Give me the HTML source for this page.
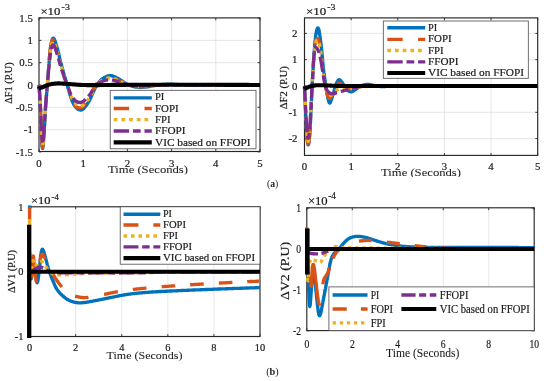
<!DOCTYPE html>
<html><head><meta charset="utf-8"><title>Figure</title>
<style>html,body{margin:0;padding:0;background:#fff}svg{display:block}</style></head>
<body>
<svg width="550" height="381" viewBox="0 0 550 381" font-family='"Liberation Serif", "Times New Roman", serif' fill="#1a1a1a">
<rect width="550" height="381" fill="#fff"/>
<filter id="bl" x="0" y="0" width="100%" height="100%"><feGaussianBlur stdDeviation="0.3"/></filter><g filter="url(#bl)">
<line x1="83.20" y1="17.90" x2="83.20" y2="151.50" stroke="#d9d9d9" stroke-width="0.65"/>
<line x1="127.40" y1="17.90" x2="127.40" y2="151.50" stroke="#d9d9d9" stroke-width="0.65"/>
<line x1="171.60" y1="17.90" x2="171.60" y2="151.50" stroke="#d9d9d9" stroke-width="0.65"/>
<line x1="215.80" y1="17.90" x2="215.80" y2="151.50" stroke="#d9d9d9" stroke-width="0.65"/>
<line x1="39.00" y1="129.60" x2="260.00" y2="129.60" stroke="#d9d9d9" stroke-width="0.65"/>
<line x1="39.00" y1="107.30" x2="260.00" y2="107.30" stroke="#d9d9d9" stroke-width="0.65"/>
<line x1="39.00" y1="85.00" x2="260.00" y2="85.00" stroke="#d9d9d9" stroke-width="0.65"/>
<line x1="39.00" y1="62.70" x2="260.00" y2="62.70" stroke="#d9d9d9" stroke-width="0.65"/>
<line x1="39.00" y1="40.40" x2="260.00" y2="40.40" stroke="#d9d9d9" stroke-width="0.65"/>
<rect x="39.00" y="17.90" width="221.00" height="133.60" fill="none" stroke="#262626" stroke-width="1.15"/>
<line x1="39.00" y1="151.50" x2="39.00" y2="149.10" stroke="#262626" stroke-width="0.9"/>
<line x1="39.00" y1="17.90" x2="39.00" y2="20.30" stroke="#262626" stroke-width="0.9"/>
<line x1="83.20" y1="151.50" x2="83.20" y2="149.10" stroke="#262626" stroke-width="0.9"/>
<line x1="83.20" y1="17.90" x2="83.20" y2="20.30" stroke="#262626" stroke-width="0.9"/>
<line x1="127.40" y1="151.50" x2="127.40" y2="149.10" stroke="#262626" stroke-width="0.9"/>
<line x1="127.40" y1="17.90" x2="127.40" y2="20.30" stroke="#262626" stroke-width="0.9"/>
<line x1="171.60" y1="151.50" x2="171.60" y2="149.10" stroke="#262626" stroke-width="0.9"/>
<line x1="171.60" y1="17.90" x2="171.60" y2="20.30" stroke="#262626" stroke-width="0.9"/>
<line x1="215.80" y1="151.50" x2="215.80" y2="149.10" stroke="#262626" stroke-width="0.9"/>
<line x1="215.80" y1="17.90" x2="215.80" y2="20.30" stroke="#262626" stroke-width="0.9"/>
<line x1="260.00" y1="151.50" x2="260.00" y2="149.10" stroke="#262626" stroke-width="0.9"/>
<line x1="260.00" y1="17.90" x2="260.00" y2="20.30" stroke="#262626" stroke-width="0.9"/>
<line x1="39.00" y1="151.90" x2="41.40" y2="151.90" stroke="#262626" stroke-width="0.9"/>
<line x1="260.00" y1="151.90" x2="257.60" y2="151.90" stroke="#262626" stroke-width="0.9"/>
<line x1="39.00" y1="129.60" x2="41.40" y2="129.60" stroke="#262626" stroke-width="0.9"/>
<line x1="260.00" y1="129.60" x2="257.60" y2="129.60" stroke="#262626" stroke-width="0.9"/>
<line x1="39.00" y1="107.30" x2="41.40" y2="107.30" stroke="#262626" stroke-width="0.9"/>
<line x1="260.00" y1="107.30" x2="257.60" y2="107.30" stroke="#262626" stroke-width="0.9"/>
<line x1="39.00" y1="85.00" x2="41.40" y2="85.00" stroke="#262626" stroke-width="0.9"/>
<line x1="260.00" y1="85.00" x2="257.60" y2="85.00" stroke="#262626" stroke-width="0.9"/>
<line x1="39.00" y1="62.70" x2="41.40" y2="62.70" stroke="#262626" stroke-width="0.9"/>
<line x1="260.00" y1="62.70" x2="257.60" y2="62.70" stroke="#262626" stroke-width="0.9"/>
<line x1="39.00" y1="40.40" x2="41.40" y2="40.40" stroke="#262626" stroke-width="0.9"/>
<line x1="260.00" y1="40.40" x2="257.60" y2="40.40" stroke="#262626" stroke-width="0.9"/>
<line x1="39.00" y1="18.10" x2="41.40" y2="18.10" stroke="#262626" stroke-width="0.9"/>
<line x1="260.00" y1="18.10" x2="257.60" y2="18.10" stroke="#262626" stroke-width="0.9"/>
<clipPath id="c1"><rect x="37.00" y="15.90" width="225.00" height="137.60"/></clipPath>
<g clip-path="url(#c1)">
<path d="M39.0 85.0 L39.0 85.0 L39.0 85.1 L39.0 85.2 L39.0 85.3 L39.0 85.4 L39.0 85.6 L39.1 85.9 L39.1 86.1 L39.1 86.4 L39.1 86.8 L39.2 87.1 L39.2 87.6 L39.2 88.0 L39.2 88.5 L39.3 89.0 L39.3 89.6 L39.4 90.2 L39.4 90.9 L39.5 91.6 L39.5 92.4 L39.6 93.2 L39.6 94.1 L39.7 95.0 L39.7 96.0 L39.8 97.1 L39.9 98.2 L39.9 99.3 L40.0 100.6 L40.1 101.9 L40.1 103.3 L40.2 104.8 L40.3 106.4 L40.4 108.0 L40.5 109.8 L40.5 111.7 L40.6 113.7 L40.7 115.9 L40.8 118.3 L40.9 120.8 L41.0 123.5 L41.1 126.2 L41.2 128.9 L41.3 131.6 L41.4 134.2 L41.5 136.6 L41.7 138.7 L41.8 140.7 L41.9 142.6 L42.0 144.3 L42.1 145.9 L42.3 147.1 L42.4 147.9 L42.5 148.3 L42.7 148.3 L42.8 147.8 L42.9 147.1 L43.1 146.1 L43.2 144.8 L43.4 143.4 L43.5 141.7 L43.7 139.7 L43.8 137.3 L44.0 134.8 L44.2 132.1 L44.3 129.4 L44.5 126.6 L44.7 123.7 L44.8 120.8 L45.0 117.8 L45.2 114.8 L45.3 111.8 L45.5 108.9 L45.7 106.1 L45.9 103.4 L46.1 100.8 L46.3 98.3 L46.5 95.7 L46.7 93.2 L46.9 90.7 L47.1 88.2 L47.3 85.6 L47.5 83.0 L47.7 80.3 L47.9 77.6 L48.1 74.8 L48.3 72.0 L48.5 69.3 L48.7 66.6 L49.0 63.9 L49.2 61.4 L49.4 58.8 L49.7 56.3 L49.9 53.8 L50.1 51.5 L50.4 49.3 L50.6 47.4 L50.8 45.8 L51.1 44.3 L51.3 43.0 L51.6 41.8 L51.8 40.8 L52.1 39.9 L52.4 39.1 L52.6 38.6 L52.9 38.3 L53.1 38.2 L53.4 38.2 L53.7 38.4 L54.0 38.7 L54.2 39.2 L54.5 39.7 L54.8 40.4 L55.1 41.1 L55.4 41.9 L55.6 42.8 L55.9 43.8 L56.2 44.7 L56.5 45.7 L56.8 46.7 L57.1 47.7 L57.4 48.8 L57.7 50.0 L58.0 51.2 L58.4 52.4 L58.7 53.7 L59.0 55.0 L59.3 56.3 L59.6 57.7 L59.9 59.0 L60.3 60.3 L60.6 61.6 L60.9 62.9 L61.3 64.2 L61.6 65.4 L61.9 66.7 L62.3 68.0 L62.6 69.2 L63.0 70.5 L63.3 71.7 L63.7 73.0 L64.0 74.3 L64.4 75.5 L64.7 76.8 L65.1 78.0 L65.5 79.3 L65.8 80.6 L66.2 81.8 L66.6 83.1 L66.9 84.3 L67.3 85.6 L67.7 86.8 L68.1 88.1 L68.5 89.4 L68.9 90.8 L69.2 92.1 L69.6 93.4 L70.0 94.7 L70.4 96.0 L70.8 97.2 L71.2 98.4 L71.6 99.5 L72.0 100.6 L72.4 101.6 L72.9 102.5 L73.3 103.4 L73.7 104.1 L74.1 104.8 L74.5 105.4 L75.0 106.0 L75.4 106.6 L75.8 107.1 L76.2 107.6 L76.7 108.1 L77.1 108.5 L77.6 108.8 L78.0 109.2 L78.4 109.4 L78.9 109.6 L79.3 109.8 L79.8 109.9 L80.2 110.0 L80.7 110.0 L81.2 110.0 L81.6 109.8 L82.1 109.6 L82.6 109.4 L83.0 109.0 L83.5 108.7 L84.0 108.2 L84.4 107.7 L84.9 107.1 L85.4 106.5 L85.9 105.9 L86.4 105.2 L86.9 104.5 L87.4 103.8 L87.9 103.0 L88.4 102.2 L88.9 101.4 L89.4 100.5 L89.9 99.5 L90.4 98.5 L90.9 97.4 L91.4 96.3 L91.9 95.2 L92.4 94.0 L92.9 92.8 L93.5 91.7 L94.0 90.5 L94.5 89.4 L95.0 88.3 L95.6 87.3 L96.1 86.3 L96.6 85.4 L97.2 84.6 L97.7 83.8 L98.3 83.1 L98.8 82.3 L99.4 81.7 L99.9 81.1 L100.5 80.5 L101.0 79.9 L101.6 79.4 L102.2 79.0 L102.7 78.5 L103.3 78.2 L103.9 77.8 L104.4 77.5 L105.0 77.2 L105.6 76.9 L106.2 76.6 L106.8 76.4 L107.3 76.1 L107.9 76.0 L108.5 75.8 L109.1 75.7 L109.7 75.6 L110.3 75.6 L110.9 75.7 L111.5 75.7 L112.1 75.9 L112.7 76.0 L113.3 76.2 L113.9 76.5 L114.6 76.7 L115.2 77.0 L115.8 77.3 L116.4 77.6 L117.0 77.9 L117.7 78.3 L118.3 78.6 L118.9 79.0 L119.6 79.3 L120.2 79.7 L120.9 80.1 L121.5 80.6 L122.1 81.0 L122.8 81.5 L123.4 81.9 L124.1 82.4 L124.8 82.8 L125.4 83.2 L126.1 83.6 L126.7 84.0 L127.4 84.4 L128.1 84.7 L128.7 85.0 L129.4 85.3 L130.1 85.5 L130.8 85.7 L131.4 86.0 L132.1 86.2 L132.8 86.4 L133.5 86.5 L134.2 86.7 L134.9 86.9 L135.6 87.0 L136.3 87.1 L137.0 87.2 L137.7 87.3 L138.4 87.4 L139.1 87.4 L139.8 87.4 L140.5 87.5 L141.2 87.4 L142.0 87.4 L142.7 87.4 L143.4 87.3 L144.1 87.3 L144.9 87.2 L145.6 87.1 L146.3 87.0 L147.1 86.9 L147.8 86.8 L148.5 86.7 L149.3 86.5 L150.0 86.4 L150.8 86.3 L151.5 86.1 L152.3 86.0 L153.1 85.8 L153.8 85.7 L154.6 85.6 L155.3 85.4 L156.1 85.3 L156.9 85.2 L157.6 85.1 L158.4 85.0 L159.2 84.9 L160.0 84.8 L160.8 84.7 L161.5 84.6 L162.3 84.5 L163.1 84.5 L163.9 84.4 L164.7 84.3 L165.5 84.3 L166.3 84.2 L167.1 84.2 L167.9 84.1 L168.7 84.1 L169.5 84.1 L170.3 84.1 L171.1 84.1 L172.0 84.2 L172.8 84.2 L173.6 84.2 L174.4 84.3 L175.3 84.4 L176.1 84.4 L176.9 84.5 L177.8 84.5 L178.6 84.6 L179.4 84.7 L180.3 84.7 L181.1 84.8 L182.0 84.9 L182.8 84.9 L183.7 85.0 L184.5 85.0 L185.4 85.0 L186.2 85.0 L187.1 85.1 L188.0 85.1 L188.8 85.1 L189.7 85.1 L190.6 85.1 L191.4 85.1 L192.3 85.1 L193.2 85.1 L194.1 85.1 L195.0 85.1 L195.9 85.1 L196.8 85.1 L197.6 85.1 L198.5 85.1 L199.4 85.1 L200.3 85.1 L201.2 85.1 L202.1 85.0 L203.1 85.0 L204.0 85.0 L204.9 85.0 L205.8 85.0 L206.7 85.0 L207.6 85.0 L208.5 85.0 L209.5 85.0 L210.4 85.0 L211.3 85.0 L212.3 85.0 L213.2 85.0 L214.1 85.0 L215.1 85.0 L216.0 85.0 L217.0 85.0 L217.9 85.0 L218.9 85.0 L219.8 85.0 L220.8 85.0 L221.7 85.0 L222.7 85.0 L223.7 85.0 L224.6 85.0 L225.6 85.0 L226.6 85.0 L227.5 85.0 L228.5 85.0 L229.5 85.0 L230.5 85.0 L231.4 85.0 L232.4 85.0 L233.4 85.0 L234.4 85.0 L235.4 85.0 L236.4 85.0 L237.4 85.0 L238.4 85.0 L239.4 85.0 L240.4 85.0 L241.4 85.0 L242.4 85.0 L243.4 85.0 L244.5 85.0 L245.5 85.0 L246.5 85.0 L247.5 85.0 L248.5 85.0 L249.6 85.0 L250.6 85.0 L251.6 85.0 L252.7 85.0 L253.7 85.0 L254.8 85.0 L255.8 85.0 L256.8 85.0 L257.9 85.0 L258.9 85.0 L260.0 85.0" fill="none" stroke="#0072BD" stroke-width="3.35" stroke-linejoin="round" />
<path d="M39.0 85.0 L39.0 85.0 L39.0 85.1 L39.0 85.2 L39.0 85.3 L39.0 85.4 L39.0 85.6 L39.1 85.9 L39.1 86.1 L39.1 86.4 L39.1 86.8 L39.2 87.2 L39.2 87.6 L39.2 88.0 L39.2 88.5 L39.3 89.1 L39.3 89.7 L39.4 90.3 L39.4 91.0 L39.5 91.7 L39.5 92.5 L39.6 93.3 L39.6 94.2 L39.7 95.1 L39.7 96.1 L39.8 97.2 L39.9 98.3 L39.9 99.5 L40.0 100.8 L40.1 102.1 L40.1 103.5 L40.2 105.0 L40.3 106.6 L40.4 108.3 L40.5 110.1 L40.5 112.0 L40.6 114.1 L40.7 116.3 L40.8 118.8 L40.9 121.4 L41.0 124.0 L41.1 126.7 L41.2 129.4 L41.3 132.1 L41.4 134.5 L41.5 136.8 L41.7 138.8 L41.8 140.8 L41.9 142.6 L42.0 144.2 L42.1 145.5 L42.3 146.6 L42.4 147.2 L42.5 147.3 L42.7 147.0 L42.8 146.4 L42.9 145.5 L43.1 144.3 L43.2 143.0 L43.4 141.4 L43.5 139.5 L43.7 137.3 L43.8 134.8 L44.0 132.2 L44.2 129.5 L44.3 126.8 L44.5 123.9 L44.7 121.0 L44.8 118.1 L45.0 115.1 L45.2 112.1 L45.3 109.2 L45.5 106.4 L45.7 103.7 L45.9 101.1 L46.1 98.6 L46.3 96.1 L46.5 93.6 L46.7 91.1 L46.9 88.7 L47.1 86.1 L47.3 83.6 L47.5 80.9 L47.7 78.2 L47.9 75.5 L48.1 72.8 L48.3 70.1 L48.5 67.4 L48.7 64.8 L49.0 62.3 L49.2 59.8 L49.4 57.3 L49.7 54.9 L49.9 52.6 L50.1 50.5 L50.4 48.6 L50.6 47.0 L50.8 45.6 L51.1 44.4 L51.3 43.2 L51.6 42.2 L51.8 41.3 L52.1 40.7 L52.4 40.2 L52.6 39.9 L52.9 39.8 L53.1 39.9 L53.4 40.1 L53.7 40.4 L54.0 40.9 L54.2 41.5 L54.5 42.1 L54.8 42.9 L55.1 43.7 L55.4 44.6 L55.6 45.5 L55.9 46.5 L56.2 47.4 L56.5 48.4 L56.8 49.5 L57.1 50.6 L57.4 51.7 L57.7 52.9 L58.0 54.1 L58.4 55.4 L58.7 56.7 L59.0 58.0 L59.3 59.3 L59.6 60.6 L59.9 61.8 L60.3 63.1 L60.6 64.3 L60.9 65.6 L61.3 66.8 L61.6 68.0 L61.9 69.2 L62.3 70.4 L62.6 71.7 L63.0 72.9 L63.3 74.1 L63.7 75.3 L64.0 76.5 L64.4 77.7 L64.7 78.9 L65.1 80.1 L65.5 81.3 L65.8 82.5 L66.2 83.7 L66.6 84.9 L66.9 86.1 L67.3 87.3 L67.7 88.6 L68.1 89.8 L68.5 91.1 L68.9 92.3 L69.2 93.5 L69.6 94.7 L70.0 95.9 L70.4 97.1 L70.8 98.2 L71.2 99.2 L71.6 100.2 L72.0 101.0 L72.4 101.8 L72.9 102.5 L73.3 103.2 L73.7 103.8 L74.1 104.4 L74.5 104.9 L75.0 105.4 L75.4 105.8 L75.8 106.3 L76.2 106.6 L76.7 107.0 L77.1 107.3 L77.6 107.5 L78.0 107.7 L78.4 107.8 L78.9 107.9 L79.3 108.0 L79.8 108.0 L80.2 107.9 L80.7 107.8 L81.2 107.6 L81.6 107.4 L82.1 107.1 L82.6 106.7 L83.0 106.3 L83.5 105.8 L84.0 105.3 L84.4 104.7 L84.9 104.1 L85.4 103.5 L85.9 102.8 L86.4 102.1 L86.9 101.4 L87.4 100.6 L87.9 99.9 L88.4 99.0 L88.9 98.1 L89.4 97.2 L89.9 96.2 L90.4 95.2 L90.9 94.1 L91.4 93.1 L91.9 92.0 L92.4 90.9 L92.9 89.9 L93.5 88.9 L94.0 87.9 L94.5 87.0 L95.0 86.1 L95.6 85.3 L96.1 84.5 L96.6 83.8 L97.2 83.2 L97.7 82.5 L98.3 82.0 L98.8 81.4 L99.4 80.9 L99.9 80.4 L100.5 80.0 L101.0 79.6 L101.6 79.2 L102.2 78.9 L102.7 78.6 L103.3 78.3 L103.9 78.0 L104.4 77.8 L105.0 77.6 L105.6 77.4 L106.2 77.2 L106.8 77.0 L107.3 76.9 L107.9 76.9 L108.5 76.8 L109.1 76.8 L109.7 76.9 L110.3 77.0 L110.9 77.1 L111.5 77.3 L112.1 77.5 L112.7 77.7 L113.3 77.9 L113.9 78.2 L114.6 78.5 L115.2 78.8 L115.8 79.1 L116.4 79.4 L117.0 79.7 L117.7 80.0 L118.3 80.3 L118.9 80.7 L119.6 81.0 L120.2 81.4 L120.9 81.8 L121.5 82.2 L122.1 82.6 L122.8 83.0 L123.4 83.4 L124.1 83.7 L124.8 84.1 L125.4 84.4 L126.1 84.7 L126.7 84.9 L127.4 85.1 L128.1 85.4 L128.7 85.6 L129.4 85.8 L130.1 85.9 L130.8 86.1 L131.4 86.3 L132.1 86.4 L132.8 86.5 L133.5 86.6 L134.2 86.7 L134.9 86.8 L135.6 86.9 L136.3 87.0 L137.0 87.0 L137.7 87.0 L138.4 87.0 L139.1 87.0 L139.8 87.0 L140.5 87.0 L141.2 86.9 L142.0 86.9 L142.7 86.8 L143.4 86.7 L144.1 86.6 L144.9 86.6 L145.6 86.5 L146.3 86.4 L147.1 86.3 L147.8 86.1 L148.5 86.0 L149.3 85.9 L150.0 85.8 L150.8 85.7 L151.5 85.6 L152.3 85.5 L153.1 85.4 L153.8 85.3 L154.6 85.2 L155.3 85.1 L156.1 85.0 L156.9 84.9 L157.6 84.8 L158.4 84.8 L159.2 84.7 L160.0 84.6 L160.8 84.6 L161.5 84.5 L162.3 84.4 L163.1 84.4 L163.9 84.4 L164.7 84.3 L165.5 84.3 L166.3 84.3 L167.1 84.3 L167.9 84.3 L168.7 84.3 L169.5 84.4 L170.3 84.4 L171.1 84.4 L172.0 84.5 L172.8 84.5 L173.6 84.6 L174.4 84.6 L175.3 84.7 L176.1 84.7 L176.9 84.8 L177.8 84.8 L178.6 84.9 L179.4 84.9 L180.3 84.9 L181.1 85.0 L182.0 85.0 L182.8 85.0 L183.7 85.0 L184.5 85.0 L185.4 85.1 L186.2 85.1 L187.1 85.1 L188.0 85.1 L188.8 85.1 L189.7 85.1 L190.6 85.1 L191.4 85.1 L192.3 85.1 L193.2 85.1 L194.1 85.1 L195.0 85.1 L195.9 85.1 L196.8 85.1 L197.6 85.0 L198.5 85.0 L199.4 85.0 L200.3 85.0 L201.2 85.0 L202.1 85.0 L203.1 85.0 L204.0 85.0 L204.9 85.0 L205.8 85.0 L206.7 85.0 L207.6 85.0 L208.5 85.0 L209.5 85.0 L210.4 85.0 L211.3 85.0 L212.3 85.0 L213.2 85.0 L214.1 85.0 L215.1 85.0 L216.0 85.0 L217.0 85.0 L217.9 85.0 L218.9 85.0 L219.8 85.0 L220.8 85.0 L221.7 85.0 L222.7 85.0 L223.7 85.0 L224.6 85.0 L225.6 85.0 L226.6 85.0 L227.5 85.0 L228.5 85.0 L229.5 85.0 L230.5 85.0 L231.4 85.0 L232.4 85.0 L233.4 85.0 L234.4 85.0 L235.4 85.0 L236.4 85.0 L237.4 85.0 L238.4 85.0 L239.4 85.0 L240.4 85.0 L241.4 85.0 L242.4 85.0 L243.4 85.0 L244.5 85.0 L245.5 85.0 L246.5 85.0 L247.5 85.0 L248.5 85.0 L249.6 85.0 L250.6 85.0 L251.6 85.0 L252.7 85.0 L253.7 85.0 L254.8 85.0 L255.8 85.0 L256.8 85.0 L257.9 85.0 L258.9 85.0 L260.0 85.0" fill="none" stroke="#D95319" stroke-width="3.35" stroke-linejoin="round" stroke-dasharray="0.0 22.4 46.5 81.0 22.7 67.0 14.8 12.7 10.3 21.4 10.1 15.8 13.4 2000.0" />
<path d="M39.0 85.0 L39.0 85.0 L39.0 85.1 L39.0 85.2 L39.0 85.3 L39.0 85.4 L39.0 85.6 L39.1 85.8 L39.1 86.1 L39.1 86.4 L39.1 86.7 L39.2 87.1 L39.2 87.5 L39.2 87.9 L39.2 88.4 L39.3 88.9 L39.3 89.5 L39.4 90.1 L39.4 90.7 L39.5 91.4 L39.5 92.2 L39.6 93.0 L39.6 93.8 L39.7 94.7 L39.7 95.7 L39.8 96.7 L39.9 97.7 L39.9 98.9 L40.0 100.1 L40.1 101.3 L40.1 102.7 L40.2 104.1 L40.3 105.6 L40.4 107.2 L40.5 108.9 L40.5 110.7 L40.6 112.7 L40.7 114.8 L40.8 117.1 L40.9 119.5 L41.0 122.1 L41.1 124.7 L41.2 127.3 L41.3 129.9 L41.4 132.3 L41.5 134.6 L41.7 136.6 L41.8 138.5 L41.9 140.3 L42.0 142.0 L42.1 143.4 L42.3 144.6 L42.4 145.4 L42.5 145.7 L42.7 145.6 L42.8 145.2 L42.9 144.4 L43.1 143.4 L43.2 142.2 L43.4 140.8 L43.5 139.2 L43.7 137.2 L43.8 134.9 L44.0 132.5 L44.2 129.9 L44.3 127.3 L44.5 124.6 L44.7 121.8 L44.8 119.0 L45.0 116.2 L45.2 113.3 L45.3 110.4 L45.5 107.7 L45.7 105.0 L45.9 102.5 L46.1 100.0 L46.3 97.6 L46.5 95.2 L46.7 92.8 L46.9 90.4 L47.1 88.0 L47.3 85.6 L47.5 83.1 L47.7 80.6 L47.9 78.0 L48.1 75.4 L48.3 72.8 L48.5 70.2 L48.7 67.7 L49.0 65.2 L49.2 62.8 L49.4 60.5 L49.7 58.1 L49.9 55.8 L50.1 53.7 L50.4 51.7 L50.6 49.9 L50.8 48.4 L51.1 47.1 L51.3 46.0 L51.6 44.9 L51.8 43.9 L52.1 43.1 L52.4 42.5 L52.6 42.0 L52.9 41.8 L53.1 41.7 L53.4 41.8 L53.7 42.0 L54.0 42.3 L54.2 42.8 L54.5 43.3 L54.8 44.0 L55.1 44.7 L55.4 45.5 L55.6 46.3 L55.9 47.2 L56.2 48.1 L56.5 49.1 L56.8 50.0 L57.1 51.0 L57.4 52.0 L57.7 53.1 L58.0 54.3 L58.4 55.4 L58.7 56.6 L59.0 57.8 L59.3 59.1 L59.6 60.3 L59.9 61.5 L60.3 62.7 L60.6 63.9 L60.9 65.1 L61.3 66.3 L61.6 67.4 L61.9 68.6 L62.3 69.7 L62.6 70.9 L63.0 72.0 L63.3 73.2 L63.7 74.3 L64.0 75.4 L64.4 76.6 L64.7 77.7 L65.1 78.8 L65.5 79.9 L65.8 81.1 L66.2 82.2 L66.6 83.3 L66.9 84.4 L67.3 85.5 L67.7 86.6 L68.1 87.8 L68.5 88.9 L68.9 90.1 L69.2 91.2 L69.6 92.3 L70.0 93.5 L70.4 94.6 L70.8 95.6 L71.2 96.7 L71.6 97.6 L72.0 98.5 L72.4 99.4 L72.9 100.2 L73.3 100.9 L73.7 101.5 L74.1 102.0 L74.5 102.6 L75.0 103.1 L75.4 103.5 L75.8 103.9 L76.2 104.3 L76.7 104.7 L77.1 105.0 L77.6 105.3 L78.0 105.5 L78.4 105.7 L78.9 105.9 L79.3 106.0 L79.8 106.1 L80.2 106.1 L80.7 106.1 L81.2 106.0 L81.6 105.8 L82.1 105.6 L82.6 105.4 L83.0 105.1 L83.5 104.7 L84.0 104.3 L84.4 103.9 L84.9 103.4 L85.4 102.9 L85.9 102.3 L86.4 101.7 L86.9 101.1 L87.4 100.4 L87.9 99.8 L88.4 99.1 L88.9 98.4 L89.4 97.7 L89.9 96.8 L90.4 96.0 L90.9 95.1 L91.4 94.2 L91.9 93.2 L92.4 92.3 L92.9 91.3 L93.5 90.4 L94.0 89.4 L94.5 88.5 L95.0 87.7 L95.6 86.8 L96.1 86.0 L96.6 85.3 L97.2 84.7 L97.7 84.0 L98.3 83.5 L98.8 82.9 L99.4 82.4 L99.9 81.9 L100.5 81.4 L101.0 81.0 L101.6 80.6 L102.2 80.3 L102.7 80.0 L103.3 79.7 L103.9 79.4 L104.4 79.2 L105.0 78.9 L105.6 78.7 L106.2 78.5 L106.8 78.3 L107.3 78.2 L107.9 78.1 L108.5 78.0 L109.1 77.9 L109.7 77.9 L110.3 77.9 L110.9 77.9 L111.5 78.0 L112.1 78.1 L112.7 78.2 L113.3 78.4 L113.9 78.6 L114.6 78.8 L115.2 79.0 L115.8 79.2 L116.4 79.5 L117.0 79.7 L117.7 80.0 L118.3 80.3 L118.9 80.5 L119.6 80.8 L120.2 81.1 L120.9 81.4 L121.5 81.8 L122.1 82.1 L122.8 82.4 L123.4 82.8 L124.1 83.1 L124.8 83.4 L125.4 83.7 L126.1 84.0 L126.7 84.3 L127.4 84.6 L128.1 84.8 L128.7 85.0 L129.4 85.2 L130.1 85.4 L130.8 85.5 L131.4 85.7 L132.1 85.8 L132.8 86.0 L133.5 86.1 L134.2 86.2 L134.9 86.3 L135.6 86.4 L136.3 86.5 L137.0 86.5 L137.7 86.6 L138.4 86.6 L139.1 86.7 L139.8 86.7 L140.5 86.7 L141.2 86.7 L142.0 86.7 L142.7 86.6 L143.4 86.6 L144.1 86.5 L144.9 86.5 L145.6 86.4 L146.3 86.3 L147.1 86.3 L147.8 86.2 L148.5 86.1 L149.3 86.0 L150.0 85.9 L150.8 85.8 L151.5 85.7 L152.3 85.7 L153.1 85.6 L153.8 85.5 L154.6 85.4 L155.3 85.3 L156.1 85.2 L156.9 85.1 L157.6 85.1 L158.4 85.0 L159.2 84.9 L160.0 84.9 L160.8 84.8 L161.5 84.8 L162.3 84.7 L163.1 84.7 L163.9 84.6 L164.7 84.6 L165.5 84.5 L166.3 84.5 L167.1 84.5 L167.9 84.5 L168.7 84.4 L169.5 84.4 L170.3 84.5 L171.1 84.5 L172.0 84.5 L172.8 84.5 L173.6 84.5 L174.4 84.6 L175.3 84.6 L176.1 84.6 L176.9 84.7 L177.8 84.7 L178.6 84.8 L179.4 84.8 L180.3 84.8 L181.1 84.9 L182.0 84.9 L182.8 84.9 L183.7 85.0 L184.5 85.0 L185.4 85.0 L186.2 85.0 L187.1 85.0 L188.0 85.0 L188.8 85.0 L189.7 85.1 L190.6 85.1 L191.4 85.1 L192.3 85.1 L193.2 85.1 L194.1 85.1 L195.0 85.1 L195.9 85.1 L196.8 85.1 L197.6 85.0 L198.5 85.0 L199.4 85.0 L200.3 85.0 L201.2 85.0 L202.1 85.0 L203.1 85.0 L204.0 85.0 L204.9 85.0 L205.8 85.0 L206.7 85.0 L207.6 85.0 L208.5 85.0 L209.5 85.0 L210.4 85.0 L211.3 85.0 L212.3 85.0 L213.2 85.0 L214.1 85.0 L215.1 85.0 L216.0 85.0 L217.0 85.0 L217.9 85.0 L218.9 85.0 L219.8 85.0 L220.8 85.0 L221.7 85.0 L222.7 85.0 L223.7 85.0 L224.6 85.0 L225.6 85.0 L226.6 85.0 L227.5 85.0 L228.5 85.0 L229.5 85.0 L230.5 85.0 L231.4 85.0 L232.4 85.0 L233.4 85.0 L234.4 85.0 L235.4 85.0 L236.4 85.0 L237.4 85.0 L238.4 85.0 L239.4 85.0 L240.4 85.0 L241.4 85.0 L242.4 85.0 L243.4 85.0 L244.5 85.0 L245.5 85.0 L246.5 85.0 L247.5 85.0 L248.5 85.0 L249.6 85.0 L250.6 85.0 L251.6 85.0 L252.7 85.0 L253.7 85.0 L254.8 85.0 L255.8 85.0 L256.8 85.0 L257.9 85.0 L258.9 85.0 L260.0 85.0" fill="none" stroke="#EDB120" stroke-width="3.35" stroke-linejoin="round" stroke-dasharray="3.66 4.04" />
<path d="M39.0 85.0 L39.0 85.0 L39.0 85.1 L39.0 85.1 L39.0 85.3 L39.0 85.4 L39.0 85.6 L39.1 85.8 L39.1 86.1 L39.1 86.4 L39.1 86.7 L39.2 87.0 L39.2 87.4 L39.2 87.9 L39.2 88.3 L39.3 88.8 L39.3 89.4 L39.4 90.0 L39.4 90.6 L39.5 91.3 L39.5 92.0 L39.6 92.8 L39.6 93.6 L39.7 94.5 L39.7 95.4 L39.8 96.4 L39.9 97.4 L39.9 98.5 L40.0 99.7 L40.1 100.9 L40.1 102.2 L40.2 103.6 L40.3 105.1 L40.4 106.7 L40.5 108.3 L40.5 110.0 L40.6 111.9 L40.7 114.0 L40.8 116.2 L40.9 118.6 L41.0 121.0 L41.1 123.5 L41.2 126.0 L41.3 128.5 L41.4 130.9 L41.5 133.1 L41.7 135.0 L41.8 136.8 L41.9 138.5 L42.0 140.1 L42.1 141.5 L42.3 142.6 L42.4 143.3 L42.5 143.6 L42.7 143.5 L42.8 143.0 L42.9 142.3 L43.1 141.3 L43.2 140.1 L43.4 138.7 L43.5 137.1 L43.7 135.2 L43.8 132.9 L44.0 130.5 L44.2 128.0 L44.3 125.5 L44.5 122.9 L44.7 120.3 L44.8 117.5 L45.0 114.8 L45.2 112.0 L45.3 109.3 L45.5 106.6 L45.7 104.1 L45.9 101.6 L46.1 99.3 L46.3 96.9 L46.5 94.6 L46.7 92.4 L46.9 90.1 L47.1 87.9 L47.3 85.6 L47.5 83.2 L47.7 80.8 L47.9 78.4 L48.1 75.9 L48.3 73.5 L48.5 71.1 L48.7 68.7 L49.0 66.4 L49.2 64.2 L49.4 62.0 L49.7 59.8 L49.9 57.7 L50.1 55.7 L50.4 53.9 L50.6 52.2 L50.8 50.9 L51.1 49.7 L51.3 48.6 L51.6 47.7 L51.8 46.8 L52.1 46.1 L52.4 45.6 L52.6 45.2 L52.9 45.0 L53.1 45.0 L53.4 45.1 L53.7 45.3 L54.0 45.7 L54.2 46.1 L54.5 46.7 L54.8 47.3 L55.1 48.0 L55.4 48.8 L55.6 49.6 L55.9 50.5 L56.2 51.4 L56.5 52.2 L56.8 53.1 L57.1 54.1 L57.4 55.1 L57.7 56.1 L58.0 57.1 L58.4 58.2 L58.7 59.3 L59.0 60.5 L59.3 61.6 L59.6 62.7 L59.9 63.9 L60.3 65.0 L60.6 66.1 L60.9 67.2 L61.3 68.2 L61.6 69.3 L61.9 70.3 L62.3 71.4 L62.6 72.4 L63.0 73.5 L63.3 74.5 L63.7 75.5 L64.0 76.5 L64.4 77.6 L64.7 78.6 L65.1 79.6 L65.5 80.6 L65.8 81.5 L66.2 82.5 L66.6 83.5 L66.9 84.5 L67.3 85.4 L67.7 86.4 L68.1 87.4 L68.5 88.4 L68.9 89.4 L69.2 90.4 L69.6 91.3 L70.0 92.3 L70.4 93.2 L70.8 94.1 L71.2 95.0 L71.6 95.8 L72.0 96.6 L72.4 97.3 L72.9 97.9 L73.3 98.5 L73.7 99.0 L74.1 99.5 L74.5 99.9 L75.0 100.3 L75.4 100.6 L75.8 101.0 L76.2 101.3 L76.7 101.5 L77.1 101.8 L77.6 102.0 L78.0 102.2 L78.4 102.3 L78.9 102.4 L79.3 102.4 L79.8 102.5 L80.2 102.5 L80.7 102.4 L81.2 102.3 L81.6 102.2 L82.1 102.0 L82.6 101.7 L83.0 101.4 L83.5 101.1 L84.0 100.8 L84.4 100.4 L84.9 99.9 L85.4 99.5 L85.9 99.0 L86.4 98.5 L86.9 98.0 L87.4 97.4 L87.9 96.9 L88.4 96.3 L88.9 95.7 L89.4 95.1 L89.9 94.4 L90.4 93.7 L90.9 93.0 L91.4 92.3 L91.9 91.5 L92.4 90.7 L92.9 90.0 L93.5 89.2 L94.0 88.5 L94.5 87.8 L95.0 87.1 L95.6 86.4 L96.1 85.8 L96.6 85.2 L97.2 84.7 L97.7 84.3 L98.3 83.8 L98.8 83.4 L99.4 83.0 L99.9 82.6 L100.5 82.3 L101.0 82.0 L101.6 81.7 L102.2 81.4 L102.7 81.2 L103.3 81.0 L103.9 80.8 L104.4 80.6 L105.0 80.5 L105.6 80.3 L106.2 80.2 L106.8 80.1 L107.3 80.0 L107.9 79.9 L108.5 79.8 L109.1 79.8 L109.7 79.8 L110.3 79.8 L110.9 79.8 L111.5 79.9 L112.1 80.0 L112.7 80.1 L113.3 80.2 L113.9 80.4 L114.6 80.5 L115.2 80.7 L115.8 80.9 L116.4 81.1 L117.0 81.3 L117.7 81.5 L118.3 81.6 L118.9 81.8 L119.6 82.1 L120.2 82.3 L120.9 82.5 L121.5 82.7 L122.1 83.0 L122.8 83.2 L123.4 83.4 L124.1 83.7 L124.8 83.9 L125.4 84.1 L126.1 84.3 L126.7 84.5 L127.4 84.7 L128.1 84.9 L128.7 85.0 L129.4 85.1 L130.1 85.2 L130.8 85.4 L131.4 85.5 L132.1 85.6 L132.8 85.6 L133.5 85.7 L134.2 85.8 L134.9 85.9 L135.6 85.9 L136.3 86.0 L137.0 86.0 L137.7 86.0 L138.4 86.1 L139.1 86.1 L139.8 86.1 L140.5 86.1 L141.2 86.1 L142.0 86.1 L142.7 86.0 L143.4 86.0 L144.1 86.0 L144.9 85.9 L145.6 85.9 L146.3 85.9 L147.1 85.8 L147.8 85.7 L148.5 85.7 L149.3 85.6 L150.0 85.6 L150.8 85.5 L151.5 85.5 L152.3 85.4 L153.1 85.3 L153.8 85.3 L154.6 85.2 L155.3 85.2 L156.1 85.1 L156.9 85.1 L157.6 85.0 L158.4 85.0 L159.2 85.0 L160.0 84.9 L160.8 84.9 L161.5 84.9 L162.3 84.8 L163.1 84.8 L163.9 84.8 L164.7 84.7 L165.5 84.7 L166.3 84.7 L167.1 84.7 L167.9 84.7 L168.7 84.7 L169.5 84.7 L170.3 84.7 L171.1 84.7 L172.0 84.7 L172.8 84.7 L173.6 84.7 L174.4 84.8 L175.3 84.8 L176.1 84.8 L176.9 84.8 L177.8 84.8 L178.6 84.9 L179.4 84.9 L180.3 84.9 L181.1 84.9 L182.0 85.0 L182.8 85.0 L183.7 85.0 L184.5 85.0 L185.4 85.0 L186.2 85.0 L187.1 85.0 L188.0 85.0 L188.8 85.0 L189.7 85.0 L190.6 85.0 L191.4 85.0 L192.3 85.0 L193.2 85.0 L194.1 85.0 L195.0 85.0 L195.9 85.0 L196.8 85.0 L197.6 85.0 L198.5 85.0 L199.4 85.0 L200.3 85.0 L201.2 85.0 L202.1 85.0 L203.1 85.0 L204.0 85.0 L204.9 85.0 L205.8 85.0 L206.7 85.0 L207.6 85.0 L208.5 85.0 L209.5 85.0 L210.4 85.0 L211.3 85.0 L212.3 85.0 L213.2 85.0 L214.1 85.0 L215.1 85.0 L216.0 85.0 L217.0 85.0 L217.9 85.0 L218.9 85.0 L219.8 85.0 L220.8 85.0 L221.7 85.0 L222.7 85.0 L223.7 85.0 L224.6 85.0 L225.6 85.0 L226.6 85.0 L227.5 85.0 L228.5 85.0 L229.5 85.0 L230.5 85.0 L231.4 85.0 L232.4 85.0 L233.4 85.0 L234.4 85.0 L235.4 85.0 L236.4 85.0 L237.4 85.0 L238.4 85.0 L239.4 85.0 L240.4 85.0 L241.4 85.0 L242.4 85.0 L243.4 85.0 L244.5 85.0 L245.5 85.0 L246.5 85.0 L247.5 85.0 L248.5 85.0 L249.6 85.0 L250.6 85.0 L251.6 85.0 L252.7 85.0 L253.7 85.0 L254.8 85.0 L255.8 85.0 L256.8 85.0 L257.9 85.0 L258.9 85.0 L260.0 85.0" fill="none" stroke="#7E2F8E" stroke-width="3.35" stroke-linejoin="round" stroke-dasharray="15.40 3.85 7.70 3.85" />
<path d="M39.0 88.6 L39.0 88.6 L39.0 88.6 L39.0 88.6 L39.0 88.6 L39.0 88.6 L39.0 88.5 L39.1 88.5 L39.1 88.5 L39.1 88.5 L39.1 88.5 L39.2 88.5 L39.2 88.5 L39.2 88.5 L39.2 88.5 L39.3 88.5 L39.3 88.4 L39.4 88.4 L39.4 88.4 L39.5 88.4 L39.5 88.4 L39.6 88.3 L39.6 88.3 L39.7 88.3 L39.7 88.3 L39.8 88.2 L39.9 88.2 L39.9 88.2 L40.0 88.2 L40.1 88.1 L40.1 88.1 L40.2 88.1 L40.3 88.0 L40.4 88.0 L40.5 88.0 L40.5 87.9 L40.6 87.9 L40.7 87.9 L40.8 87.8 L40.9 87.8 L41.0 87.8 L41.1 87.7 L41.2 87.7 L41.3 87.6 L41.4 87.6 L41.5 87.5 L41.7 87.5 L41.8 87.4 L41.9 87.4 L42.0 87.3 L42.1 87.3 L42.3 87.2 L42.4 87.2 L42.5 87.1 L42.7 87.1 L42.8 87.0 L42.9 87.0 L43.1 86.9 L43.2 86.9 L43.4 86.8 L43.5 86.7 L43.7 86.7 L43.8 86.6 L44.0 86.5 L44.2 86.5 L44.3 86.4 L44.5 86.3 L44.7 86.3 L44.8 86.2 L45.0 86.1 L45.2 86.1 L45.3 86.0 L45.5 85.9 L45.7 85.8 L45.9 85.8 L46.1 85.7 L46.3 85.6 L46.5 85.5 L46.7 85.4 L46.9 85.4 L47.1 85.3 L47.3 85.2 L47.5 85.1 L47.7 85.0 L47.9 85.0 L48.1 84.9 L48.3 84.8 L48.5 84.7 L48.7 84.7 L49.0 84.6 L49.2 84.5 L49.4 84.5 L49.7 84.4 L49.9 84.4 L50.1 84.3 L50.4 84.3 L50.6 84.2 L50.8 84.2 L51.1 84.1 L51.3 84.1 L51.6 84.0 L51.8 84.0 L52.1 83.9 L52.4 83.9 L52.6 83.9 L52.9 83.8 L53.1 83.8 L53.4 83.8 L53.7 83.7 L54.0 83.7 L54.2 83.7 L54.5 83.6 L54.8 83.6 L55.1 83.6 L55.4 83.6 L55.6 83.5 L55.9 83.5 L56.2 83.5 L56.5 83.5 L56.8 83.5 L57.1 83.5 L57.4 83.5 L57.7 83.4 L58.0 83.4 L58.4 83.4 L58.7 83.4 L59.0 83.4 L59.3 83.4 L59.6 83.4 L59.9 83.5 L60.3 83.5 L60.6 83.5 L60.9 83.5 L61.3 83.5 L61.6 83.5 L61.9 83.5 L62.3 83.5 L62.6 83.6 L63.0 83.6 L63.3 83.6 L63.7 83.6 L64.0 83.7 L64.4 83.7 L64.7 83.7 L65.1 83.7 L65.5 83.8 L65.8 83.8 L66.2 83.8 L66.6 83.8 L66.9 83.9 L67.3 83.9 L67.7 83.9 L68.1 84.0 L68.5 84.0 L68.9 84.0 L69.2 84.1 L69.6 84.1 L70.0 84.1 L70.4 84.1 L70.8 84.2 L71.2 84.2 L71.6 84.2 L72.0 84.3 L72.4 84.3 L72.9 84.3 L73.3 84.4 L73.7 84.4 L74.1 84.4 L74.5 84.5 L75.0 84.5 L75.4 84.5 L75.8 84.6 L76.2 84.6 L76.7 84.6 L77.1 84.7 L77.6 84.7 L78.0 84.7 L78.4 84.8 L78.9 84.8 L79.3 84.8 L79.8 84.9 L80.2 84.9 L80.7 84.9 L81.2 84.9 L81.6 85.0 L82.1 85.0 L82.6 85.0 L83.0 85.0 L83.5 85.0 L84.0 85.0 L84.4 85.0 L84.9 85.0 L85.4 85.0 L85.9 85.0 L86.4 85.1 L86.9 85.1 L87.4 85.1 L87.9 85.1 L88.4 85.1 L88.9 85.1 L89.4 85.1 L89.9 85.1 L90.4 85.1 L90.9 85.1 L91.4 85.1 L91.9 85.1 L92.4 85.1 L92.9 85.1 L93.5 85.1 L94.0 85.1 L94.5 85.1 L95.0 85.1 L95.6 85.1 L96.1 85.1 L96.6 85.1 L97.2 85.1 L97.7 85.1 L98.3 85.1 L98.8 85.1 L99.4 85.1 L99.9 85.0 L100.5 85.0 L101.0 85.0 L101.6 85.0 L102.2 85.0 L102.7 85.0 L103.3 85.0 L103.9 85.0 L104.4 85.0 L105.0 85.0 L105.6 85.0 L106.2 85.0 L106.8 85.0 L107.3 85.0 L107.9 85.0 L108.5 85.0 L109.1 85.0 L109.7 85.0 L110.3 85.0 L110.9 85.0 L111.5 84.9 L112.1 84.9 L112.7 84.9 L113.3 84.9 L113.9 84.9 L114.6 84.9 L115.2 84.9 L115.8 84.9 L116.4 84.9 L117.0 84.9 L117.7 84.9 L118.3 84.9 L118.9 84.9 L119.6 84.9 L120.2 84.9 L120.9 84.9 L121.5 84.9 L122.1 84.9 L122.8 84.9 L123.4 84.9 L124.1 84.9 L124.8 84.9 L125.4 84.9 L126.1 84.8 L126.7 84.8 L127.4 84.8 L128.1 84.8 L128.7 84.8 L129.4 84.8 L130.1 84.8 L130.8 84.8 L131.4 84.8 L132.1 84.8 L132.8 84.8 L133.5 84.8 L134.2 84.8 L134.9 84.8 L135.6 84.8 L136.3 84.8 L137.0 84.8 L137.7 84.8 L138.4 84.8 L139.1 84.8 L139.8 84.8 L140.5 84.8 L141.2 84.8 L142.0 84.8 L142.7 84.8 L143.4 84.8 L144.1 84.8 L144.9 84.8 L145.6 84.8 L146.3 84.8 L147.1 84.8 L147.8 84.8 L148.5 84.8 L149.3 84.8 L150.0 84.8 L150.8 84.7 L151.5 84.7 L152.3 84.7 L153.1 84.7 L153.8 84.7 L154.6 84.7 L155.3 84.7 L156.1 84.7 L156.9 84.7 L157.6 84.7 L158.4 84.7 L159.2 84.7 L160.0 84.7 L160.8 84.7 L161.5 84.7 L162.3 84.7 L163.1 84.7 L163.9 84.7 L164.7 84.7 L165.5 84.7 L166.3 84.7 L167.1 84.7 L167.9 84.7 L168.7 84.7 L169.5 84.7 L170.3 84.7 L171.1 84.7 L172.0 84.7 L172.8 84.7 L173.6 84.7 L174.4 84.7 L175.3 84.7 L176.1 84.7 L176.9 84.7 L177.8 84.7 L178.6 84.7 L179.4 84.7 L180.3 84.7 L181.1 84.7 L182.0 84.7 L182.8 84.7 L183.7 84.7 L184.5 84.7 L185.4 84.7 L186.2 84.7 L187.1 84.7 L188.0 84.7 L188.8 84.7 L189.7 84.7 L190.6 84.7 L191.4 84.7 L192.3 84.7 L193.2 84.8 L194.1 84.8 L195.0 84.8 L195.9 84.8 L196.8 84.8 L197.6 84.8 L198.5 84.8 L199.4 84.8 L200.3 84.8 L201.2 84.8 L202.1 84.8 L203.1 84.8 L204.0 84.8 L204.9 84.8 L205.8 84.8 L206.7 84.8 L207.6 84.8 L208.5 84.8 L209.5 84.8 L210.4 84.8 L211.3 84.8 L212.3 84.8 L213.2 84.8 L214.1 84.8 L215.1 84.8 L216.0 84.8 L217.0 84.8 L217.9 84.8 L218.9 84.8 L219.8 84.8 L220.8 84.8 L221.7 84.8 L222.7 84.8 L223.7 84.8 L224.6 84.8 L225.6 84.9 L226.6 84.9 L227.5 84.9 L228.5 84.9 L229.5 84.9 L230.5 84.9 L231.4 84.9 L232.4 84.9 L233.4 84.9 L234.4 84.9 L235.4 84.9 L236.4 84.9 L237.4 84.9 L238.4 84.9 L239.4 84.9 L240.4 84.9 L241.4 84.9 L242.4 84.9 L243.4 84.9 L244.5 84.9 L245.5 84.9 L246.5 84.9 L247.5 84.9 L248.5 84.9 L249.6 85.0 L250.6 85.0 L251.6 85.0 L252.7 85.0 L253.7 85.0 L254.8 85.0 L255.8 85.0 L256.8 85.0 L257.9 85.0 L258.9 85.0 L260.0 85.0" fill="none" stroke="#000000" stroke-width="4.10" stroke-linejoin="round" />
</g>
<rect x="110.20" y="90.30" width="145.80" height="58.50" fill="#fff" stroke="#4a4a4a" stroke-width="0.8"/>
<path d="M113.70 97.90 L151.80 97.90" fill="none" stroke="#0072BD" stroke-width="3.40" stroke-linejoin="round" />
<text transform="translate(155.00 100.40)" text-anchor="start" font-size="10.50" textLength="9.40" lengthAdjust="spacingAndGlyphs" stroke="#1a1a1a" stroke-width="0.2" >PI</text>
<path d="M113.70 108.50 L151.80 108.50" fill="none" stroke="#D95319" stroke-width="3.35" stroke-linejoin="round" stroke-dasharray="15.40 15.40" />
<text transform="translate(155.00 111.60)" text-anchor="start" font-size="10.50" textLength="23.60" lengthAdjust="spacingAndGlyphs" stroke="#1a1a1a" stroke-width="0.2" >FOPI</text>
<path d="M113.70 119.60 L151.80 119.60" fill="none" stroke="#EDB120" stroke-width="3.35" stroke-linejoin="round" stroke-dasharray="3.66 4.04" />
<text transform="translate(155.00 122.50)" text-anchor="start" font-size="10.50" textLength="15.60" lengthAdjust="spacingAndGlyphs" stroke="#1a1a1a" stroke-width="0.2" >FPI</text>
<path d="M113.70 131.00 L151.80 131.00" fill="none" stroke="#7E2F8E" stroke-width="3.35" stroke-linejoin="round" stroke-dasharray="15.40 3.85 7.70 3.85" />
<text transform="translate(155.00 134.00)" text-anchor="start" font-size="10.50" textLength="30.60" lengthAdjust="spacingAndGlyphs" stroke="#1a1a1a" stroke-width="0.2" >FFOPI</text>
<path d="M113.70 142.40 L151.80 142.40" fill="none" stroke="#000000" stroke-width="4.10" stroke-linejoin="round" />
<text transform="translate(155.00 145.60)" text-anchor="start" font-size="10.50" textLength="95.60" lengthAdjust="spacingAndGlyphs" stroke="#1a1a1a" stroke-width="0.2" >VIC based on FFOPI</text>
<text transform="translate(39.00 167.20)" text-anchor="middle" font-size="10.80" stroke="#1a1a1a" stroke-width="0.2" >0</text>
<text transform="translate(83.20 167.20)" text-anchor="middle" font-size="10.80" stroke="#1a1a1a" stroke-width="0.2" >1</text>
<text transform="translate(127.40 167.20)" text-anchor="middle" font-size="10.80" stroke="#1a1a1a" stroke-width="0.2" >2</text>
<text transform="translate(171.60 167.20)" text-anchor="middle" font-size="10.80" stroke="#1a1a1a" stroke-width="0.2" >3</text>
<text transform="translate(215.80 167.20)" text-anchor="middle" font-size="10.80" stroke="#1a1a1a" stroke-width="0.2" >4</text>
<text transform="translate(260.00 167.20)" text-anchor="middle" font-size="10.80" stroke="#1a1a1a" stroke-width="0.2" >5</text>
<text transform="translate(32.80 155.50)" text-anchor="end" font-size="10.80" stroke="#1a1a1a" stroke-width="0.2" >-1.5</text>
<text transform="translate(32.80 133.20)" text-anchor="end" font-size="10.80" stroke="#1a1a1a" stroke-width="0.2" >-1</text>
<text transform="translate(32.80 110.90)" text-anchor="end" font-size="10.80" stroke="#1a1a1a" stroke-width="0.2" >-0.5</text>
<text transform="translate(32.80 88.60)" text-anchor="end" font-size="10.80" stroke="#1a1a1a" stroke-width="0.2" >0</text>
<text transform="translate(32.80 66.30)" text-anchor="end" font-size="10.80" stroke="#1a1a1a" stroke-width="0.2" >0.5</text>
<text transform="translate(32.80 44.00)" text-anchor="end" font-size="10.80" stroke="#1a1a1a" stroke-width="0.2" >1</text>
<text transform="translate(32.80 21.70)" text-anchor="end" font-size="10.80" stroke="#1a1a1a" stroke-width="0.2" >1.5</text>
<clipPath id="k1"><rect x="0" y="0" width="550" height="174.60"/></clipPath>
<g clip-path="url(#k1)">
<text transform="translate(108.00 173.00)" text-anchor="start" font-size="10.50" textLength="80.00" lengthAdjust="spacingAndGlyphs" stroke="#1a1a1a" stroke-width="0.05" >Time (Seconds)</text>
</g>
<text transform="translate(12.30 103.80) rotate(-90)" text-anchor="start" font-size="10.50" textLength="41.40" lengthAdjust="spacingAndGlyphs" stroke="#1a1a1a" stroke-width="0.2" >ΔF1 (P.U)</text>
<text transform="translate(40.40 14.90)" text-anchor="start" font-size="10.80" textLength="20.00" lengthAdjust="spacingAndGlyphs" stroke="#1a1a1a" stroke-width="0.2" >×10</text>
<text transform="translate(61.60 10.00)" text-anchor="start" font-size="9.00" textLength="8.20" lengthAdjust="spacingAndGlyphs" stroke="#1a1a1a" stroke-width="0.2" >-3</text>
<line x1="351.14" y1="17.90" x2="351.14" y2="155.40" stroke="#d9d9d9" stroke-width="0.65"/>
<line x1="397.78" y1="17.90" x2="397.78" y2="155.40" stroke="#d9d9d9" stroke-width="0.65"/>
<line x1="444.42" y1="17.90" x2="444.42" y2="155.40" stroke="#d9d9d9" stroke-width="0.65"/>
<line x1="491.06" y1="17.90" x2="491.06" y2="155.40" stroke="#d9d9d9" stroke-width="0.65"/>
<line x1="304.50" y1="138.60" x2="537.70" y2="138.60" stroke="#d9d9d9" stroke-width="0.65"/>
<line x1="304.50" y1="112.30" x2="537.70" y2="112.30" stroke="#d9d9d9" stroke-width="0.65"/>
<line x1="304.50" y1="86.00" x2="537.70" y2="86.00" stroke="#d9d9d9" stroke-width="0.65"/>
<line x1="304.50" y1="59.70" x2="537.70" y2="59.70" stroke="#d9d9d9" stroke-width="0.65"/>
<line x1="304.50" y1="33.40" x2="537.70" y2="33.40" stroke="#d9d9d9" stroke-width="0.65"/>
<rect x="304.50" y="17.90" width="233.20" height="137.50" fill="none" stroke="#262626" stroke-width="1.15"/>
<line x1="304.50" y1="155.40" x2="304.50" y2="153.00" stroke="#262626" stroke-width="0.9"/>
<line x1="304.50" y1="17.90" x2="304.50" y2="20.30" stroke="#262626" stroke-width="0.9"/>
<line x1="351.14" y1="155.40" x2="351.14" y2="153.00" stroke="#262626" stroke-width="0.9"/>
<line x1="351.14" y1="17.90" x2="351.14" y2="20.30" stroke="#262626" stroke-width="0.9"/>
<line x1="397.78" y1="155.40" x2="397.78" y2="153.00" stroke="#262626" stroke-width="0.9"/>
<line x1="397.78" y1="17.90" x2="397.78" y2="20.30" stroke="#262626" stroke-width="0.9"/>
<line x1="444.42" y1="155.40" x2="444.42" y2="153.00" stroke="#262626" stroke-width="0.9"/>
<line x1="444.42" y1="17.90" x2="444.42" y2="20.30" stroke="#262626" stroke-width="0.9"/>
<line x1="491.06" y1="155.40" x2="491.06" y2="153.00" stroke="#262626" stroke-width="0.9"/>
<line x1="491.06" y1="17.90" x2="491.06" y2="20.30" stroke="#262626" stroke-width="0.9"/>
<line x1="537.70" y1="155.40" x2="537.70" y2="153.00" stroke="#262626" stroke-width="0.9"/>
<line x1="537.70" y1="17.90" x2="537.70" y2="20.30" stroke="#262626" stroke-width="0.9"/>
<line x1="304.50" y1="138.60" x2="306.90" y2="138.60" stroke="#262626" stroke-width="0.9"/>
<line x1="537.70" y1="138.60" x2="535.30" y2="138.60" stroke="#262626" stroke-width="0.9"/>
<line x1="304.50" y1="112.30" x2="306.90" y2="112.30" stroke="#262626" stroke-width="0.9"/>
<line x1="537.70" y1="112.30" x2="535.30" y2="112.30" stroke="#262626" stroke-width="0.9"/>
<line x1="304.50" y1="86.00" x2="306.90" y2="86.00" stroke="#262626" stroke-width="0.9"/>
<line x1="537.70" y1="86.00" x2="535.30" y2="86.00" stroke="#262626" stroke-width="0.9"/>
<line x1="304.50" y1="59.70" x2="306.90" y2="59.70" stroke="#262626" stroke-width="0.9"/>
<line x1="537.70" y1="59.70" x2="535.30" y2="59.70" stroke="#262626" stroke-width="0.9"/>
<line x1="304.50" y1="33.40" x2="306.90" y2="33.40" stroke="#262626" stroke-width="0.9"/>
<line x1="537.70" y1="33.40" x2="535.30" y2="33.40" stroke="#262626" stroke-width="0.9"/>
<clipPath id="c2"><rect x="302.50" y="15.90" width="237.20" height="141.50"/></clipPath>
<g clip-path="url(#c2)">
<path d="M304.5 86.0 L304.5 86.0 L304.5 86.1 L304.5 86.3 L304.5 86.5 L304.5 86.8 L304.5 87.2 L304.6 87.6 L304.6 88.1 L304.6 88.6 L304.6 89.2 L304.7 89.9 L304.7 90.7 L304.7 91.5 L304.8 92.3 L304.8 93.2 L304.8 94.2 L304.9 95.3 L304.9 96.4 L305.0 97.5 L305.0 98.7 L305.1 100.0 L305.1 101.3 L305.2 102.7 L305.3 104.1 L305.3 105.5 L305.4 107.0 L305.5 108.6 L305.5 110.2 L305.6 111.8 L305.7 113.4 L305.8 115.1 L305.9 116.8 L305.9 118.5 L306.0 120.3 L306.1 122.1 L306.2 123.9 L306.3 125.8 L306.4 127.6 L306.5 129.5 L306.6 131.3 L306.7 133.0 L306.8 134.7 L307.0 136.3 L307.1 137.7 L307.2 138.9 L307.3 140.1 L307.4 141.2 L307.6 142.2 L307.7 143.0 L307.8 143.8 L308.0 144.4 L308.1 144.8 L308.2 144.9 L308.4 144.8 L308.5 144.5 L308.7 143.9 L308.8 143.1 L309.0 142.2 L309.1 141.0 L309.3 139.7 L309.4 138.2 L309.6 136.3 L309.8 134.1 L309.9 131.5 L310.1 128.6 L310.3 125.5 L310.5 122.1 L310.6 118.6 L310.8 114.8 L311.0 110.6 L311.2 106.3 L311.4 101.8 L311.6 97.3 L311.8 92.8 L312.0 88.6 L312.2 84.7 L312.4 81.0 L312.6 77.6 L312.8 74.2 L313.0 70.8 L313.2 67.2 L313.4 63.5 L313.7 59.8 L313.9 56.4 L314.1 53.2 L314.3 50.1 L314.6 47.1 L314.8 44.4 L315.0 41.8 L315.3 39.5 L315.5 37.4 L315.7 35.7 L316.0 34.2 L316.2 32.8 L316.5 31.5 L316.7 30.3 L317.0 29.4 L317.3 28.6 L317.5 28.1 L317.8 27.9 L318.1 27.9 L318.3 28.3 L318.6 29.0 L318.9 30.0 L319.1 31.2 L319.4 32.7 L319.7 34.5 L320.0 36.4 L320.3 38.6 L320.6 40.9 L320.9 43.4 L321.2 46.0 L321.5 48.6 L321.8 51.5 L322.1 54.6 L322.4 58.0 L322.7 61.3 L323.0 64.5 L323.3 67.4 L323.6 70.0 L323.9 72.5 L324.3 74.8 L324.6 77.1 L324.9 79.3 L325.3 81.4 L325.6 83.6 L325.9 85.8 L326.3 88.1 L326.6 90.5 L326.9 92.8 L327.3 95.0 L327.6 97.0 L328.0 98.6 L328.4 100.1 L328.7 101.4 L329.1 102.4 L329.4 103.0 L329.8 103.1 L330.2 102.7 L330.5 102.0 L330.9 101.0 L331.3 99.9 L331.7 98.8 L332.0 97.7 L332.4 96.4 L332.8 95.1 L333.2 93.8 L333.6 92.5 L334.0 91.1 L334.4 89.8 L334.8 88.5 L335.2 87.1 L335.6 85.8 L336.0 84.6 L336.4 83.5 L336.8 82.5 L337.2 81.7 L337.7 81.0 L338.1 80.4 L338.5 79.9 L338.9 79.7 L339.4 79.7 L339.8 79.9 L340.2 80.2 L340.7 80.6 L341.1 81.1 L341.5 81.7 L342.0 82.3 L342.4 83.0 L342.9 83.7 L343.3 84.5 L343.8 85.3 L344.3 86.0 L344.7 86.8 L345.2 87.5 L345.6 88.1 L346.1 88.7 L346.6 89.3 L347.1 89.8 L347.5 90.2 L348.0 90.6 L348.5 90.9 L349.0 91.2 L349.5 91.4 L350.0 91.6 L350.5 91.7 L350.9 91.8 L351.4 91.8 L351.9 91.6 L352.5 91.4 L353.0 91.2 L353.5 90.9 L354.0 90.5 L354.5 90.2 L355.0 89.9 L355.5 89.5 L356.1 89.1 L356.6 88.7 L357.1 88.3 L357.6 88.0 L358.2 87.6 L358.7 87.3 L359.2 86.9 L359.8 86.6 L360.3 86.3 L360.9 86.0 L361.4 85.7 L362.0 85.5 L362.5 85.3 L363.1 85.1 L363.6 85.0 L364.2 84.8 L364.8 84.7 L365.3 84.6 L365.9 84.5 L366.5 84.5 L367.0 84.4 L367.6 84.4 L368.2 84.4 L368.8 84.5 L369.4 84.5 L370.0 84.6 L370.6 84.7 L371.1 84.8 L371.7 84.9 L372.3 85.1 L372.9 85.2 L373.6 85.3 L374.2 85.4 L374.8 85.5 L375.4 85.6 L376.0 85.8 L376.6 85.9 L377.2 86.0 L377.9 86.1 L378.5 86.2 L379.1 86.3 L379.7 86.4 L380.4 86.5 L381.0 86.5 L381.6 86.5 L382.3 86.5 L382.9 86.5 L383.6 86.5 L384.2 86.5 L384.9 86.5 L385.5 86.4 L386.2 86.4 L386.9 86.3 L387.5 86.3 L388.2 86.3 L388.9 86.2 L389.5 86.2 L390.2 86.2 L390.9 86.2 L391.6 86.1 L392.2 86.1 L392.9 86.1 L393.6 86.1 L394.3 86.0 L395.0 86.0 L395.7 86.0 L396.4 86.0 L397.1 86.0 L397.8 86.0 L398.5 86.0 L399.2 86.0 L399.9 86.0 L400.6 86.0 L401.3 86.0 L402.1 86.0 L402.8 86.0 L403.5 86.0 L404.2 86.0 L405.0 86.0 L405.7 86.0 L406.4 86.0 L407.2 86.0 L407.9 86.0 L408.6 86.0 L409.4 86.0 L410.1 86.0 L410.9 86.0 L411.6 86.0 L412.4 86.0 L413.2 86.0 L413.9 86.0 L414.7 86.0 L415.4 86.0 L416.2 86.0 L417.0 86.0 L417.8 86.0 L418.5 86.0 L419.3 86.0 L420.1 86.0 L420.9 86.0 L421.7 86.0 L422.5 86.0 L423.3 86.0 L424.0 86.0 L424.8 86.0 L425.6 86.0 L426.5 86.0 L427.3 86.0 L428.1 86.0 L428.9 86.0 L429.7 86.0 L430.5 86.0 L431.3 86.0 L432.2 86.0 L433.0 86.0 L433.8 86.0 L434.6 86.0 L435.5 86.0 L436.3 86.0 L437.1 86.0 L438.0 86.0 L438.8 86.0 L439.7 86.0 L440.5 86.0 L441.4 86.0 L442.2 86.0 L443.1 86.0 L443.9 86.0 L444.8 86.0 L445.7 86.0 L446.5 86.0 L447.4 86.0 L448.3 86.0 L449.2 86.0 L450.0 86.0 L450.9 86.0 L451.8 86.0 L452.7 86.0 L453.6 86.0 L454.5 86.0 L455.4 86.0 L456.3 86.0 L457.2 86.0 L458.1 86.0 L459.0 86.0 L459.9 86.0 L460.8 86.0 L461.7 86.0 L462.6 86.0 L463.5 86.0 L464.4 86.0 L465.4 86.0 L466.3 86.0 L467.2 86.0 L468.1 86.0 L469.1 86.0 L470.0 86.0 L471.0 86.0 L471.9 86.0 L472.8 86.0 L473.8 86.0 L474.7 86.0 L475.7 86.0 L476.6 86.0 L477.6 86.0 L478.6 86.0 L479.5 86.0 L480.5 86.0 L481.5 86.0 L482.4 86.0 L483.4 86.0 L484.4 86.0 L485.4 86.0 L486.3 86.0 L487.3 86.0 L488.3 86.0 L489.3 86.0 L490.3 86.0 L491.3 86.0 L492.3 86.0 L493.3 86.0 L494.3 86.0 L495.3 86.0 L496.3 86.0 L497.3 86.0 L498.3 86.0 L499.3 86.0 L500.4 86.0 L501.4 86.0 L502.4 86.0 L503.4 86.0 L504.5 86.0 L505.5 86.0 L506.5 86.0 L507.6 86.0 L508.6 86.0 L509.7 86.0 L510.7 86.0 L511.8 86.0 L512.8 86.0 L513.9 86.0 L514.9 86.0 L516.0 86.0 L517.0 86.0 L518.1 86.0 L519.2 86.0 L520.2 86.0 L521.3 86.0 L522.4 86.0 L523.5 86.0 L524.5 86.0 L525.6 86.0 L526.7 86.0 L527.8 86.0 L528.9 86.0 L530.0 86.0 L531.1 86.0 L532.2 86.0 L533.3 86.0 L534.4 86.0 L535.5 86.0 L536.6 86.0 L537.7 86.0" fill="none" stroke="#0072BD" stroke-width="3.35" stroke-linejoin="round" />
<path d="M304.5 86.0 L304.5 86.0 L304.5 86.1 L304.5 86.3 L304.5 86.5 L304.5 86.8 L304.5 87.2 L304.6 87.6 L304.6 88.1 L304.6 88.6 L304.6 89.3 L304.7 89.9 L304.7 90.7 L304.7 91.5 L304.8 92.4 L304.8 93.3 L304.8 94.3 L304.9 95.3 L304.9 96.4 L305.0 97.6 L305.0 98.8 L305.1 100.1 L305.1 101.4 L305.2 102.7 L305.3 104.2 L305.3 105.6 L305.4 107.1 L305.5 108.6 L305.5 110.2 L305.6 111.8 L305.7 113.5 L305.8 115.1 L305.9 116.8 L305.9 118.5 L306.0 120.2 L306.1 122.0 L306.2 123.8 L306.3 125.7 L306.4 127.5 L306.5 129.3 L306.6 131.0 L306.7 132.7 L306.8 134.3 L307.0 135.8 L307.1 137.2 L307.2 138.4 L307.3 139.5 L307.4 140.5 L307.6 141.4 L307.7 142.2 L307.8 142.9 L308.0 143.4 L308.1 143.7 L308.2 143.9 L308.4 143.7 L308.5 143.4 L308.7 142.8 L308.8 142.0 L309.0 141.0 L309.1 139.7 L309.3 138.4 L309.4 136.8 L309.6 134.9 L309.8 132.7 L309.9 130.1 L310.1 127.2 L310.3 124.1 L310.5 120.8 L310.6 117.3 L310.8 113.6 L311.0 109.6 L311.2 105.5 L311.4 101.2 L311.6 96.9 L311.8 92.6 L312.0 88.5 L312.2 84.7 L312.4 81.1 L312.6 77.7 L312.8 74.3 L313.0 70.8 L313.2 67.1 L313.4 63.3 L313.7 59.7 L313.9 56.5 L314.1 53.5 L314.3 50.8 L314.6 48.4 L314.8 46.3 L315.0 44.5 L315.3 43.2 L315.5 42.2 L315.7 41.3 L316.0 40.5 L316.2 39.9 L316.5 39.4 L316.7 39.0 L317.0 38.8 L317.3 38.7 L317.5 38.7 L317.8 38.8 L318.1 39.1 L318.3 39.6 L318.6 40.2 L318.9 41.0 L319.1 41.9 L319.4 43.0 L319.7 44.3 L320.0 45.8 L320.3 47.4 L320.6 49.4 L320.9 51.8 L321.2 54.7 L321.5 57.8 L321.8 61.0 L322.1 64.1 L322.4 66.9 L322.7 69.4 L323.0 71.7 L323.3 73.9 L323.6 75.9 L323.9 77.8 L324.3 79.6 L324.6 81.4 L324.9 83.1 L325.3 84.8 L325.6 86.5 L325.9 88.3 L326.3 90.0 L326.6 91.7 L326.9 93.2 L327.3 94.5 L327.6 95.6 L328.0 96.5 L328.4 97.4 L328.7 98.0 L329.1 98.5 L329.4 98.6 L329.8 98.5 L330.2 98.2 L330.5 97.7 L330.9 97.1 L331.3 96.5 L331.7 95.8 L332.0 95.1 L332.4 94.3 L332.8 93.4 L333.2 92.5 L333.6 91.6 L334.0 90.7 L334.4 89.9 L334.8 89.0 L335.2 88.1 L335.6 87.2 L336.0 86.3 L336.4 85.6 L336.8 85.0 L337.2 84.5 L337.7 84.1 L338.1 83.7 L338.5 83.5 L338.9 83.4 L339.4 83.4 L339.8 83.5 L340.2 83.7 L340.7 83.9 L341.1 84.2 L341.5 84.5 L342.0 84.8 L342.4 85.1 L342.9 85.5 L343.3 85.8 L343.8 86.2 L344.3 86.5 L344.7 86.8 L345.2 87.1 L345.6 87.4 L346.1 87.7 L346.6 87.9 L347.1 88.1 L347.5 88.3 L348.0 88.4 L348.5 88.5 L349.0 88.6 L349.5 88.6 L350.0 88.6 L350.5 88.6 L350.9 88.6 L351.4 88.6 L351.9 88.5 L352.5 88.5 L353.0 88.3 L353.5 88.2 L354.0 88.1 L354.5 87.9 L355.0 87.8 L355.5 87.6 L356.1 87.5 L356.6 87.4 L357.1 87.3 L357.6 87.2 L358.2 87.0 L358.7 86.9 L359.2 86.8 L359.8 86.7 L360.3 86.6 L360.9 86.5 L361.4 86.4 L362.0 86.4 L362.5 86.3 L363.1 86.2 L363.6 86.2 L364.2 86.1 L364.8 86.1 L365.3 86.0 L365.9 86.0 L366.5 86.0 L367.0 85.9 L367.6 85.9 L368.2 85.9 L368.8 85.9 L369.4 85.8 L370.0 85.8 L370.6 85.8 L371.1 85.8 L371.7 85.8 L372.3 85.8 L372.9 85.7 L373.6 85.7 L374.2 85.7 L374.8 85.7 L375.4 85.7 L376.0 85.7 L376.6 85.7 L377.2 85.7 L377.9 85.7 L378.5 85.8 L379.1 85.8 L379.7 85.8 L380.4 85.8 L381.0 85.8 L381.6 85.8 L382.3 85.8 L382.9 85.8 L383.6 85.8 L384.2 85.8 L384.9 85.8 L385.5 85.8 L386.2 85.8 L386.9 85.9 L387.5 85.9 L388.2 85.9 L388.9 85.9 L389.5 85.9 L390.2 85.9 L390.9 85.9 L391.6 85.9 L392.2 85.9 L392.9 86.0 L393.6 86.0 L394.3 86.0 L395.0 86.0 L395.7 86.0 L396.4 86.0 L397.1 86.0 L397.8 86.0 L398.5 86.0 L399.2 86.0 L399.9 86.0 L400.6 86.0 L401.3 86.0 L402.1 86.0 L402.8 86.0 L403.5 86.0 L404.2 86.0 L405.0 86.0 L405.7 86.0 L406.4 86.0 L407.2 86.0 L407.9 86.0 L408.6 86.0 L409.4 86.0 L410.1 86.0 L410.9 86.0 L411.6 86.0 L412.4 86.0 L413.2 86.0 L413.9 86.0 L414.7 86.0 L415.4 86.0 L416.2 86.0 L417.0 86.0 L417.8 86.0 L418.5 86.0 L419.3 86.0 L420.1 86.0 L420.9 86.0 L421.7 86.0 L422.5 86.0 L423.3 86.0 L424.0 86.0 L424.8 86.0 L425.6 86.0 L426.5 86.0 L427.3 86.0 L428.1 86.0 L428.9 86.0 L429.7 86.0 L430.5 86.0 L431.3 86.0 L432.2 86.0 L433.0 86.0 L433.8 86.0 L434.6 86.0 L435.5 86.0 L436.3 86.0 L437.1 86.0 L438.0 86.0 L438.8 86.0 L439.7 86.0 L440.5 86.0 L441.4 86.0 L442.2 86.0 L443.1 86.0 L443.9 86.0 L444.8 86.0 L445.7 86.0 L446.5 86.0 L447.4 86.0 L448.3 86.0 L449.2 86.0 L450.0 86.0 L450.9 86.0 L451.8 86.0 L452.7 86.0 L453.6 86.0 L454.5 86.0 L455.4 86.0 L456.3 86.0 L457.2 86.0 L458.1 86.0 L459.0 86.0 L459.9 86.0 L460.8 86.0 L461.7 86.0 L462.6 86.0 L463.5 86.0 L464.4 86.0 L465.4 86.0 L466.3 86.0 L467.2 86.0 L468.1 86.0 L469.1 86.0 L470.0 86.0 L471.0 86.0 L471.9 86.0 L472.8 86.0 L473.8 86.0 L474.7 86.0 L475.7 86.0 L476.6 86.0 L477.6 86.0 L478.6 86.0 L479.5 86.0 L480.5 86.0 L481.5 86.0 L482.4 86.0 L483.4 86.0 L484.4 86.0 L485.4 86.0 L486.3 86.0 L487.3 86.0 L488.3 86.0 L489.3 86.0 L490.3 86.0 L491.3 86.0 L492.3 86.0 L493.3 86.0 L494.3 86.0 L495.3 86.0 L496.3 86.0 L497.3 86.0 L498.3 86.0 L499.3 86.0 L500.4 86.0 L501.4 86.0 L502.4 86.0 L503.4 86.0 L504.5 86.0 L505.5 86.0 L506.5 86.0 L507.6 86.0 L508.6 86.0 L509.7 86.0 L510.7 86.0 L511.8 86.0 L512.8 86.0 L513.9 86.0 L514.9 86.0 L516.0 86.0 L517.0 86.0 L518.1 86.0 L519.2 86.0 L520.2 86.0 L521.3 86.0 L522.4 86.0 L523.5 86.0 L524.5 86.0 L525.6 86.0 L526.7 86.0 L527.8 86.0 L528.9 86.0 L530.0 86.0 L531.1 86.0 L532.2 86.0 L533.3 86.0 L534.4 86.0 L535.5 86.0 L536.6 86.0 L537.7 86.0" fill="none" stroke="#D95319" stroke-width="3.35" stroke-linejoin="round" stroke-dasharray="0.0 40.6 34.1 82.9 15.3 39.9 21.3 7.6 6.2 7.1 8.1 9.5 14.0 2000.0" />
<path d="M304.5 86.0 L304.5 86.0 L304.5 86.1 L304.5 86.3 L304.5 86.5 L304.5 86.8 L304.5 87.1 L304.6 87.5 L304.6 88.0 L304.6 88.5 L304.6 89.1 L304.7 89.8 L304.7 90.5 L304.7 91.3 L304.8 92.1 L304.8 93.0 L304.8 93.9 L304.9 94.9 L304.9 96.0 L305.0 97.1 L305.0 98.2 L305.1 99.5 L305.1 100.7 L305.2 102.0 L305.3 103.4 L305.3 104.8 L305.4 106.2 L305.5 107.7 L305.5 109.2 L305.6 110.7 L305.7 112.3 L305.8 113.9 L305.9 115.5 L305.9 117.1 L306.0 118.8 L306.1 120.5 L306.2 122.3 L306.3 124.0 L306.4 125.8 L306.5 127.5 L306.6 129.2 L306.7 130.9 L306.8 132.4 L307.0 133.9 L307.1 135.1 L307.2 136.2 L307.3 137.3 L307.4 138.2 L307.6 139.0 L307.7 139.8 L307.8 140.4 L308.0 140.9 L308.1 141.1 L308.2 141.2 L308.4 141.1 L308.5 140.7 L308.7 140.1 L308.8 139.3 L309.0 138.2 L309.1 137.0 L309.3 135.7 L309.4 134.2 L309.6 132.4 L309.8 130.4 L309.9 128.0 L310.1 125.3 L310.3 122.4 L310.5 119.3 L310.6 116.1 L310.8 112.6 L311.0 108.8 L311.2 104.9 L311.4 100.7 L311.6 96.6 L311.8 92.5 L312.0 88.5 L312.2 84.7 L312.4 81.2 L312.6 77.7 L312.8 74.3 L313.0 70.8 L313.2 67.1 L313.4 63.3 L313.7 59.6 L313.9 56.5 L314.1 53.7 L314.3 51.2 L314.6 49.0 L314.8 47.0 L315.0 45.5 L315.3 44.3 L315.5 43.4 L315.7 42.5 L316.0 41.8 L316.2 41.2 L316.5 40.7 L316.7 40.4 L317.0 40.1 L317.3 40.0 L317.5 40.0 L317.8 40.1 L318.1 40.4 L318.3 40.8 L318.6 41.4 L318.9 42.1 L319.1 43.0 L319.4 44.1 L319.7 45.3 L320.0 46.7 L320.3 48.2 L320.6 50.1 L320.9 52.4 L321.2 55.1 L321.5 58.1 L321.8 61.2 L322.1 64.1 L322.4 66.9 L322.7 69.4 L323.0 71.7 L323.3 73.9 L323.6 76.0 L323.9 78.0 L324.3 79.9 L324.6 81.7 L324.9 83.4 L325.3 85.0 L325.6 86.4 L325.9 87.9 L326.3 89.2 L326.6 90.5 L326.9 91.6 L327.3 92.5 L327.6 93.1 L328.0 93.7 L328.4 94.2 L328.7 94.7 L329.1 95.0 L329.4 95.3 L329.8 95.4 L330.2 95.5 L330.5 95.4 L330.9 95.3 L331.3 95.1 L331.7 94.9 L332.0 94.6 L332.4 94.3 L332.8 93.9 L333.2 93.6 L333.6 93.2 L334.0 92.8 L334.4 92.4 L334.8 92.0 L335.2 91.6 L335.6 91.2 L336.0 90.8 L336.4 90.5 L336.8 90.2 L337.2 89.9 L337.7 89.7 L338.1 89.4 L338.5 89.2 L338.9 89.1 L339.4 88.9 L339.8 88.8 L340.2 88.7 L340.7 88.6 L341.1 88.6 L341.5 88.6 L342.0 88.7 L342.4 88.7 L342.9 88.7 L343.3 88.8 L343.8 88.9 L344.3 88.9 L344.7 89.0 L345.2 89.1 L345.6 89.1 L346.1 89.1 L346.6 89.2 L347.1 89.2 L347.5 89.1 L348.0 89.1 L348.5 89.0 L349.0 89.0 L349.5 88.9 L350.0 88.8 L350.5 88.7 L350.9 88.6 L351.4 88.5 L351.9 88.4 L352.5 88.3 L353.0 88.2 L353.5 88.1 L354.0 88.0 L354.5 87.9 L355.0 87.8 L355.5 87.8 L356.1 87.7 L356.6 87.6 L357.1 87.5 L357.6 87.4 L358.2 87.3 L358.7 87.3 L359.2 87.2 L359.8 87.1 L360.3 87.1 L360.9 87.0 L361.4 86.9 L362.0 86.9 L362.5 86.8 L363.1 86.8 L363.6 86.7 L364.2 86.7 L364.8 86.6 L365.3 86.6 L365.9 86.5 L366.5 86.5 L367.0 86.4 L367.6 86.4 L368.2 86.3 L368.8 86.3 L369.4 86.2 L370.0 86.2 L370.6 86.2 L371.1 86.1 L371.7 86.1 L372.3 86.1 L372.9 86.0 L373.6 86.0 L374.2 86.0 L374.8 86.0 L375.4 86.0 L376.0 86.0 L376.6 86.0 L377.2 86.0 L377.9 86.0 L378.5 85.9 L379.1 85.9 L379.7 85.9 L380.4 85.9 L381.0 85.9 L381.6 85.9 L382.3 85.9 L382.9 85.9 L383.6 85.9 L384.2 85.9 L384.9 85.9 L385.5 85.9 L386.2 85.9 L386.9 85.9 L387.5 85.9 L388.2 85.9 L388.9 85.9 L389.5 85.9 L390.2 85.9 L390.9 85.9 L391.6 86.0 L392.2 86.0 L392.9 86.0 L393.6 86.0 L394.3 86.0 L395.0 86.0 L395.7 86.0 L396.4 86.0 L397.1 86.0 L397.8 86.0 L398.5 86.0 L399.2 86.0 L399.9 86.0 L400.6 86.0 L401.3 86.0 L402.1 86.0 L402.8 86.0 L403.5 86.0 L404.2 86.0 L405.0 86.0 L405.7 86.0 L406.4 86.0 L407.2 86.0 L407.9 86.0 L408.6 86.0 L409.4 86.0 L410.1 86.0 L410.9 86.0 L411.6 86.1 L412.4 86.1 L413.2 86.1 L413.9 86.1 L414.7 86.1 L415.4 86.1 L416.2 86.1 L417.0 86.1 L417.8 86.1 L418.5 86.1 L419.3 86.1 L420.1 86.1 L420.9 86.0 L421.7 86.0 L422.5 86.0 L423.3 86.0 L424.0 86.0 L424.8 86.0 L425.6 86.0 L426.5 86.0 L427.3 86.0 L428.1 86.0 L428.9 86.0 L429.7 86.0 L430.5 86.0 L431.3 86.0 L432.2 86.0 L433.0 86.0 L433.8 86.0 L434.6 86.0 L435.5 86.0 L436.3 86.0 L437.1 86.0 L438.0 86.0 L438.8 86.0 L439.7 86.0 L440.5 86.0 L441.4 86.0 L442.2 86.0 L443.1 86.0 L443.9 86.0 L444.8 86.0 L445.7 86.0 L446.5 86.0 L447.4 86.0 L448.3 86.0 L449.2 86.0 L450.0 86.0 L450.9 86.0 L451.8 86.0 L452.7 86.0 L453.6 86.0 L454.5 86.0 L455.4 86.0 L456.3 86.0 L457.2 86.0 L458.1 86.0 L459.0 86.0 L459.9 86.0 L460.8 86.0 L461.7 86.0 L462.6 86.0 L463.5 86.0 L464.4 86.0 L465.4 86.0 L466.3 86.0 L467.2 86.0 L468.1 86.0 L469.1 86.0 L470.0 86.0 L471.0 86.0 L471.9 86.0 L472.8 86.0 L473.8 86.0 L474.7 86.0 L475.7 86.0 L476.6 86.0 L477.6 86.0 L478.6 86.0 L479.5 86.0 L480.5 86.0 L481.5 86.0 L482.4 86.0 L483.4 86.0 L484.4 86.0 L485.4 86.0 L486.3 86.0 L487.3 86.0 L488.3 86.0 L489.3 86.0 L490.3 86.0 L491.3 86.0 L492.3 86.0 L493.3 86.0 L494.3 86.0 L495.3 86.0 L496.3 86.0 L497.3 86.0 L498.3 86.0 L499.3 86.0 L500.4 86.0 L501.4 86.0 L502.4 86.0 L503.4 86.0 L504.5 86.0 L505.5 86.0 L506.5 86.0 L507.6 86.0 L508.6 86.0 L509.7 86.0 L510.7 86.0 L511.8 86.0 L512.8 86.0 L513.9 86.0 L514.9 86.0 L516.0 86.0 L517.0 86.0 L518.1 86.0 L519.2 86.0 L520.2 86.0 L521.3 86.0 L522.4 86.0 L523.5 86.0 L524.5 86.0 L525.6 86.0 L526.7 86.0 L527.8 86.0 L528.9 86.0 L530.0 86.0 L531.1 86.0 L532.2 86.0 L533.3 86.0 L534.4 86.0 L535.5 86.0 L536.6 86.0 L537.7 86.0" fill="none" stroke="#EDB120" stroke-width="3.35" stroke-linejoin="round" stroke-dasharray="3.66 4.04" />
<path d="M304.5 86.0 L304.5 86.0 L304.5 86.1 L304.5 86.3 L304.5 86.5 L304.5 86.8 L304.5 87.1 L304.6 87.5 L304.6 87.9 L304.6 88.4 L304.6 89.0 L304.7 89.6 L304.7 90.3 L304.7 91.1 L304.8 91.9 L304.8 92.7 L304.8 93.6 L304.9 94.6 L304.9 95.6 L305.0 96.7 L305.0 97.8 L305.1 98.9 L305.1 100.1 L305.2 101.4 L305.3 102.7 L305.3 104.0 L305.4 105.4 L305.5 106.8 L305.5 108.2 L305.6 109.7 L305.7 111.2 L305.8 112.7 L305.9 114.2 L305.9 115.8 L306.0 117.4 L306.1 119.0 L306.2 120.6 L306.3 122.3 L306.4 123.9 L306.5 125.5 L306.6 127.1 L306.7 128.6 L306.8 130.1 L307.0 131.4 L307.1 132.6 L307.2 133.6 L307.3 134.5 L307.4 135.4 L307.6 136.1 L307.7 136.8 L307.8 137.3 L308.0 137.7 L308.1 138.0 L308.2 138.1 L308.4 137.9 L308.5 137.6 L308.7 137.1 L308.8 136.3 L309.0 135.4 L309.1 134.3 L309.3 133.0 L309.4 131.6 L309.6 129.8 L309.8 127.7 L309.9 125.3 L310.1 122.6 L310.3 119.7 L310.5 116.7 L310.6 113.6 L310.8 110.3 L311.0 106.8 L311.2 103.2 L311.4 99.5 L311.6 95.8 L311.8 92.0 L312.0 88.3 L312.2 84.8 L312.4 81.3 L312.6 77.8 L312.8 74.3 L313.0 70.8 L313.2 67.0 L313.4 63.0 L313.7 59.4 L313.9 56.6 L314.1 54.4 L314.3 52.5 L314.6 50.9 L314.8 49.7 L315.0 48.8 L315.3 48.1 L315.5 47.7 L315.7 47.6 L316.0 47.6 L316.2 47.7 L316.5 47.8 L316.7 48.0 L317.0 48.3 L317.3 48.7 L317.5 49.1 L317.8 49.6 L318.1 50.2 L318.3 50.8 L318.6 51.5 L318.9 52.3 L319.1 53.2 L319.4 54.1 L319.7 55.1 L320.0 56.2 L320.3 57.4 L320.6 58.8 L320.9 60.5 L321.2 62.2 L321.5 64.0 L321.8 65.9 L322.1 67.8 L322.4 69.7 L322.7 71.6 L323.0 73.6 L323.3 75.6 L323.6 77.6 L323.9 79.6 L324.3 81.5 L324.6 83.2 L324.9 84.7 L325.3 86.0 L325.6 87.1 L325.9 88.0 L326.3 88.8 L326.6 89.5 L326.9 90.1 L327.3 90.7 L327.6 91.1 L328.0 91.5 L328.4 91.8 L328.7 92.2 L329.1 92.5 L329.4 92.8 L329.8 93.0 L330.2 93.3 L330.5 93.5 L330.9 93.7 L331.3 93.8 L331.7 93.9 L332.0 93.9 L332.4 93.9 L332.8 93.9 L333.2 93.8 L333.6 93.7 L334.0 93.6 L334.4 93.5 L334.8 93.3 L335.2 93.2 L335.6 93.0 L336.0 92.9 L336.4 92.8 L336.8 92.6 L337.2 92.5 L337.7 92.4 L338.1 92.3 L338.5 92.2 L338.9 92.0 L339.4 91.9 L339.8 91.8 L340.2 91.7 L340.7 91.6 L341.1 91.5 L341.5 91.3 L342.0 91.2 L342.4 91.1 L342.9 91.0 L343.3 90.8 L343.8 90.7 L344.3 90.5 L344.7 90.4 L345.2 90.3 L345.6 90.1 L346.1 90.0 L346.6 89.8 L347.1 89.7 L347.5 89.5 L348.0 89.4 L348.5 89.2 L349.0 89.1 L349.5 89.0 L350.0 88.8 L350.5 88.7 L350.9 88.5 L351.4 88.4 L351.9 88.3 L352.5 88.1 L353.0 88.0 L353.5 87.9 L354.0 87.7 L354.5 87.6 L355.0 87.5 L355.5 87.4 L356.1 87.3 L356.6 87.2 L357.1 87.1 L357.6 87.0 L358.2 86.9 L358.7 86.8 L359.2 86.7 L359.8 86.6 L360.3 86.5 L360.9 86.4 L361.4 86.3 L362.0 86.3 L362.5 86.2 L363.1 86.1 L363.6 86.1 L364.2 86.0 L364.8 86.0 L365.3 86.0 L365.9 86.0 L366.5 86.0 L367.0 85.9 L367.6 85.9 L368.2 85.9 L368.8 85.9 L369.4 85.9 L370.0 85.9 L370.6 85.9 L371.1 85.9 L371.7 85.9 L372.3 85.9 L372.9 85.9 L373.6 85.9 L374.2 85.9 L374.8 85.9 L375.4 85.9 L376.0 86.0 L376.6 86.0 L377.2 86.0 L377.9 86.0 L378.5 86.0 L379.1 86.0 L379.7 86.0 L380.4 86.0 L381.0 86.0 L381.6 86.0 L382.3 86.0 L382.9 86.0 L383.6 86.0 L384.2 86.1 L384.9 86.1 L385.5 86.1 L386.2 86.1 L386.9 86.1 L387.5 86.1 L388.2 86.1 L388.9 86.1 L389.5 86.1 L390.2 86.1 L390.9 86.1 L391.6 86.1 L392.2 86.1 L392.9 86.1 L393.6 86.1 L394.3 86.1 L395.0 86.1 L395.7 86.1 L396.4 86.1 L397.1 86.1 L397.8 86.1 L398.5 86.1 L399.2 86.1 L399.9 86.1 L400.6 86.1 L401.3 86.1 L402.1 86.1 L402.8 86.1 L403.5 86.1 L404.2 86.1 L405.0 86.1 L405.7 86.1 L406.4 86.1 L407.2 86.1 L407.9 86.1 L408.6 86.1 L409.4 86.1 L410.1 86.1 L410.9 86.0 L411.6 86.0 L412.4 86.0 L413.2 86.0 L413.9 86.0 L414.7 86.0 L415.4 86.0 L416.2 86.0 L417.0 86.0 L417.8 86.0 L418.5 86.0 L419.3 86.0 L420.1 86.0 L420.9 86.0 L421.7 86.0 L422.5 86.0 L423.3 86.0 L424.0 86.0 L424.8 86.0 L425.6 86.0 L426.5 86.0 L427.3 86.0 L428.1 86.0 L428.9 86.0 L429.7 86.0 L430.5 86.0 L431.3 86.0 L432.2 86.0 L433.0 86.0 L433.8 86.0 L434.6 86.0 L435.5 86.0 L436.3 86.0 L437.1 86.0 L438.0 86.0 L438.8 86.0 L439.7 86.0 L440.5 86.0 L441.4 86.0 L442.2 86.0 L443.1 86.0 L443.9 86.0 L444.8 86.0 L445.7 86.0 L446.5 86.0 L447.4 86.0 L448.3 86.0 L449.2 86.0 L450.0 86.0 L450.9 86.0 L451.8 86.0 L452.7 86.0 L453.6 86.0 L454.5 86.0 L455.4 86.0 L456.3 86.0 L457.2 86.0 L458.1 86.0 L459.0 86.0 L459.9 86.0 L460.8 86.0 L461.7 86.0 L462.6 86.0 L463.5 86.0 L464.4 86.0 L465.4 86.0 L466.3 86.0 L467.2 86.0 L468.1 86.0 L469.1 86.0 L470.0 86.0 L471.0 86.0 L471.9 86.0 L472.8 86.0 L473.8 86.0 L474.7 86.0 L475.7 86.0 L476.6 86.0 L477.6 86.0 L478.6 86.0 L479.5 86.0 L480.5 86.0 L481.5 86.0 L482.4 86.0 L483.4 86.0 L484.4 86.0 L485.4 86.0 L486.3 86.0 L487.3 86.0 L488.3 86.0 L489.3 86.0 L490.3 86.0 L491.3 86.0 L492.3 86.0 L493.3 86.0 L494.3 86.0 L495.3 86.0 L496.3 86.0 L497.3 86.0 L498.3 86.0 L499.3 86.0 L500.4 86.0 L501.4 86.0 L502.4 86.0 L503.4 86.0 L504.5 86.0 L505.5 86.0 L506.5 86.0 L507.6 86.0 L508.6 86.0 L509.7 86.0 L510.7 86.0 L511.8 86.0 L512.8 86.0 L513.9 86.0 L514.9 86.0 L516.0 86.0 L517.0 86.0 L518.1 86.0 L519.2 86.0 L520.2 86.0 L521.3 86.0 L522.4 86.0 L523.5 86.0 L524.5 86.0 L525.6 86.0 L526.7 86.0 L527.8 86.0 L528.9 86.0 L530.0 86.0 L531.1 86.0 L532.2 86.0 L533.3 86.0 L534.4 86.0 L535.5 86.0 L536.6 86.0 L537.7 86.0" fill="none" stroke="#7E2F8E" stroke-width="3.35" stroke-linejoin="round" stroke-dasharray="15.40 3.85 7.70 3.85" />
<path d="M304.5 88.6 L304.5 88.6 L304.5 88.6 L304.5 88.6 L304.5 88.6 L304.5 88.6 L304.5 88.6 L304.6 88.6 L304.6 88.6 L304.6 88.6 L304.6 88.6 L304.7 88.6 L304.7 88.6 L304.7 88.5 L304.8 88.5 L304.8 88.5 L304.8 88.5 L304.9 88.5 L304.9 88.5 L305.0 88.4 L305.0 88.4 L305.1 88.4 L305.1 88.4 L305.2 88.4 L305.3 88.3 L305.3 88.3 L305.4 88.3 L305.5 88.3 L305.5 88.2 L305.6 88.2 L305.7 88.2 L305.8 88.2 L305.9 88.1 L305.9 88.1 L306.0 88.1 L306.1 88.0 L306.2 88.0 L306.3 87.9 L306.4 87.9 L306.5 87.9 L306.6 87.8 L306.7 87.8 L306.8 87.7 L307.0 87.7 L307.1 87.7 L307.2 87.6 L307.3 87.6 L307.4 87.5 L307.6 87.5 L307.7 87.4 L307.8 87.4 L308.0 87.3 L308.1 87.3 L308.2 87.2 L308.4 87.1 L308.5 87.1 L308.7 87.0 L308.8 86.9 L309.0 86.9 L309.1 86.8 L309.3 86.7 L309.4 86.7 L309.6 86.6 L309.8 86.5 L309.9 86.5 L310.1 86.4 L310.3 86.3 L310.5 86.3 L310.6 86.2 L310.8 86.2 L311.0 86.1 L311.2 86.1 L311.4 86.0 L311.6 86.0 L311.8 85.9 L312.0 85.9 L312.2 85.9 L312.4 85.8 L312.6 85.8 L312.8 85.8 L313.0 85.7 L313.2 85.7 L313.4 85.7 L313.7 85.6 L313.9 85.6 L314.1 85.6 L314.3 85.5 L314.6 85.5 L314.8 85.5 L315.0 85.4 L315.3 85.4 L315.5 85.4 L315.7 85.4 L316.0 85.3 L316.2 85.3 L316.5 85.3 L316.7 85.3 L317.0 85.3 L317.3 85.2 L317.5 85.2 L317.8 85.2 L318.1 85.2 L318.3 85.2 L318.6 85.2 L318.9 85.2 L319.1 85.2 L319.4 85.2 L319.7 85.2 L320.0 85.2 L320.3 85.2 L320.6 85.2 L320.9 85.2 L321.2 85.2 L321.5 85.3 L321.8 85.3 L322.1 85.3 L322.4 85.3 L322.7 85.3 L323.0 85.3 L323.3 85.3 L323.6 85.3 L323.9 85.3 L324.3 85.3 L324.6 85.4 L324.9 85.4 L325.3 85.4 L325.6 85.4 L325.9 85.4 L326.3 85.4 L326.6 85.4 L326.9 85.4 L327.3 85.5 L327.6 85.5 L328.0 85.5 L328.4 85.5 L328.7 85.5 L329.1 85.5 L329.4 85.5 L329.8 85.5 L330.2 85.6 L330.5 85.6 L330.9 85.6 L331.3 85.6 L331.7 85.6 L332.0 85.7 L332.4 85.7 L332.8 85.7 L333.2 85.7 L333.6 85.7 L334.0 85.8 L334.4 85.8 L334.8 85.8 L335.2 85.8 L335.6 85.8 L336.0 85.8 L336.4 85.9 L336.8 85.9 L337.2 85.9 L337.7 85.9 L338.1 85.9 L338.5 85.9 L338.9 86.0 L339.4 86.0 L339.8 86.0 L340.2 86.0 L340.7 86.0 L341.1 86.0 L341.5 86.0 L342.0 86.0 L342.4 86.0 L342.9 86.0 L343.3 86.0 L343.8 86.0 L344.3 86.0 L344.7 86.0 L345.2 86.0 L345.6 86.0 L346.1 86.0 L346.6 86.0 L347.1 86.0 L347.5 86.0 L348.0 86.0 L348.5 86.0 L349.0 86.0 L349.5 86.0 L350.0 86.0 L350.5 86.0 L350.9 86.0 L351.4 86.0 L351.9 86.0 L352.5 86.0 L353.0 86.0 L353.5 86.0 L354.0 86.0 L354.5 86.0 L355.0 86.0 L355.5 86.0 L356.1 86.0 L356.6 86.0 L357.1 86.0 L357.6 86.0 L358.2 86.0 L358.7 86.0 L359.2 86.0 L359.8 86.0 L360.3 86.0 L360.9 86.0 L361.4 86.0 L362.0 86.0 L362.5 86.0 L363.1 86.0 L363.6 86.0 L364.2 86.0 L364.8 86.0 L365.3 86.0 L365.9 86.0 L366.5 86.0 L367.0 86.0 L367.6 86.0 L368.2 86.0 L368.8 86.0 L369.4 86.0 L370.0 86.0 L370.6 86.0 L371.1 86.0 L371.7 86.0 L372.3 86.0 L372.9 86.0 L373.6 86.0 L374.2 86.0 L374.8 86.0 L375.4 86.0 L376.0 86.0 L376.6 86.0 L377.2 86.0 L377.9 86.0 L378.5 86.0 L379.1 86.0 L379.7 86.0 L380.4 86.0 L381.0 86.0 L381.6 86.0 L382.3 86.0 L382.9 86.0 L383.6 86.0 L384.2 86.0 L384.9 86.0 L385.5 86.0 L386.2 86.0 L386.9 86.0 L387.5 86.0 L388.2 86.0 L388.9 86.0 L389.5 86.0 L390.2 86.0 L390.9 86.0 L391.6 86.0 L392.2 86.0 L392.9 86.0 L393.6 86.0 L394.3 86.0 L395.0 86.0 L395.7 86.0 L396.4 86.0 L397.1 86.0 L397.8 86.0 L398.5 86.0 L399.2 86.0 L399.9 86.0 L400.6 86.0 L401.3 86.0 L402.1 86.0 L402.8 86.0 L403.5 86.0 L404.2 86.0 L405.0 86.0 L405.7 86.0 L406.4 86.0 L407.2 86.0 L407.9 86.0 L408.6 86.0 L409.4 86.0 L410.1 86.0 L410.9 86.0 L411.6 86.0 L412.4 86.0 L413.2 86.0 L413.9 86.0 L414.7 86.0 L415.4 86.0 L416.2 86.0 L417.0 86.0 L417.8 86.0 L418.5 86.0 L419.3 86.0 L420.1 86.0 L420.9 86.0 L421.7 86.0 L422.5 86.0 L423.3 86.0 L424.0 86.0 L424.8 86.0 L425.6 86.0 L426.5 86.0 L427.3 86.0 L428.1 86.0 L428.9 86.0 L429.7 86.0 L430.5 86.0 L431.3 86.0 L432.2 86.0 L433.0 86.0 L433.8 86.0 L434.6 86.0 L435.5 86.0 L436.3 86.0 L437.1 86.0 L438.0 86.0 L438.8 86.0 L439.7 86.0 L440.5 86.0 L441.4 86.0 L442.2 86.0 L443.1 86.0 L443.9 86.0 L444.8 86.0 L445.7 86.0 L446.5 86.0 L447.4 86.0 L448.3 86.0 L449.2 86.0 L450.0 86.0 L450.9 86.0 L451.8 86.0 L452.7 86.0 L453.6 86.0 L454.5 86.0 L455.4 86.0 L456.3 86.0 L457.2 86.0 L458.1 86.0 L459.0 86.0 L459.9 86.0 L460.8 86.0 L461.7 86.0 L462.6 86.0 L463.5 86.0 L464.4 86.0 L465.4 86.0 L466.3 86.0 L467.2 86.0 L468.1 86.0 L469.1 86.0 L470.0 86.0 L471.0 86.0 L471.9 86.0 L472.8 86.0 L473.8 86.0 L474.7 86.0 L475.7 86.0 L476.6 86.0 L477.6 86.0 L478.6 86.0 L479.5 86.0 L480.5 86.0 L481.5 86.0 L482.4 86.0 L483.4 86.0 L484.4 86.0 L485.4 86.0 L486.3 86.0 L487.3 86.0 L488.3 86.0 L489.3 86.0 L490.3 86.0 L491.3 86.0 L492.3 86.0 L493.3 86.0 L494.3 86.0 L495.3 86.0 L496.3 86.0 L497.3 86.0 L498.3 86.0 L499.3 86.0 L500.4 86.0 L501.4 86.0 L502.4 86.0 L503.4 86.0 L504.5 86.0 L505.5 86.0 L506.5 86.0 L507.6 86.0 L508.6 86.0 L509.7 86.0 L510.7 86.0 L511.8 86.0 L512.8 86.0 L513.9 86.0 L514.9 86.0 L516.0 86.0 L517.0 86.0 L518.1 86.0 L519.2 86.0 L520.2 86.0 L521.3 86.0 L522.4 86.0 L523.5 86.0 L524.5 86.0 L525.6 86.0 L526.7 86.0 L527.8 86.0 L528.9 86.0 L530.0 86.0 L531.1 86.0 L532.2 86.0 L533.3 86.0 L534.4 86.0 L535.5 86.0 L536.6 86.0 L537.7 86.0" fill="none" stroke="#000000" stroke-width="4.10" stroke-linejoin="round" />
</g>
<rect x="383.30" y="21.00" width="145.00" height="57.30" fill="#fff" stroke="#4a4a4a" stroke-width="0.8"/>
<path d="M387.30 27.80 L425.20 27.80" fill="none" stroke="#0072BD" stroke-width="3.40" stroke-linejoin="round" />
<text transform="translate(428.00 31.00)" text-anchor="start" font-size="10.50" textLength="9.20" lengthAdjust="spacingAndGlyphs" stroke="#1a1a1a" stroke-width="0.2" >PI</text>
<path d="M387.30 39.30 L425.20 39.30" fill="none" stroke="#D95319" stroke-width="3.35" stroke-linejoin="round" stroke-dasharray="15.40 15.40" />
<text transform="translate(428.00 42.40)" text-anchor="start" font-size="10.50" textLength="23.60" lengthAdjust="spacingAndGlyphs" stroke="#1a1a1a" stroke-width="0.2" >FOPI</text>
<path d="M387.30 50.50 L425.20 50.50" fill="none" stroke="#EDB120" stroke-width="3.35" stroke-linejoin="round" stroke-dasharray="3.66 4.04" />
<text transform="translate(428.00 53.60)" text-anchor="start" font-size="10.50" textLength="15.60" lengthAdjust="spacingAndGlyphs" stroke="#1a1a1a" stroke-width="0.2" >FPI</text>
<path d="M387.30 61.80 L425.20 61.80" fill="none" stroke="#7E2F8E" stroke-width="3.35" stroke-linejoin="round" stroke-dasharray="15.40 3.85 7.70 3.85" />
<text transform="translate(428.00 65.00)" text-anchor="start" font-size="10.50" textLength="30.40" lengthAdjust="spacingAndGlyphs" stroke="#1a1a1a" stroke-width="0.2" >FFOPI</text>
<path d="M387.30 73.00 L425.20 73.00" fill="none" stroke="#000000" stroke-width="4.10" stroke-linejoin="round" />
<text transform="translate(428.00 76.00)" text-anchor="start" font-size="10.50" textLength="96.00" lengthAdjust="spacingAndGlyphs" stroke="#1a1a1a" stroke-width="0.2" >VIC based on FFOPI</text>
<text transform="translate(304.50 170.00)" text-anchor="middle" font-size="10.80" stroke="#1a1a1a" stroke-width="0.2" >0</text>
<text transform="translate(351.14 170.00)" text-anchor="middle" font-size="10.80" stroke="#1a1a1a" stroke-width="0.2" >1</text>
<text transform="translate(397.78 170.00)" text-anchor="middle" font-size="10.80" stroke="#1a1a1a" stroke-width="0.2" >2</text>
<text transform="translate(444.42 170.00)" text-anchor="middle" font-size="10.80" stroke="#1a1a1a" stroke-width="0.2" >3</text>
<text transform="translate(491.06 170.00)" text-anchor="middle" font-size="10.80" stroke="#1a1a1a" stroke-width="0.2" >4</text>
<text transform="translate(537.70 170.00)" text-anchor="middle" font-size="10.80" stroke="#1a1a1a" stroke-width="0.2" >5</text>
<text transform="translate(297.50 142.20)" text-anchor="end" font-size="10.80" stroke="#1a1a1a" stroke-width="0.2" >-2</text>
<text transform="translate(297.50 115.90)" text-anchor="end" font-size="10.80" stroke="#1a1a1a" stroke-width="0.2" >-1</text>
<text transform="translate(297.50 89.60)" text-anchor="end" font-size="10.80" stroke="#1a1a1a" stroke-width="0.2" >0</text>
<text transform="translate(297.50 63.30)" text-anchor="end" font-size="10.80" stroke="#1a1a1a" stroke-width="0.2" >1</text>
<text transform="translate(297.50 37.00)" text-anchor="end" font-size="10.80" stroke="#1a1a1a" stroke-width="0.2" >2</text>
<clipPath id="k2"><rect x="0" y="0" width="550" height="176.90"/></clipPath>
<g clip-path="url(#k2)">
<text transform="translate(381.00 175.60)" text-anchor="start" font-size="10.50" textLength="80.00" lengthAdjust="spacingAndGlyphs" stroke="#1a1a1a" stroke-width="0.05" >Time (Seconds)</text>
</g>
<text transform="translate(287.20 109.30) rotate(-90)" text-anchor="start" font-size="10.50" textLength="43.00" lengthAdjust="spacingAndGlyphs" stroke="#1a1a1a" stroke-width="0.2" >ΔF2 (P.U)</text>
<text transform="translate(305.90 14.70)" text-anchor="start" font-size="10.80" textLength="20.20" lengthAdjust="spacingAndGlyphs" stroke="#1a1a1a" stroke-width="0.2" >×10</text>
<text transform="translate(327.20 10.00)" text-anchor="start" font-size="9.00" textLength="8.20" lengthAdjust="spacingAndGlyphs" stroke="#1a1a1a" stroke-width="0.2" >-3</text>
<line x1="75.68" y1="206.80" x2="75.68" y2="336.50" stroke="#d9d9d9" stroke-width="0.65"/>
<line x1="121.76" y1="206.80" x2="121.76" y2="336.50" stroke="#d9d9d9" stroke-width="0.65"/>
<line x1="167.84" y1="206.80" x2="167.84" y2="336.50" stroke="#d9d9d9" stroke-width="0.65"/>
<line x1="213.92" y1="206.80" x2="213.92" y2="336.50" stroke="#d9d9d9" stroke-width="0.65"/>
<line x1="29.60" y1="271.70" x2="260.00" y2="271.70" stroke="#d9d9d9" stroke-width="0.65"/>
<rect x="29.60" y="206.80" width="230.40" height="129.70" fill="none" stroke="#262626" stroke-width="1.15"/>
<line x1="29.60" y1="336.50" x2="29.60" y2="334.10" stroke="#262626" stroke-width="0.9"/>
<line x1="29.60" y1="206.80" x2="29.60" y2="209.20" stroke="#262626" stroke-width="0.9"/>
<line x1="75.68" y1="336.50" x2="75.68" y2="334.10" stroke="#262626" stroke-width="0.9"/>
<line x1="75.68" y1="206.80" x2="75.68" y2="209.20" stroke="#262626" stroke-width="0.9"/>
<line x1="121.76" y1="336.50" x2="121.76" y2="334.10" stroke="#262626" stroke-width="0.9"/>
<line x1="121.76" y1="206.80" x2="121.76" y2="209.20" stroke="#262626" stroke-width="0.9"/>
<line x1="167.84" y1="336.50" x2="167.84" y2="334.10" stroke="#262626" stroke-width="0.9"/>
<line x1="167.84" y1="206.80" x2="167.84" y2="209.20" stroke="#262626" stroke-width="0.9"/>
<line x1="213.92" y1="336.50" x2="213.92" y2="334.10" stroke="#262626" stroke-width="0.9"/>
<line x1="213.92" y1="206.80" x2="213.92" y2="209.20" stroke="#262626" stroke-width="0.9"/>
<line x1="260.00" y1="336.50" x2="260.00" y2="334.10" stroke="#262626" stroke-width="0.9"/>
<line x1="260.00" y1="206.80" x2="260.00" y2="209.20" stroke="#262626" stroke-width="0.9"/>
<line x1="29.60" y1="336.50" x2="32.00" y2="336.50" stroke="#262626" stroke-width="0.9"/>
<line x1="260.00" y1="336.50" x2="257.60" y2="336.50" stroke="#262626" stroke-width="0.9"/>
<line x1="29.60" y1="271.70" x2="32.00" y2="271.70" stroke="#262626" stroke-width="0.9"/>
<line x1="260.00" y1="271.70" x2="257.60" y2="271.70" stroke="#262626" stroke-width="0.9"/>
<line x1="29.60" y1="206.90" x2="32.00" y2="206.90" stroke="#262626" stroke-width="0.9"/>
<line x1="260.00" y1="206.90" x2="257.60" y2="206.90" stroke="#262626" stroke-width="0.9"/>
<clipPath id="c3"><rect x="26.60" y="205.30" width="234.80" height="132.70"/></clipPath>
<g clip-path="url(#c3)">
<path d="M29.6 252.3 L29.6 252.3 L29.6 252.4 L29.6 252.6 L29.6 252.9 L29.6 253.2 L29.6 253.7 L29.7 254.2 L29.7 254.8 L29.7 255.5 L29.7 256.2 L29.8 257.0 L29.8 257.9 L29.8 258.9 L29.9 260.0 L29.9 261.1 L29.9 262.3 L30.0 263.5 L30.0 264.8 L30.1 266.1 L30.1 267.4 L30.2 268.8 L30.2 270.2 L30.3 271.5 L30.4 272.8 L30.4 274.1 L30.5 275.2 L30.6 276.3 L30.6 277.2 L30.7 277.9 L30.8 278.3 L30.9 278.7 L30.9 278.9 L31.0 278.9 L31.1 278.9 L31.2 278.7 L31.3 278.4 L31.4 277.9 L31.5 277.4 L31.6 276.7 L31.7 275.9 L31.8 275.0 L31.9 274.0 L32.0 273.0 L32.1 271.9 L32.3 270.8 L32.4 269.7 L32.5 268.6 L32.6 267.6 L32.8 266.7 L32.9 265.9 L33.0 265.4 L33.1 265.0 L33.3 264.9 L33.4 264.9 L33.6 265.1 L33.7 265.5 L33.9 266.1 L34.0 266.7 L34.2 267.6 L34.3 268.5 L34.5 269.5 L34.6 270.5 L34.8 271.6 L35.0 272.7 L35.1 273.7 L35.3 274.8 L35.5 275.9 L35.7 277.0 L35.8 278.1 L36.0 279.1 L36.2 280.1 L36.4 281.0 L36.6 281.7 L36.8 282.3 L37.0 282.6 L37.2 282.7 L37.4 282.5 L37.6 282.0 L37.8 281.1 L38.0 280.0 L38.2 278.6 L38.4 277.1 L38.6 275.3 L38.9 273.4 L39.1 271.5 L39.3 269.5 L39.5 267.3 L39.8 264.9 L40.0 262.3 L40.2 259.8 L40.5 257.5 L40.7 255.4 L41.0 253.8 L41.2 252.5 L41.4 251.4 L41.7 250.5 L41.9 249.8 L42.2 249.4 L42.5 249.3 L42.7 249.5 L43.0 249.8 L43.3 250.3 L43.5 251.0 L43.8 251.7 L44.1 252.6 L44.3 253.4 L44.6 254.4 L44.9 255.4 L45.2 256.4 L45.5 257.6 L45.8 258.8 L46.1 260.0 L46.4 261.2 L46.7 262.4 L47.0 263.6 L47.3 264.7 L47.6 265.7 L47.9 266.8 L48.2 267.9 L48.5 268.9 L48.8 269.9 L49.1 270.9 L49.5 271.8 L49.8 272.7 L50.1 273.7 L50.4 274.6 L50.8 275.4 L51.1 276.3 L51.4 277.2 L51.8 278.0 L52.1 278.9 L52.5 279.7 L52.8 280.5 L53.2 281.4 L53.5 282.3 L53.9 283.1 L54.2 284.0 L54.6 284.8 L55.0 285.6 L55.3 286.4 L55.7 287.2 L56.1 287.8 L56.4 288.5 L56.8 289.1 L57.2 289.7 L57.6 290.2 L58.0 290.8 L58.3 291.3 L58.7 291.8 L59.1 292.2 L59.5 292.7 L59.9 293.1 L60.3 293.6 L60.7 294.0 L61.1 294.4 L61.5 294.7 L61.9 295.1 L62.4 295.5 L62.8 295.9 L63.2 296.2 L63.6 296.6 L64.0 297.0 L64.5 297.3 L64.9 297.7 L65.3 298.0 L65.8 298.4 L66.2 298.7 L66.6 299.0 L67.1 299.3 L67.5 299.6 L68.0 299.8 L68.4 300.0 L68.9 300.3 L69.3 300.5 L69.8 300.7 L70.3 300.9 L70.7 301.0 L71.2 301.2 L71.6 301.4 L72.1 301.5 L72.6 301.7 L73.1 301.8 L73.5 302.0 L74.0 302.1 L74.5 302.2 L75.0 302.3 L75.5 302.4 L76.0 302.5 L76.5 302.6 L77.0 302.6 L77.5 302.7 L78.0 302.7 L78.5 302.8 L79.0 302.8 L79.5 302.8 L80.0 302.8 L80.5 302.8 L81.0 302.8 L81.6 302.8 L82.1 302.7 L82.6 302.7 L83.1 302.6 L83.7 302.6 L84.2 302.5 L84.8 302.5 L85.3 302.4 L85.8 302.3 L86.4 302.3 L86.9 302.2 L87.5 302.1 L88.0 302.0 L88.6 301.9 L89.1 301.8 L89.7 301.7 L90.3 301.6 L90.8 301.5 L91.4 301.4 L92.0 301.3 L92.5 301.2 L93.1 301.0 L93.7 300.9 L94.3 300.8 L94.9 300.7 L95.4 300.6 L96.0 300.5 L96.6 300.4 L97.2 300.3 L97.8 300.2 L98.4 300.0 L99.0 299.9 L99.6 299.8 L100.2 299.7 L100.8 299.5 L101.5 299.4 L102.1 299.3 L102.7 299.2 L103.3 299.0 L103.9 298.9 L104.6 298.8 L105.2 298.6 L105.8 298.5 L106.5 298.4 L107.1 298.3 L107.7 298.1 L108.4 298.0 L109.0 297.9 L109.7 297.7 L110.3 297.6 L111.0 297.5 L111.6 297.3 L112.3 297.2 L112.9 297.1 L113.6 297.0 L114.3 296.8 L114.9 296.7 L115.6 296.5 L116.3 296.4 L117.0 296.3 L117.6 296.1 L118.3 296.0 L119.0 295.9 L119.7 295.7 L120.4 295.6 L121.1 295.5 L121.8 295.3 L122.5 295.2 L123.2 295.1 L123.9 295.0 L124.6 294.9 L125.3 294.7 L126.0 294.6 L126.7 294.5 L127.4 294.4 L128.1 294.3 L128.8 294.2 L129.6 294.1 L130.3 294.0 L131.0 293.9 L131.8 293.8 L132.5 293.7 L133.2 293.6 L134.0 293.6 L134.7 293.5 L135.5 293.4 L136.2 293.3 L136.9 293.2 L137.7 293.2 L138.5 293.1 L139.2 293.0 L140.0 292.9 L140.7 292.9 L141.5 292.8 L142.3 292.7 L143.0 292.7 L143.8 292.6 L144.6 292.5 L145.4 292.5 L146.1 292.4 L146.9 292.4 L147.7 292.3 L148.5 292.2 L149.3 292.2 L150.1 292.1 L150.9 292.1 L151.7 292.0 L152.5 292.0 L153.3 291.9 L154.1 291.9 L154.9 291.8 L155.7 291.8 L156.5 291.7 L157.4 291.7 L158.2 291.6 L159.0 291.6 L159.8 291.5 L160.6 291.5 L161.5 291.5 L162.3 291.4 L163.1 291.4 L164.0 291.3 L164.8 291.3 L165.7 291.2 L166.5 291.2 L167.4 291.2 L168.2 291.1 L169.1 291.1 L169.9 291.0 L170.8 291.0 L171.7 291.0 L172.5 290.9 L173.4 290.9 L174.3 290.8 L175.1 290.8 L176.0 290.8 L176.9 290.7 L177.8 290.7 L178.6 290.6 L179.5 290.6 L180.4 290.6 L181.3 290.5 L182.2 290.5 L183.1 290.4 L184.0 290.4 L184.9 290.4 L185.8 290.3 L186.7 290.3 L187.6 290.2 L188.5 290.2 L189.4 290.2 L190.4 290.1 L191.3 290.1 L192.2 290.1 L193.1 290.0 L194.1 290.0 L195.0 289.9 L195.9 289.9 L196.9 289.9 L197.8 289.8 L198.7 289.8 L199.7 289.8 L200.6 289.7 L201.6 289.7 L202.5 289.6 L203.5 289.6 L204.4 289.6 L205.4 289.5 L206.4 289.5 L207.3 289.5 L208.3 289.4 L209.3 289.4 L210.2 289.3 L211.2 289.3 L212.2 289.3 L213.2 289.2 L214.2 289.2 L215.1 289.1 L216.1 289.1 L217.1 289.1 L218.1 289.0 L219.1 289.0 L220.1 289.0 L221.1 288.9 L222.1 288.9 L223.1 288.8 L224.1 288.8 L225.1 288.8 L226.2 288.7 L227.2 288.7 L228.2 288.7 L229.2 288.6 L230.2 288.6 L231.3 288.6 L232.3 288.5 L233.3 288.5 L234.4 288.4 L235.4 288.4 L236.4 288.4 L237.5 288.3 L238.5 288.3 L239.6 288.3 L240.6 288.2 L241.7 288.2 L242.7 288.2 L243.8 288.1 L244.9 288.1 L245.9 288.0 L247.0 288.0 L248.1 288.0 L249.1 287.9 L250.2 287.9 L251.3 287.9 L252.4 287.8 L253.4 287.8 L254.5 287.8 L255.6 287.7 L256.7 287.7 L257.8 287.6 L258.9 287.6 L260.0 287.6" fill="none" stroke="#0072BD" stroke-width="3.35" stroke-linejoin="round" />
<path d="M29.6 252.3 L29.6 252.3 L29.6 252.4 L29.6 252.6 L29.6 252.9 L29.6 253.2 L29.6 253.7 L29.7 254.2 L29.7 254.7 L29.7 255.4 L29.7 256.1 L29.8 256.9 L29.8 257.7 L29.8 258.6 L29.9 259.6 L29.9 260.6 L29.9 261.7 L30.0 262.8 L30.0 264.0 L30.1 265.2 L30.1 266.4 L30.2 267.6 L30.2 268.9 L30.3 270.1 L30.4 271.3 L30.4 272.4 L30.5 273.6 L30.6 274.6 L30.6 275.6 L30.7 276.4 L30.8 277.1 L30.9 277.7 L30.9 278.1 L31.0 278.2 L31.1 278.2 L31.2 277.9 L31.3 277.5 L31.4 276.8 L31.5 276.0 L31.6 275.0 L31.7 273.9 L31.8 272.6 L31.9 271.2 L32.0 269.8 L32.1 268.4 L32.3 266.9 L32.4 265.2 L32.5 263.5 L32.6 261.7 L32.8 260.1 L32.9 258.6 L33.0 257.3 L33.1 256.5 L33.3 256.1 L33.4 256.4 L33.6 257.1 L33.7 258.2 L33.9 259.7 L34.0 261.4 L34.2 263.3 L34.3 265.2 L34.5 267.0 L34.6 268.9 L34.8 270.8 L35.0 272.7 L35.1 274.5 L35.3 276.2 L35.5 277.6 L35.7 278.6 L35.8 279.5 L36.0 280.2 L36.2 280.8 L36.4 281.2 L36.6 281.4 L36.8 281.4 L37.0 281.0 L37.2 280.3 L37.4 279.4 L37.6 278.2 L37.8 276.9 L38.0 275.5 L38.2 274.0 L38.4 272.5 L38.6 271.0 L38.9 269.3 L39.1 267.6 L39.3 265.8 L39.5 264.1 L39.8 262.5 L40.0 261.1 L40.2 259.9 L40.5 258.8 L40.7 257.8 L41.0 256.9 L41.2 256.0 L41.4 255.4 L41.7 254.8 L41.9 254.4 L42.2 254.2 L42.5 254.2 L42.7 254.3 L43.0 254.6 L43.3 254.9 L43.5 255.3 L43.8 255.8 L44.1 256.4 L44.3 257.0 L44.6 257.5 L44.9 258.2 L45.2 258.8 L45.5 259.5 L45.8 260.2 L46.1 261.0 L46.4 261.7 L46.7 262.5 L47.0 263.2 L47.3 263.9 L47.6 264.6 L47.9 265.2 L48.2 265.8 L48.5 266.4 L48.8 266.9 L49.1 267.5 L49.5 268.0 L49.8 268.5 L50.1 269.0 L50.4 269.6 L50.8 270.1 L51.1 270.7 L51.4 271.2 L51.8 271.8 L52.1 272.4 L52.5 273.0 L52.8 273.7 L53.2 274.3 L53.5 275.0 L53.9 275.7 L54.2 276.3 L54.6 276.9 L55.0 277.6 L55.3 278.1 L55.7 278.7 L56.1 279.3 L56.4 279.8 L56.8 280.4 L57.2 280.9 L57.6 281.4 L58.0 282.0 L58.3 282.5 L58.7 283.0 L59.1 283.5 L59.5 284.0 L59.9 284.5 L60.3 285.0 L60.7 285.5 L61.1 286.0 L61.5 286.5 L61.9 287.0 L62.4 287.5 L62.8 288.0 L63.2 288.5 L63.6 289.0 L64.0 289.5 L64.5 289.9 L64.9 290.4 L65.3 290.8 L65.8 291.2 L66.2 291.6 L66.6 291.9 L67.1 292.3 L67.5 292.6 L68.0 292.9 L68.4 293.2 L68.9 293.5 L69.3 293.8 L69.8 294.0 L70.3 294.3 L70.7 294.5 L71.2 294.7 L71.6 295.0 L72.1 295.2 L72.6 295.4 L73.1 295.5 L73.5 295.7 L74.0 295.9 L74.5 296.0 L75.0 296.2 L75.5 296.3 L76.0 296.4 L76.5 296.5 L77.0 296.6 L77.5 296.7 L78.0 296.8 L78.5 296.9 L79.0 297.0 L79.5 297.1 L80.0 297.2 L80.5 297.3 L81.0 297.3 L81.6 297.4 L82.1 297.5 L82.6 297.5 L83.1 297.6 L83.7 297.6 L84.2 297.6 L84.8 297.6 L85.3 297.6 L85.8 297.6 L86.4 297.6 L86.9 297.6 L87.5 297.5 L88.0 297.5 L88.6 297.4 L89.1 297.4 L89.7 297.3 L90.3 297.2 L90.8 297.2 L91.4 297.1 L92.0 297.0 L92.5 296.9 L93.1 296.8 L93.7 296.7 L94.3 296.6 L94.9 296.5 L95.4 296.3 L96.0 296.2 L96.6 296.1 L97.2 296.0 L97.8 295.9 L98.4 295.7 L99.0 295.6 L99.6 295.5 L100.2 295.4 L100.8 295.2 L101.5 295.1 L102.1 294.9 L102.7 294.8 L103.3 294.7 L103.9 294.5 L104.6 294.4 L105.2 294.2 L105.8 294.1 L106.5 293.9 L107.1 293.8 L107.7 293.6 L108.4 293.5 L109.0 293.3 L109.7 293.2 L110.3 293.1 L111.0 292.9 L111.6 292.8 L112.3 292.7 L112.9 292.6 L113.6 292.4 L114.3 292.3 L114.9 292.2 L115.6 292.1 L116.3 291.9 L117.0 291.8 L117.6 291.7 L118.3 291.6 L119.0 291.5 L119.7 291.3 L120.4 291.2 L121.1 291.1 L121.8 291.0 L122.5 290.9 L123.2 290.8 L123.9 290.7 L124.6 290.6 L125.3 290.5 L126.0 290.4 L126.7 290.3 L127.4 290.2 L128.1 290.1 L128.8 290.0 L129.6 289.9 L130.3 289.8 L131.0 289.7 L131.8 289.6 L132.5 289.5 L133.2 289.4 L134.0 289.3 L134.7 289.3 L135.5 289.2 L136.2 289.1 L136.9 289.0 L137.7 288.9 L138.5 288.8 L139.2 288.8 L140.0 288.7 L140.7 288.6 L141.5 288.5 L142.3 288.4 L143.0 288.4 L143.8 288.3 L144.6 288.2 L145.4 288.1 L146.1 288.1 L146.9 288.0 L147.7 287.9 L148.5 287.8 L149.3 287.8 L150.1 287.7 L150.9 287.6 L151.7 287.6 L152.5 287.5 L153.3 287.4 L154.1 287.4 L154.9 287.3 L155.7 287.2 L156.5 287.2 L157.4 287.1 L158.2 287.0 L159.0 287.0 L159.8 286.9 L160.6 286.8 L161.5 286.8 L162.3 286.7 L163.1 286.6 L164.0 286.6 L164.8 286.5 L165.7 286.4 L166.5 286.4 L167.4 286.3 L168.2 286.3 L169.1 286.2 L169.9 286.1 L170.8 286.1 L171.7 286.0 L172.5 285.9 L173.4 285.9 L174.3 285.8 L175.1 285.8 L176.0 285.7 L176.9 285.6 L177.8 285.6 L178.6 285.5 L179.5 285.5 L180.4 285.4 L181.3 285.3 L182.2 285.3 L183.1 285.2 L184.0 285.2 L184.9 285.1 L185.8 285.0 L186.7 285.0 L187.6 284.9 L188.5 284.9 L189.4 284.8 L190.4 284.7 L191.3 284.7 L192.2 284.6 L193.1 284.6 L194.1 284.5 L195.0 284.5 L195.9 284.4 L196.9 284.3 L197.8 284.3 L198.7 284.2 L199.7 284.2 L200.6 284.1 L201.6 284.1 L202.5 284.0 L203.5 284.0 L204.4 283.9 L205.4 283.8 L206.4 283.8 L207.3 283.7 L208.3 283.7 L209.3 283.6 L210.2 283.6 L211.2 283.5 L212.2 283.5 L213.2 283.4 L214.2 283.4 L215.1 283.3 L216.1 283.2 L217.1 283.2 L218.1 283.1 L219.1 283.1 L220.1 283.0 L221.1 283.0 L222.1 282.9 L223.1 282.9 L224.1 282.8 L225.1 282.8 L226.2 282.7 L227.2 282.7 L228.2 282.6 L229.2 282.6 L230.2 282.5 L231.3 282.5 L232.3 282.4 L233.3 282.3 L234.4 282.3 L235.4 282.2 L236.4 282.2 L237.5 282.1 L238.5 282.1 L239.6 282.0 L240.6 282.0 L241.7 281.9 L242.7 281.9 L243.8 281.8 L244.9 281.8 L245.9 281.7 L247.0 281.7 L248.1 281.6 L249.1 281.6 L250.2 281.5 L251.3 281.5 L252.4 281.4 L253.4 281.4 L254.5 281.3 L255.6 281.3 L256.7 281.2 L257.8 281.2 L258.9 281.1 L260.0 281.1" fill="none" stroke="#D95319" stroke-width="3.35" stroke-linejoin="round" stroke-dasharray="0.0 26.4 48.1 20.0 13.4 14.7 18.2 16.5 13.5 16.0 14.1 15.1 13.7 15.3 13.6 15.0 13.6 15.2 13.6 14.8 12.2 2000.0" />
<path d="M29.6 258.7 L29.6 258.8 L29.6 258.8 L29.6 258.9 L29.6 259.1 L29.6 259.3 L29.6 259.5 L29.7 259.8 L29.7 260.1 L29.7 260.5 L29.7 260.9 L29.8 261.4 L29.8 261.9 L29.8 262.4 L29.9 263.0 L29.9 263.6 L29.9 264.2 L30.0 264.9 L30.0 265.5 L30.1 266.2 L30.1 266.9 L30.2 267.6 L30.2 268.3 L30.3 269.0 L30.4 269.6 L30.4 270.2 L30.5 270.7 L30.6 271.2 L30.6 271.5 L30.7 271.7 L30.8 271.7 L30.9 271.6 L30.9 271.5 L31.0 271.3 L31.1 271.0 L31.2 270.6 L31.3 270.1 L31.4 269.6 L31.5 269.0 L31.6 268.3 L31.7 267.6 L31.8 266.9 L31.9 266.1 L32.0 265.3 L32.1 264.5 L32.3 263.7 L32.4 263.0 L32.5 262.3 L32.6 261.7 L32.8 261.2 L32.9 260.9 L33.0 260.7 L33.1 260.7 L33.3 260.8 L33.4 261.1 L33.6 261.4 L33.7 261.8 L33.9 262.3 L34.0 262.9 L34.2 263.4 L34.3 264.0 L34.5 264.6 L34.6 265.2 L34.8 265.7 L35.0 266.1 L35.1 266.4 L35.3 266.5 L35.5 266.5 L35.7 266.3 L35.8 266.1 L36.0 265.8 L36.2 265.4 L36.4 265.0 L36.6 264.6 L36.8 264.1 L37.0 263.7 L37.2 263.3 L37.4 262.9 L37.6 262.7 L37.8 262.5 L38.0 262.4 L38.2 262.3 L38.4 262.2 L38.6 262.1 L38.9 261.9 L39.1 261.8 L39.3 261.7 L39.5 261.6 L39.8 261.6 L40.0 261.5 L40.2 261.4 L40.5 261.4 L40.7 261.4 L41.0 261.3 L41.2 261.3 L41.4 261.4 L41.7 261.5 L41.9 261.7 L42.2 262.0 L42.5 262.2 L42.7 262.6 L43.0 262.9 L43.3 263.3 L43.5 263.7 L43.8 264.1 L44.1 264.5 L44.3 264.9 L44.6 265.3 L44.9 265.6 L45.2 266.0 L45.5 266.4 L45.8 266.8 L46.1 267.2 L46.4 267.6 L46.7 268.0 L47.0 268.4 L47.3 268.8 L47.6 269.2 L47.9 269.6 L48.2 269.9 L48.5 270.3 L48.8 270.6 L49.1 271.0 L49.5 271.3 L49.8 271.7 L50.1 272.0 L50.4 272.3 L50.8 272.6 L51.1 272.8 L51.4 273.0 L51.8 273.1 L52.1 273.3 L52.5 273.4 L52.8 273.5 L53.2 273.7 L53.5 273.8 L53.9 273.9 L54.2 274.0 L54.6 274.1 L55.0 274.2 L55.3 274.3 L55.7 274.4 L56.1 274.5 L56.4 274.6 L56.8 274.7 L57.2 274.7 L57.6 274.8 L58.0 274.8 L58.3 274.9 L58.7 274.9 L59.1 274.9 L59.5 274.9 L59.9 274.9 L60.3 274.9 L60.7 274.9 L61.1 274.9 L61.5 274.9 L61.9 274.9 L62.4 274.9 L62.8 274.9 L63.2 274.8 L63.6 274.8 L64.0 274.8 L64.5 274.8 L64.9 274.7 L65.3 274.7 L65.8 274.7 L66.2 274.7 L66.6 274.6 L67.1 274.6 L67.5 274.6 L68.0 274.5 L68.4 274.5 L68.9 274.4 L69.3 274.4 L69.8 274.4 L70.3 274.3 L70.7 274.3 L71.2 274.3 L71.6 274.2 L72.1 274.2 L72.6 274.2 L73.1 274.1 L73.5 274.1 L74.0 274.1 L74.5 274.0 L75.0 274.0 L75.5 274.0 L76.0 274.0 L76.5 273.9 L77.0 273.9 L77.5 273.9 L78.0 273.9 L78.5 273.8 L79.0 273.8 L79.5 273.8 L80.0 273.8 L80.5 273.7 L81.0 273.7 L81.6 273.7 L82.1 273.7 L82.6 273.6 L83.1 273.6 L83.7 273.6 L84.2 273.6 L84.8 273.5 L85.3 273.5 L85.8 273.5 L86.4 273.5 L86.9 273.5 L87.5 273.4 L88.0 273.4 L88.6 273.4 L89.1 273.4 L89.7 273.3 L90.3 273.3 L90.8 273.3 L91.4 273.3 L92.0 273.3 L92.5 273.3 L93.1 273.2 L93.7 273.2 L94.3 273.2 L94.9 273.2 L95.4 273.2 L96.0 273.2 L96.6 273.2 L97.2 273.1 L97.8 273.1 L98.4 273.1 L99.0 273.1 L99.6 273.1 L100.2 273.1 L100.8 273.1 L101.5 273.1 L102.1 273.1 L102.7 273.1 L103.3 273.1 L103.9 273.1 L104.6 273.1 L105.2 273.1 L105.8 273.1 L106.5 273.1 L107.1 273.1 L107.7 273.1 L108.4 273.0 L109.0 273.0 L109.7 273.0 L110.3 273.0 L111.0 273.0 L111.6 273.0 L112.3 273.0 L112.9 273.0 L113.6 273.0 L114.3 273.0 L114.9 273.0 L115.6 273.0 L116.3 273.0 L117.0 273.0 L117.6 273.0 L118.3 273.0 L119.0 273.0 L119.7 273.0 L120.4 273.0 L121.1 273.0 L121.8 273.0 L122.5 273.0 L123.2 273.0 L123.9 273.0 L124.6 273.0 L125.3 273.0 L126.0 273.0 L126.7 273.0 L127.4 273.0 L128.1 273.0 L128.8 273.0 L129.6 273.0 L130.3 273.0 L131.0 273.0 L131.8 273.0 L132.5 273.0 L133.2 273.0 L134.0 273.0 L134.7 272.9 L135.5 272.9 L136.2 272.9 L136.9 272.9 L137.7 272.9 L138.5 272.9 L139.2 272.9 L140.0 272.9 L140.7 272.9 L141.5 272.9 L142.3 272.9 L143.0 272.9 L143.8 272.9 L144.6 272.9 L145.4 272.9 L146.1 272.8 L146.9 272.8 L147.7 272.8 L148.5 272.8 L149.3 272.7 L150.1 272.7 L150.9 272.6 L151.7 272.6 L152.5 272.5 L153.3 272.5 L154.1 272.4 L154.9 272.4 L155.7 272.3 L156.5 272.2 L157.4 272.2 L158.2 272.1 L159.0 272.1 L159.8 272.0 L160.6 272.0 L161.5 271.9 L162.3 271.9 L163.1 271.8 L164.0 271.8 L164.8 271.8 L165.7 271.7 L166.5 271.7 L167.4 271.7 L168.2 271.7 L169.1 271.7 L169.9 271.7 L170.8 271.7 L171.7 271.7 L172.5 271.7 L173.4 271.7 L174.3 271.7 L175.1 271.7 L176.0 271.7 L176.9 271.7 L177.8 271.7 L178.6 271.7 L179.5 271.7 L180.4 271.7 L181.3 271.7 L182.2 271.7 L183.1 271.7 L184.0 271.7 L184.9 271.7 L185.8 271.7 L186.7 271.7 L187.6 271.7 L188.5 271.7 L189.4 271.7 L190.4 271.7 L191.3 271.7 L192.2 271.7 L193.1 271.7 L194.1 271.7 L195.0 271.7 L195.9 271.7 L196.9 271.7 L197.8 271.7 L198.7 271.7 L199.7 271.7 L200.6 271.7 L201.6 271.7 L202.5 271.7 L203.5 271.7 L204.4 271.7 L205.4 271.7 L206.4 271.7 L207.3 271.7 L208.3 271.7 L209.3 271.7 L210.2 271.7 L211.2 271.7 L212.2 271.7 L213.2 271.7 L214.2 271.7 L215.1 271.7 L216.1 271.7 L217.1 271.7 L218.1 271.7 L219.1 271.7 L220.1 271.7 L221.1 271.7 L222.1 271.7 L223.1 271.7 L224.1 271.7 L225.1 271.7 L226.2 271.7 L227.2 271.7 L228.2 271.7 L229.2 271.7 L230.2 271.7 L231.3 271.7 L232.3 271.7 L233.3 271.7 L234.4 271.7 L235.4 271.7 L236.4 271.7 L237.5 271.7 L238.5 271.7 L239.6 271.7 L240.6 271.7 L241.7 271.7 L242.7 271.7 L243.8 271.7 L244.9 271.7 L245.9 271.7 L247.0 271.7 L248.1 271.7 L249.1 271.7 L250.2 271.7 L251.3 271.7 L252.4 271.7 L253.4 271.7 L254.5 271.7 L255.6 271.7 L256.7 271.7 L257.8 271.7 L258.9 271.7 L260.0 271.7" fill="none" stroke="#EDB120" stroke-width="3.35" stroke-linejoin="round" stroke-dasharray="3.66 4.04" />
<path d="M29.6 271.7 L29.6 271.7 L29.6 271.7 L29.6 271.7 L29.6 271.7 L29.6 271.7 L29.6 271.7 L29.7 271.7 L29.7 271.7 L29.7 271.7 L29.7 271.7 L29.8 271.7 L29.8 271.7 L29.8 271.7 L29.9 271.7 L29.9 271.7 L29.9 271.7 L30.0 271.7 L30.0 271.7 L30.1 271.7 L30.1 271.7 L30.2 271.7 L30.2 271.7 L30.3 271.7 L30.4 271.7 L30.4 271.7 L30.5 271.7 L30.6 271.7 L30.6 271.7 L30.7 271.7 L30.8 271.7 L30.9 271.7 L30.9 271.7 L31.0 271.7 L31.1 271.7 L31.2 271.6 L31.3 271.6 L31.4 271.6 L31.5 271.5 L31.6 271.5 L31.7 271.4 L31.8 271.4 L31.9 271.3 L32.0 271.3 L32.1 271.2 L32.3 271.1 L32.4 271.0 L32.5 270.9 L32.6 270.9 L32.8 270.8 L32.9 270.7 L33.0 270.6 L33.1 270.5 L33.3 270.4 L33.4 270.3 L33.6 270.2 L33.7 270.1 L33.9 270.0 L34.0 269.9 L34.2 269.8 L34.3 269.7 L34.5 269.6 L34.6 269.5 L34.8 269.4 L35.0 269.3 L35.1 269.2 L35.3 269.1 L35.5 269.0 L35.7 268.9 L35.8 268.7 L36.0 268.6 L36.2 268.5 L36.4 268.4 L36.6 268.2 L36.8 268.1 L37.0 268.0 L37.2 267.9 L37.4 267.7 L37.6 267.6 L37.8 267.5 L38.0 267.4 L38.2 267.3 L38.4 267.2 L38.6 267.1 L38.9 267.0 L39.1 267.0 L39.3 266.9 L39.5 266.9 L39.8 266.8 L40.0 266.8 L40.2 266.9 L40.5 266.9 L40.7 266.9 L41.0 267.0 L41.2 267.1 L41.4 267.2 L41.7 267.3 L41.9 267.4 L42.2 267.6 L42.5 267.7 L42.7 267.9 L43.0 268.1 L43.3 268.2 L43.5 268.4 L43.8 268.6 L44.1 268.8 L44.3 269.0 L44.6 269.1 L44.9 269.3 L45.2 269.5 L45.5 269.6 L45.8 269.8 L46.1 269.9 L46.4 270.1 L46.7 270.2 L47.0 270.4 L47.3 270.5 L47.6 270.7 L47.9 270.8 L48.2 271.0 L48.5 271.1 L48.8 271.3 L49.1 271.4 L49.5 271.5 L49.8 271.6 L50.1 271.7 L50.4 271.7 L50.8 271.8 L51.1 271.8 L51.4 271.9 L51.8 271.9 L52.1 272.0 L52.5 272.0 L52.8 272.1 L53.2 272.1 L53.5 272.2 L53.9 272.2 L54.2 272.2 L54.6 272.3 L55.0 272.3 L55.3 272.4 L55.7 272.4 L56.1 272.4 L56.4 272.5 L56.8 272.5 L57.2 272.6 L57.6 272.6 L58.0 272.6 L58.3 272.6 L58.7 272.7 L59.1 272.7 L59.5 272.7 L59.9 272.7 L60.3 272.8 L60.7 272.8 L61.1 272.8 L61.5 272.8 L61.9 272.8 L62.4 272.8 L62.8 272.9 L63.2 272.9 L63.6 272.9 L64.0 272.9 L64.5 272.9 L64.9 272.9 L65.3 272.9 L65.8 272.9 L66.2 272.9 L66.6 272.9 L67.1 272.9 L67.5 272.9 L68.0 272.9 L68.4 272.9 L68.9 272.9 L69.3 272.9 L69.8 272.9 L70.3 272.9 L70.7 272.9 L71.2 272.9 L71.6 272.9 L72.1 272.9 L72.6 272.9 L73.1 272.9 L73.5 272.9 L74.0 272.9 L74.5 272.9 L75.0 272.9 L75.5 272.9 L76.0 272.9 L76.5 272.9 L77.0 272.9 L77.5 272.9 L78.0 272.9 L78.5 272.9 L79.0 272.9 L79.5 272.9 L80.0 272.9 L80.5 272.9 L81.0 272.9 L81.6 272.9 L82.1 272.9 L82.6 272.9 L83.1 272.9 L83.7 272.9 L84.2 272.9 L84.8 272.9 L85.3 272.9 L85.8 272.9 L86.4 272.9 L86.9 272.9 L87.5 272.9 L88.0 272.9 L88.6 272.9 L89.1 272.9 L89.7 272.9 L90.3 272.9 L90.8 272.9 L91.4 272.9 L92.0 272.9 L92.5 272.9 L93.1 272.9 L93.7 272.9 L94.3 272.9 L94.9 272.9 L95.4 272.9 L96.0 272.9 L96.6 272.9 L97.2 272.9 L97.8 272.9 L98.4 272.9 L99.0 272.9 L99.6 272.9 L100.2 272.9 L100.8 272.9 L101.5 272.9 L102.1 272.9 L102.7 272.9 L103.3 272.9 L103.9 272.9 L104.6 272.9 L105.2 272.9 L105.8 272.9 L106.5 272.9 L107.1 272.9 L107.7 272.9 L108.4 272.9 L109.0 272.9 L109.7 272.9 L110.3 272.9 L111.0 272.9 L111.6 272.9 L112.3 272.9 L112.9 272.9 L113.6 272.9 L114.3 272.9 L114.9 272.9 L115.6 272.9 L116.3 272.9 L117.0 272.9 L117.6 272.9 L118.3 272.9 L119.0 272.9 L119.7 272.9 L120.4 272.9 L121.1 272.9 L121.8 272.9 L122.5 272.9 L123.2 272.9 L123.9 272.9 L124.6 272.9 L125.3 272.9 L126.0 272.9 L126.7 272.9 L127.4 272.9 L128.1 272.9 L128.8 272.9 L129.6 272.9 L130.3 272.9 L131.0 272.9 L131.8 272.9 L132.5 272.9 L133.2 272.9 L134.0 272.9 L134.7 272.9 L135.5 272.9 L136.2 272.8 L136.9 272.8 L137.7 272.8 L138.5 272.8 L139.2 272.8 L140.0 272.8 L140.7 272.7 L141.5 272.7 L142.3 272.7 L143.0 272.6 L143.8 272.6 L144.6 272.6 L145.4 272.5 L146.1 272.5 L146.9 272.5 L147.7 272.4 L148.5 272.4 L149.3 272.3 L150.1 272.3 L150.9 272.3 L151.7 272.2 L152.5 272.2 L153.3 272.1 L154.1 272.1 L154.9 272.1 L155.7 272.0 L156.5 272.0 L157.4 272.0 L158.2 271.9 L159.0 271.9 L159.8 271.9 L160.6 271.8 L161.5 271.8 L162.3 271.8 L163.1 271.8 L164.0 271.7 L164.8 271.7 L165.7 271.7 L166.5 271.7 L167.4 271.7 L168.2 271.7 L169.1 271.7 L169.9 271.7 L170.8 271.7 L171.7 271.7 L172.5 271.7 L173.4 271.7 L174.3 271.7 L175.1 271.7 L176.0 271.7 L176.9 271.7 L177.8 271.7 L178.6 271.7 L179.5 271.7 L180.4 271.7 L181.3 271.7 L182.2 271.7 L183.1 271.7 L184.0 271.7 L184.9 271.7 L185.8 271.7 L186.7 271.7 L187.6 271.7 L188.5 271.7 L189.4 271.7 L190.4 271.7 L191.3 271.7 L192.2 271.7 L193.1 271.7 L194.1 271.7 L195.0 271.7 L195.9 271.7 L196.9 271.7 L197.8 271.7 L198.7 271.7 L199.7 271.7 L200.6 271.7 L201.6 271.7 L202.5 271.7 L203.5 271.7 L204.4 271.7 L205.4 271.7 L206.4 271.7 L207.3 271.7 L208.3 271.7 L209.3 271.7 L210.2 271.7 L211.2 271.7 L212.2 271.7 L213.2 271.7 L214.2 271.7 L215.1 271.7 L216.1 271.7 L217.1 271.7 L218.1 271.7 L219.1 271.7 L220.1 271.7 L221.1 271.7 L222.1 271.7 L223.1 271.7 L224.1 271.7 L225.1 271.7 L226.2 271.7 L227.2 271.7 L228.2 271.7 L229.2 271.7 L230.2 271.7 L231.3 271.7 L232.3 271.7 L233.3 271.7 L234.4 271.7 L235.4 271.7 L236.4 271.7 L237.5 271.7 L238.5 271.7 L239.6 271.7 L240.6 271.7 L241.7 271.7 L242.7 271.7 L243.8 271.7 L244.9 271.7 L245.9 271.7 L247.0 271.7 L248.1 271.7 L249.1 271.7 L250.2 271.7 L251.3 271.7 L252.4 271.7 L253.4 271.7 L254.5 271.7 L255.6 271.7 L256.7 271.7 L257.8 271.7 L258.9 271.7 L260.0 271.7" fill="none" stroke="#7E2F8E" stroke-width="3.35" stroke-linejoin="round" stroke-dasharray="15.40 3.85 7.70 3.85" />
<line x1="29.60" y1="205.30" x2="29.60" y2="209.00" stroke="#0072BD" stroke-width="3.4"/>
<line x1="29.60" y1="207.00" x2="29.60" y2="220.00" stroke="#D95319" stroke-width="3.4"/>
<line x1="29.60" y1="219.00" x2="29.60" y2="226.00" stroke="#EDB120" stroke-width="3.4"/>
<line x1="28.10" y1="271.80" x2="260.00" y2="271.80" stroke="#000" stroke-width="3.9"/>
<line x1="29.20" y1="224.80" x2="29.20" y2="338.00" stroke="#000" stroke-width="4.3"/>
</g>
<rect x="120.20" y="206.80" width="139.80" height="57.40" fill="#fff" stroke="#4a4a4a" stroke-width="0.8"/>
<path d="M123.50 214.20 L160.30 214.20" fill="none" stroke="#0072BD" stroke-width="3.40" stroke-linejoin="round" />
<text transform="translate(163.00 217.00)" text-anchor="start" font-size="10.50" textLength="9.00" lengthAdjust="spacingAndGlyphs" stroke="#1a1a1a" stroke-width="0.2" >PI</text>
<path d="M123.50 225.00 L160.30 225.00" fill="none" stroke="#D95319" stroke-width="3.35" stroke-linejoin="round" stroke-dasharray="14.94 14.94" />
<text transform="translate(163.00 228.00)" text-anchor="start" font-size="10.50" textLength="23.00" lengthAdjust="spacingAndGlyphs" stroke="#1a1a1a" stroke-width="0.2" >FOPI</text>
<path d="M123.50 236.00 L160.30 236.00" fill="none" stroke="#EDB120" stroke-width="3.35" stroke-linejoin="round" stroke-dasharray="3.55 3.92" />
<text transform="translate(163.00 239.00)" text-anchor="start" font-size="10.50" textLength="15.00" lengthAdjust="spacingAndGlyphs" stroke="#1a1a1a" stroke-width="0.2" >FPI</text>
<path d="M123.50 246.90 L160.30 246.90" fill="none" stroke="#7E2F8E" stroke-width="3.35" stroke-linejoin="round" stroke-dasharray="14.94 3.73 7.47 3.73" />
<text transform="translate(163.00 250.00)" text-anchor="start" font-size="10.50" textLength="29.00" lengthAdjust="spacingAndGlyphs" stroke="#1a1a1a" stroke-width="0.2" >FFOPI</text>
<path d="M123.50 258.10 L160.30 258.10" fill="none" stroke="#000000" stroke-width="4.10" stroke-linejoin="round" />
<text transform="translate(163.00 261.00)" text-anchor="start" font-size="10.50" textLength="92.00" lengthAdjust="spacingAndGlyphs" stroke="#1a1a1a" stroke-width="0.2" >VIC based on FFOPI</text>
<text transform="translate(29.60 351.00)" text-anchor="middle" font-size="10.40" stroke="#1a1a1a" stroke-width="0.2" >0</text>
<text transform="translate(75.68 351.00)" text-anchor="middle" font-size="10.40" stroke="#1a1a1a" stroke-width="0.2" >2</text>
<text transform="translate(121.76 351.00)" text-anchor="middle" font-size="10.40" stroke="#1a1a1a" stroke-width="0.2" >4</text>
<text transform="translate(167.84 351.00)" text-anchor="middle" font-size="10.40" stroke="#1a1a1a" stroke-width="0.2" >6</text>
<text transform="translate(213.92 351.00)" text-anchor="middle" font-size="10.40" stroke="#1a1a1a" stroke-width="0.2" >8</text>
<text transform="translate(260.00 351.00)" text-anchor="middle" font-size="10.40" stroke="#1a1a1a" stroke-width="0.2" >10</text>
<text transform="translate(23.50 340.10)" text-anchor="end" font-size="10.40" stroke="#1a1a1a" stroke-width="0.2" >-1</text>
<text transform="translate(23.50 275.30)" text-anchor="end" font-size="10.40" stroke="#1a1a1a" stroke-width="0.2" >0</text>
<text transform="translate(23.50 210.50)" text-anchor="end" font-size="10.40" stroke="#1a1a1a" stroke-width="0.2" >1</text>
<text transform="translate(106.60 359.40)" text-anchor="start" font-size="10.50" textLength="75.80" lengthAdjust="spacingAndGlyphs" stroke="#1a1a1a" stroke-width="0.05" >Time (Seconds)</text>
<text transform="translate(14.50 293.00) rotate(-90)" text-anchor="start" font-size="10.50" textLength="43.00" lengthAdjust="spacingAndGlyphs" stroke="#1a1a1a" stroke-width="0.2" >ΔV1 (P.U)</text>
<text transform="translate(30.90 204.20)" text-anchor="start" font-size="10.60" textLength="19.60" lengthAdjust="spacingAndGlyphs" stroke="#1a1a1a" stroke-width="0.2" >×10</text>
<text transform="translate(51.60 199.60)" text-anchor="start" font-size="8.60" textLength="7.30" lengthAdjust="spacingAndGlyphs" stroke="#1a1a1a" stroke-width="0.2" >-4</text>
<line x1="352.28" y1="207.80" x2="352.28" y2="330.60" stroke="#d9d9d9" stroke-width="0.65"/>
<line x1="397.76" y1="207.80" x2="397.76" y2="330.60" stroke="#d9d9d9" stroke-width="0.65"/>
<line x1="443.24" y1="207.80" x2="443.24" y2="330.60" stroke="#d9d9d9" stroke-width="0.65"/>
<line x1="488.72" y1="207.80" x2="488.72" y2="330.60" stroke="#d9d9d9" stroke-width="0.65"/>
<line x1="306.80" y1="289.90" x2="534.20" y2="289.90" stroke="#d9d9d9" stroke-width="0.65"/>
<line x1="306.80" y1="249.00" x2="534.20" y2="249.00" stroke="#d9d9d9" stroke-width="0.65"/>
<rect x="306.80" y="207.80" width="227.40" height="122.80" fill="none" stroke="#262626" stroke-width="1.15"/>
<line x1="306.80" y1="330.60" x2="306.80" y2="328.20" stroke="#262626" stroke-width="0.9"/>
<line x1="306.80" y1="207.80" x2="306.80" y2="210.20" stroke="#262626" stroke-width="0.9"/>
<line x1="352.28" y1="330.60" x2="352.28" y2="328.20" stroke="#262626" stroke-width="0.9"/>
<line x1="352.28" y1="207.80" x2="352.28" y2="210.20" stroke="#262626" stroke-width="0.9"/>
<line x1="397.76" y1="330.60" x2="397.76" y2="328.20" stroke="#262626" stroke-width="0.9"/>
<line x1="397.76" y1="207.80" x2="397.76" y2="210.20" stroke="#262626" stroke-width="0.9"/>
<line x1="443.24" y1="330.60" x2="443.24" y2="328.20" stroke="#262626" stroke-width="0.9"/>
<line x1="443.24" y1="207.80" x2="443.24" y2="210.20" stroke="#262626" stroke-width="0.9"/>
<line x1="488.72" y1="330.60" x2="488.72" y2="328.20" stroke="#262626" stroke-width="0.9"/>
<line x1="488.72" y1="207.80" x2="488.72" y2="210.20" stroke="#262626" stroke-width="0.9"/>
<line x1="534.20" y1="330.60" x2="534.20" y2="328.20" stroke="#262626" stroke-width="0.9"/>
<line x1="534.20" y1="207.80" x2="534.20" y2="210.20" stroke="#262626" stroke-width="0.9"/>
<line x1="306.80" y1="330.80" x2="309.20" y2="330.80" stroke="#262626" stroke-width="0.9"/>
<line x1="534.20" y1="330.80" x2="531.80" y2="330.80" stroke="#262626" stroke-width="0.9"/>
<line x1="306.80" y1="289.90" x2="309.20" y2="289.90" stroke="#262626" stroke-width="0.9"/>
<line x1="534.20" y1="289.90" x2="531.80" y2="289.90" stroke="#262626" stroke-width="0.9"/>
<line x1="306.80" y1="249.00" x2="309.20" y2="249.00" stroke="#262626" stroke-width="0.9"/>
<line x1="534.20" y1="249.00" x2="531.80" y2="249.00" stroke="#262626" stroke-width="0.9"/>
<line x1="306.80" y1="208.10" x2="309.20" y2="208.10" stroke="#262626" stroke-width="0.9"/>
<line x1="534.20" y1="208.10" x2="531.80" y2="208.10" stroke="#262626" stroke-width="0.9"/>
<clipPath id="c4"><rect x="303.80" y="206.30" width="231.80" height="125.80"/></clipPath>
<g clip-path="url(#c4)">
<path d="M306.8 236.7 L306.8 236.8 L306.8 236.9 L306.8 237.0 L306.8 237.3 L306.8 237.6 L306.8 238.0 L306.9 238.5 L306.9 239.0 L306.9 239.6 L306.9 240.3 L307.0 241.0 L307.0 241.8 L307.0 242.7 L307.1 243.6 L307.1 244.6 L307.1 245.7 L307.2 246.9 L307.2 248.1 L307.3 249.4 L307.3 250.8 L307.4 252.2 L307.4 253.7 L307.5 255.2 L307.5 256.9 L307.6 258.6 L307.7 260.4 L307.7 262.2 L307.8 264.2 L307.9 266.3 L308.0 268.5 L308.0 270.8 L308.1 273.2 L308.2 275.7 L308.3 278.3 L308.4 280.9 L308.5 283.6 L308.6 286.3 L308.7 289.0 L308.8 291.6 L308.9 294.2 L309.0 296.6 L309.1 298.9 L309.2 301.0 L309.3 302.8 L309.4 304.3 L309.5 305.5 L309.7 306.2 L309.8 306.4 L309.9 306.2 L310.0 305.7 L310.2 304.8 L310.3 303.6 L310.4 302.1 L310.6 300.4 L310.7 298.4 L310.9 296.3 L311.0 294.1 L311.2 291.8 L311.3 289.5 L311.5 287.3 L311.6 285.2 L311.8 283.2 L311.9 281.2 L312.1 279.3 L312.3 277.4 L312.4 275.6 L312.6 274.0 L312.8 272.6 L313.0 271.5 L313.1 270.7 L313.3 270.3 L313.5 270.3 L313.7 270.7 L313.9 271.5 L314.1 272.6 L314.3 274.0 L314.5 275.6 L314.7 277.4 L314.9 279.4 L315.1 281.6 L315.3 283.8 L315.5 286.0 L315.7 288.2 L315.9 290.3 L316.2 292.4 L316.4 294.6 L316.6 296.8 L316.8 299.0 L317.1 301.3 L317.3 303.4 L317.5 305.6 L317.8 307.6 L318.0 309.5 L318.2 311.2 L318.5 312.7 L318.7 313.9 L319.0 314.9 L319.2 315.5 L319.5 315.7 L319.8 315.6 L320.0 315.3 L320.3 314.7 L320.5 313.8 L320.8 312.8 L321.1 311.6 L321.4 310.3 L321.6 308.9 L321.9 307.4 L322.2 305.8 L322.5 304.3 L322.8 302.8 L323.0 301.3 L323.3 299.8 L323.6 298.2 L323.9 296.7 L324.2 295.1 L324.5 293.5 L324.8 291.9 L325.1 290.2 L325.5 288.6 L325.8 286.9 L326.1 285.2 L326.4 283.5 L326.7 281.8 L327.0 280.1 L327.4 278.3 L327.7 276.5 L328.0 274.7 L328.4 272.7 L328.7 270.8 L329.0 268.9 L329.4 267.0 L329.7 265.2 L330.1 263.5 L330.4 261.9 L330.8 260.5 L331.1 259.3 L331.5 258.3 L331.8 257.3 L332.2 256.5 L332.6 255.8 L332.9 255.1 L333.3 254.5 L333.7 254.0 L334.0 253.5 L334.4 253.1 L334.8 252.7 L335.2 252.3 L335.6 252.0 L335.9 251.6 L336.3 251.3 L336.7 250.9 L337.1 250.6 L337.5 250.3 L337.9 249.9 L338.3 249.5 L338.7 249.1 L339.1 248.7 L339.5 248.2 L340.0 247.7 L340.4 247.2 L340.8 246.7 L341.2 246.1 L341.6 245.6 L342.1 245.0 L342.5 244.5 L342.9 244.0 L343.4 243.5 L343.8 243.0 L344.2 242.6 L344.7 242.1 L345.1 241.6 L345.6 241.2 L346.0 240.8 L346.5 240.4 L346.9 240.0 L347.4 239.6 L347.8 239.2 L348.3 238.9 L348.8 238.6 L349.2 238.3 L349.7 238.1 L350.2 237.9 L350.7 237.7 L351.1 237.5 L351.6 237.3 L352.1 237.2 L352.6 237.0 L353.1 236.9 L353.6 236.8 L354.1 236.7 L354.5 236.6 L355.0 236.5 L355.5 236.4 L356.1 236.4 L356.6 236.3 L357.1 236.3 L357.6 236.3 L358.1 236.3 L358.6 236.4 L359.1 236.4 L359.7 236.4 L360.2 236.5 L360.7 236.6 L361.2 236.6 L361.8 236.7 L362.3 236.8 L362.8 236.9 L363.4 237.0 L363.9 237.1 L364.5 237.2 L365.0 237.3 L365.6 237.5 L366.1 237.6 L366.7 237.7 L367.2 237.9 L367.8 238.0 L368.4 238.2 L368.9 238.4 L369.5 238.6 L370.1 238.7 L370.6 238.9 L371.2 239.1 L371.8 239.3 L372.4 239.5 L373.0 239.7 L373.5 239.9 L374.1 240.1 L374.7 240.3 L375.3 240.5 L375.9 240.7 L376.5 240.9 L377.1 241.1 L377.7 241.3 L378.3 241.4 L378.9 241.6 L379.6 241.8 L380.2 242.0 L380.8 242.2 L381.4 242.4 L382.0 242.6 L382.7 242.7 L383.3 242.9 L383.9 243.1 L384.5 243.2 L385.2 243.4 L385.8 243.6 L386.5 243.7 L387.1 243.8 L387.8 244.0 L388.4 244.1 L389.1 244.3 L389.7 244.4 L390.4 244.5 L391.0 244.7 L391.7 244.8 L392.4 244.9 L393.0 245.0 L393.7 245.1 L394.4 245.2 L395.0 245.3 L395.7 245.5 L396.4 245.5 L397.1 245.6 L397.8 245.7 L398.4 245.8 L399.1 245.9 L399.8 246.0 L400.5 246.0 L401.2 246.1 L401.9 246.2 L402.6 246.3 L403.3 246.3 L404.0 246.4 L404.8 246.5 L405.5 246.5 L406.2 246.6 L406.9 246.6 L407.6 246.7 L408.3 246.7 L409.1 246.7 L409.8 246.8 L410.5 246.8 L411.3 246.9 L412.0 246.9 L412.7 246.9 L413.5 247.0 L414.2 247.0 L415.0 247.0 L415.7 247.0 L416.5 247.1 L417.2 247.1 L418.0 247.1 L418.8 247.1 L419.5 247.1 L420.3 247.2 L421.1 247.2 L421.8 247.2 L422.6 247.2 L423.4 247.2 L424.2 247.2 L424.9 247.2 L425.7 247.2 L426.5 247.2 L427.3 247.3 L428.1 247.3 L428.9 247.3 L429.7 247.3 L430.5 247.3 L431.3 247.3 L432.1 247.3 L432.9 247.3 L433.7 247.3 L434.5 247.3 L435.3 247.3 L436.1 247.3 L437.0 247.3 L437.8 247.3 L438.6 247.3 L439.4 247.3 L440.3 247.4 L441.1 247.4 L441.9 247.4 L442.8 247.4 L443.6 247.4 L444.5 247.4 L445.3 247.4 L446.2 247.4 L447.0 247.4 L447.9 247.4 L448.7 247.4 L449.6 247.4 L450.4 247.4 L451.3 247.4 L452.2 247.4 L453.0 247.4 L453.9 247.4 L454.8 247.4 L455.7 247.4 L456.5 247.4 L457.4 247.4 L458.3 247.4 L459.2 247.4 L460.1 247.4 L461.0 247.4 L461.9 247.4 L462.8 247.4 L463.7 247.4 L464.6 247.4 L465.5 247.4 L466.4 247.4 L467.3 247.4 L468.2 247.4 L469.1 247.4 L470.0 247.4 L471.0 247.5 L471.9 247.5 L472.8 247.5 L473.7 247.5 L474.7 247.5 L475.6 247.5 L476.5 247.5 L477.5 247.5 L478.4 247.5 L479.4 247.5 L480.3 247.5 L481.3 247.5 L482.2 247.5 L483.2 247.5 L484.1 247.5 L485.1 247.5 L486.0 247.5 L487.0 247.5 L488.0 247.5 L488.9 247.5 L489.9 247.5 L490.9 247.5 L491.9 247.5 L492.9 247.5 L493.8 247.5 L494.8 247.5 L495.8 247.5 L496.8 247.5 L497.8 247.5 L498.8 247.5 L499.8 247.5 L500.8 247.5 L501.8 247.5 L502.8 247.5 L503.8 247.5 L504.8 247.5 L505.8 247.5 L506.9 247.5 L507.9 247.5 L508.9 247.5 L509.9 247.5 L510.9 247.5 L512.0 247.5 L513.0 247.5 L514.0 247.5 L515.1 247.5 L516.1 247.5 L517.2 247.5 L518.2 247.5 L519.3 247.6 L520.3 247.6 L521.4 247.6 L522.4 247.6 L523.5 247.6 L524.5 247.6 L525.6 247.6 L526.7 247.6 L527.7 247.6 L528.8 247.6 L529.9 247.6 L531.0 247.6 L532.0 247.6 L533.1 247.6 L534.2 247.6" fill="none" stroke="#0072BD" stroke-width="3.35" stroke-linejoin="round" />
<path d="M306.8 236.7 L306.8 236.8 L306.8 236.9 L306.8 237.1 L306.8 237.3 L306.8 237.7 L306.8 238.1 L306.9 238.6 L306.9 239.1 L306.9 239.7 L306.9 240.4 L307.0 241.2 L307.0 242.1 L307.0 243.0 L307.1 244.0 L307.1 245.0 L307.1 246.2 L307.2 247.3 L307.2 248.6 L307.3 249.9 L307.3 251.3 L307.4 252.7 L307.4 254.2 L307.5 255.7 L307.5 257.3 L307.6 258.8 L307.7 260.5 L307.7 262.1 L307.8 263.8 L307.9 265.6 L308.0 267.4 L308.0 269.3 L308.1 271.2 L308.2 273.2 L308.3 275.2 L308.4 277.2 L308.5 279.3 L308.6 281.3 L308.7 283.3 L308.8 285.2 L308.9 287.1 L309.0 288.9 L309.1 290.5 L309.2 292.0 L309.3 293.3 L309.4 294.4 L309.5 295.3 L309.7 295.8 L309.8 296.1 L309.9 295.9 L310.0 295.5 L310.2 294.8 L310.3 293.8 L310.4 292.6 L310.6 291.2 L310.7 289.6 L310.9 287.8 L311.0 286.0 L311.2 284.1 L311.3 282.2 L311.5 280.3 L311.6 278.2 L311.8 276.1 L311.9 273.9 L312.1 271.7 L312.3 269.6 L312.4 267.8 L312.6 266.2 L312.8 265.1 L313.0 264.5 L313.1 264.3 L313.3 264.3 L313.5 264.6 L313.7 265.2 L313.9 266.0 L314.1 267.1 L314.3 268.3 L314.5 269.7 L314.7 271.3 L314.9 273.0 L315.1 274.7 L315.3 276.6 L315.5 278.4 L315.7 280.3 L315.9 282.1 L316.2 283.9 L316.4 285.8 L316.6 287.7 L316.8 289.7 L317.1 291.6 L317.3 293.6 L317.5 295.4 L317.8 297.2 L318.0 298.8 L318.2 300.3 L318.5 301.6 L318.7 302.6 L319.0 303.3 L319.2 303.8 L319.5 303.8 L319.8 303.6 L320.0 303.2 L320.3 302.5 L320.5 301.5 L320.8 300.4 L321.1 299.0 L321.4 297.5 L321.6 295.7 L321.9 293.5 L322.2 290.8 L322.5 288.1 L322.8 285.5 L323.0 283.4 L323.3 281.9 L323.6 280.6 L323.9 279.6 L324.2 278.7 L324.5 278.0 L324.8 277.4 L325.1 277.0 L325.5 276.5 L325.8 276.1 L326.1 275.7 L326.4 275.2 L326.7 274.6 L327.0 274.1 L327.4 273.5 L327.7 272.8 L328.0 272.2 L328.4 271.4 L328.7 270.7 L329.0 269.9 L329.4 269.0 L329.7 268.0 L330.1 267.0 L330.4 265.9 L330.8 264.7 L331.1 263.5 L331.5 262.4 L331.8 261.3 L332.2 260.3 L332.6 259.3 L332.9 258.4 L333.3 257.6 L333.7 256.8 L334.0 256.1 L334.4 255.4 L334.8 254.7 L335.2 254.1 L335.6 253.5 L335.9 252.9 L336.3 252.4 L336.7 251.9 L337.1 251.5 L337.5 251.1 L337.9 250.6 L338.3 250.2 L338.7 249.9 L339.1 249.5 L339.5 249.2 L340.0 248.9 L340.4 248.5 L340.8 248.3 L341.2 248.0 L341.6 247.7 L342.1 247.5 L342.5 247.2 L342.9 247.0 L343.4 246.8 L343.8 246.6 L344.2 246.4 L344.7 246.2 L345.1 246.0 L345.6 245.8 L346.0 245.6 L346.5 245.4 L346.9 245.2 L347.4 245.1 L347.8 244.9 L348.3 244.7 L348.8 244.5 L349.2 244.3 L349.7 244.1 L350.2 243.9 L350.7 243.7 L351.1 243.5 L351.6 243.3 L352.1 243.1 L352.6 242.9 L353.1 242.8 L353.6 242.6 L354.1 242.4 L354.5 242.3 L355.0 242.1 L355.5 242.0 L356.1 241.8 L356.6 241.7 L357.1 241.6 L357.6 241.5 L358.1 241.4 L358.6 241.3 L359.1 241.2 L359.7 241.1 L360.2 241.0 L360.7 240.9 L361.2 240.9 L361.8 240.8 L362.3 240.7 L362.8 240.7 L363.4 240.6 L363.9 240.6 L364.5 240.5 L365.0 240.5 L365.6 240.5 L366.1 240.4 L366.7 240.4 L367.2 240.4 L367.8 240.4 L368.4 240.4 L368.9 240.4 L369.5 240.4 L370.1 240.5 L370.6 240.5 L371.2 240.5 L371.8 240.5 L372.4 240.6 L373.0 240.6 L373.5 240.7 L374.1 240.7 L374.7 240.8 L375.3 240.8 L375.9 240.9 L376.5 240.9 L377.1 241.0 L377.7 241.0 L378.3 241.1 L378.9 241.2 L379.6 241.2 L380.2 241.3 L380.8 241.4 L381.4 241.4 L382.0 241.5 L382.7 241.6 L383.3 241.6 L383.9 241.7 L384.5 241.8 L385.2 241.9 L385.8 241.9 L386.5 242.0 L387.1 242.1 L387.8 242.2 L388.4 242.3 L389.1 242.3 L389.7 242.4 L390.4 242.5 L391.0 242.6 L391.7 242.7 L392.4 242.8 L393.0 242.8 L393.7 242.9 L394.4 243.0 L395.0 243.1 L395.7 243.2 L396.4 243.3 L397.1 243.4 L397.8 243.4 L398.4 243.5 L399.1 243.6 L399.8 243.7 L400.5 243.8 L401.2 243.9 L401.9 244.0 L402.6 244.1 L403.3 244.2 L404.0 244.3 L404.8 244.4 L405.5 244.5 L406.2 244.5 L406.9 244.6 L407.6 244.7 L408.3 244.8 L409.1 244.9 L409.8 245.0 L410.5 245.1 L411.3 245.2 L412.0 245.3 L412.7 245.4 L413.5 245.4 L414.2 245.5 L415.0 245.6 L415.7 245.7 L416.5 245.8 L417.2 245.9 L418.0 246.0 L418.8 246.1 L419.5 246.2 L420.3 246.2 L421.1 246.3 L421.8 246.4 L422.6 246.5 L423.4 246.6 L424.2 246.7 L424.9 246.7 L425.7 246.8 L426.5 246.9 L427.3 247.0 L428.1 247.0 L428.9 247.1 L429.7 247.2 L430.5 247.3 L431.3 247.3 L432.1 247.4 L432.9 247.4 L433.7 247.5 L434.5 247.6 L435.3 247.6 L436.1 247.7 L437.0 247.7 L437.8 247.8 L438.6 247.8 L439.4 247.9 L440.3 247.9 L441.1 248.0 L441.9 248.0 L442.8 248.1 L443.6 248.1 L444.5 248.2 L445.3 248.2 L446.2 248.3 L447.0 248.3 L447.9 248.4 L448.7 248.4 L449.6 248.4 L450.4 248.5 L451.3 248.5 L452.2 248.5 L453.0 248.5 L453.9 248.6 L454.8 248.6 L455.7 248.6 L456.5 248.6 L457.4 248.7 L458.3 248.7 L459.2 248.7 L460.1 248.7 L461.0 248.7 L461.9 248.8 L462.8 248.8 L463.7 248.8 L464.6 248.8 L465.5 248.8 L466.4 248.8 L467.3 248.8 L468.2 248.9 L469.1 248.9 L470.0 248.9 L471.0 248.9 L471.9 248.9 L472.8 248.9 L473.7 248.9 L474.7 248.9 L475.6 248.9 L476.5 248.9 L477.5 249.0 L478.4 249.0 L479.4 249.0 L480.3 249.0 L481.3 249.0 L482.2 249.0 L483.2 249.0 L484.1 249.0 L485.1 249.0 L486.0 249.0 L487.0 249.0 L488.0 249.0 L488.9 249.0 L489.9 249.0 L490.9 249.0 L491.9 249.0 L492.9 249.0 L493.8 249.0 L494.8 249.0 L495.8 249.0 L496.8 249.0 L497.8 249.0 L498.8 249.0 L499.8 249.0 L500.8 249.0 L501.8 249.0 L502.8 249.0 L503.8 249.0 L504.8 249.0 L505.8 249.0 L506.9 249.0 L507.9 249.0 L508.9 249.0 L509.9 249.0 L510.9 249.0 L512.0 249.0 L513.0 249.0 L514.0 249.0 L515.1 249.0 L516.1 249.0 L517.2 249.0 L518.2 249.0 L519.3 249.0 L520.3 249.0 L521.4 249.0 L522.4 249.0 L523.5 249.0 L524.5 249.0 L525.6 249.0 L526.7 249.0 L527.7 249.0 L528.8 249.0 L529.9 249.0 L531.0 249.0 L532.0 249.0 L533.1 249.0 L534.2 249.0" fill="none" stroke="#D95319" stroke-width="3.35" stroke-linejoin="round" stroke-dasharray="0.0 68.2 64.6 19.4 17.8 10.0 10.9 21.9 12.6 15.5 13.1 15.1 11.2 16.0 12.5 15.9 12.5 14.8 12.5 2000.0" />
<path d="M306.8 249.0 L306.8 249.1 L306.8 249.3 L306.8 249.6 L306.8 250.0 L306.8 250.6 L306.8 251.3 L306.9 252.1 L306.9 253.0 L306.9 254.0 L306.9 255.1 L307.0 256.4 L307.0 257.7 L307.0 259.1 L307.1 260.6 L307.1 262.1 L307.1 263.7 L307.2 265.3 L307.2 267.0 L307.3 268.7 L307.3 270.3 L307.4 272.0 L307.4 273.6 L307.5 275.1 L307.5 276.5 L307.6 277.8 L307.7 278.9 L307.7 279.8 L307.8 280.5 L307.9 280.8 L308.0 280.9 L308.0 280.6 L308.1 279.9 L308.2 278.9 L308.3 277.7 L308.4 276.1 L308.5 274.4 L308.6 272.6 L308.7 270.8 L308.8 269.0 L308.9 267.4 L309.0 266.1 L309.1 265.3 L309.2 264.7 L309.3 264.1 L309.4 263.5 L309.5 262.9 L309.7 262.3 L309.8 261.8 L309.9 261.3 L310.0 260.8 L310.2 260.4 L310.3 260.0 L310.4 259.7 L310.6 259.5 L310.7 259.3 L310.9 259.2 L311.0 259.2 L311.2 259.2 L311.3 259.3 L311.5 259.3 L311.6 259.3 L311.8 259.4 L311.9 259.4 L312.1 259.5 L312.3 259.5 L312.4 259.6 L312.6 259.7 L312.8 259.7 L313.0 259.8 L313.1 259.9 L313.3 259.9 L313.5 260.0 L313.7 260.1 L313.9 260.1 L314.1 260.2 L314.3 260.3 L314.5 260.3 L314.7 260.4 L314.9 260.5 L315.1 260.5 L315.3 260.6 L315.5 260.7 L315.7 260.8 L315.9 260.9 L316.2 260.9 L316.4 261.0 L316.6 261.1 L316.8 261.2 L317.1 261.3 L317.3 261.4 L317.5 261.5 L317.8 261.6 L318.0 261.7 L318.2 261.9 L318.5 262.0 L318.7 262.1 L319.0 262.3 L319.2 262.4 L319.5 262.4 L319.8 262.5 L320.0 262.5 L320.3 262.4 L320.5 262.3 L320.8 262.0 L321.1 261.7 L321.4 261.3 L321.6 260.9 L321.9 260.5 L322.2 260.0 L322.5 259.6 L322.8 259.2 L323.0 258.7 L323.3 258.2 L323.6 257.7 L323.9 257.1 L324.2 256.5 L324.5 255.9 L324.8 255.4 L325.1 254.8 L325.5 254.2 L325.8 253.7 L326.1 253.2 L326.4 252.7 L326.7 252.2 L327.0 251.8 L327.4 251.3 L327.7 250.9 L328.0 250.5 L328.4 250.1 L328.7 249.7 L329.0 249.4 L329.4 249.1 L329.7 248.9 L330.1 248.7 L330.4 248.4 L330.8 248.2 L331.1 248.0 L331.5 247.8 L331.8 247.5 L332.2 247.4 L332.6 247.2 L332.9 247.0 L333.3 246.9 L333.7 246.7 L334.0 246.7 L334.4 246.6 L334.8 246.6 L335.2 246.5 L335.6 246.6 L335.9 246.6 L336.3 246.6 L336.7 246.7 L337.1 246.7 L337.5 246.8 L337.9 246.8 L338.3 246.9 L338.7 247.0 L339.1 247.0 L339.5 247.1 L340.0 247.2 L340.4 247.2 L340.8 247.3 L341.2 247.4 L341.6 247.4 L342.1 247.5 L342.5 247.5 L342.9 247.6 L343.4 247.6 L343.8 247.6 L344.2 247.6 L344.7 247.6 L345.1 247.6 L345.6 247.7 L346.0 247.7 L346.5 247.7 L346.9 247.7 L347.4 247.7 L347.8 247.7 L348.3 247.7 L348.8 247.7 L349.2 247.8 L349.7 247.8 L350.2 247.8 L350.7 247.8 L351.1 247.8 L351.6 247.8 L352.1 247.8 L352.6 247.8 L353.1 247.8 L353.6 247.8 L354.1 247.9 L354.5 247.9 L355.0 247.9 L355.5 247.9 L356.1 247.9 L356.6 247.9 L357.1 247.9 L357.6 247.9 L358.1 247.9 L358.6 247.9 L359.1 247.9 L359.7 247.9 L360.2 247.9 L360.7 247.9 L361.2 248.0 L361.8 248.0 L362.3 248.0 L362.8 248.0 L363.4 248.0 L363.9 248.0 L364.5 248.0 L365.0 248.0 L365.6 248.0 L366.1 248.0 L366.7 248.0 L367.2 248.0 L367.8 248.0 L368.4 248.0 L368.9 248.0 L369.5 248.0 L370.1 248.0 L370.6 248.0 L371.2 248.0 L371.8 248.0 L372.4 248.0 L373.0 248.0 L373.5 248.1 L374.1 248.1 L374.7 248.1 L375.3 248.1 L375.9 248.1 L376.5 248.1 L377.1 248.1 L377.7 248.1 L378.3 248.1 L378.9 248.1 L379.6 248.1 L380.2 248.1 L380.8 248.1 L381.4 248.1 L382.0 248.1 L382.7 248.1 L383.3 248.1 L383.9 248.1 L384.5 248.1 L385.2 248.1 L385.8 248.1 L386.5 248.1 L387.1 248.1 L387.8 248.1 L388.4 248.1 L389.1 248.1 L389.7 248.1 L390.4 248.1 L391.0 248.1 L391.7 248.1 L392.4 248.1 L393.0 248.2 L393.7 248.2 L394.4 248.2 L395.0 248.2 L395.7 248.2 L396.4 248.2 L397.1 248.2 L397.8 248.2 L398.4 248.2 L399.1 248.2 L399.8 248.2 L400.5 248.2 L401.2 248.2 L401.9 248.2 L402.6 248.2 L403.3 248.2 L404.0 248.2 L404.8 248.2 L405.5 248.2 L406.2 248.3 L406.9 248.3 L407.6 248.3 L408.3 248.3 L409.1 248.3 L409.8 248.3 L410.5 248.3 L411.3 248.3 L412.0 248.3 L412.7 248.3 L413.5 248.3 L414.2 248.3 L415.0 248.3 L415.7 248.3 L416.5 248.4 L417.2 248.4 L418.0 248.4 L418.8 248.4 L419.5 248.4 L420.3 248.4 L421.1 248.4 L421.8 248.4 L422.6 248.4 L423.4 248.4 L424.2 248.4 L424.9 248.4 L425.7 248.4 L426.5 248.5 L427.3 248.5 L428.1 248.5 L428.9 248.5 L429.7 248.5 L430.5 248.5 L431.3 248.5 L432.1 248.5 L432.9 248.5 L433.7 248.5 L434.5 248.5 L435.3 248.5 L436.1 248.5 L437.0 248.5 L437.8 248.6 L438.6 248.6 L439.4 248.6 L440.3 248.6 L441.1 248.6 L441.9 248.6 L442.8 248.6 L443.6 248.6 L444.5 248.6 L445.3 248.6 L446.2 248.6 L447.0 248.6 L447.9 248.6 L448.7 248.6 L449.6 248.6 L450.4 248.6 L451.3 248.6 L452.2 248.6 L453.0 248.7 L453.9 248.7 L454.8 248.7 L455.7 248.7 L456.5 248.7 L457.4 248.7 L458.3 248.7 L459.2 248.7 L460.1 248.7 L461.0 248.7 L461.9 248.7 L462.8 248.7 L463.7 248.7 L464.6 248.7 L465.5 248.7 L466.4 248.7 L467.3 248.7 L468.2 248.7 L469.1 248.7 L470.0 248.8 L471.0 248.8 L471.9 248.8 L472.8 248.8 L473.7 248.8 L474.7 248.8 L475.6 248.8 L476.5 248.8 L477.5 248.8 L478.4 248.8 L479.4 248.8 L480.3 248.8 L481.3 248.8 L482.2 248.8 L483.2 248.8 L484.1 248.8 L485.1 248.8 L486.0 248.8 L487.0 248.8 L488.0 248.8 L488.9 248.9 L489.9 248.9 L490.9 248.9 L491.9 248.9 L492.9 248.9 L493.8 248.9 L494.8 248.9 L495.8 248.9 L496.8 248.9 L497.8 248.9 L498.8 248.9 L499.8 248.9 L500.8 248.9 L501.8 248.9 L502.8 248.9 L503.8 248.9 L504.8 248.9 L505.8 248.9 L506.9 248.9 L507.9 248.9 L508.9 248.9 L509.9 248.9 L510.9 248.9 L512.0 248.9 L513.0 248.9 L514.0 249.0 L515.1 249.0 L516.1 249.0 L517.2 249.0 L518.2 249.0 L519.3 249.0 L520.3 249.0 L521.4 249.0 L522.4 249.0 L523.5 249.0 L524.5 249.0 L525.6 249.0 L526.7 249.0 L527.7 249.0 L528.8 249.0 L529.9 249.0 L531.0 249.0 L532.0 249.0 L533.1 249.0 L534.2 249.0" fill="none" stroke="#EDB120" stroke-width="3.35" stroke-linejoin="round" stroke-dasharray="3.40 3.76" />
<path d="M306.8 249.0 L306.8 249.0 L306.8 249.0 L306.8 249.0 L306.8 249.1 L306.8 249.1 L306.8 249.1 L306.9 249.2 L306.9 249.3 L306.9 249.3 L306.9 249.4 L307.0 249.5 L307.0 249.6 L307.0 249.7 L307.1 249.8 L307.1 249.9 L307.1 250.0 L307.2 250.1 L307.2 250.3 L307.3 250.4 L307.3 250.6 L307.4 250.7 L307.4 250.9 L307.5 251.0 L307.5 251.2 L307.6 251.3 L307.7 251.5 L307.7 251.7 L307.8 251.8 L307.9 251.9 L308.0 252.1 L308.0 252.2 L308.1 252.2 L308.2 252.3 L308.3 252.4 L308.4 252.4 L308.5 252.5 L308.6 252.6 L308.7 252.6 L308.8 252.7 L308.9 252.7 L309.0 252.8 L309.1 252.8 L309.2 252.9 L309.3 252.9 L309.4 253.0 L309.5 253.0 L309.7 253.1 L309.8 253.1 L309.9 253.2 L310.0 253.2 L310.2 253.3 L310.3 253.3 L310.4 253.3 L310.6 253.4 L310.7 253.4 L310.9 253.4 L311.0 253.5 L311.2 253.5 L311.3 253.5 L311.5 253.5 L311.6 253.5 L311.8 253.5 L311.9 253.6 L312.1 253.6 L312.3 253.6 L312.4 253.6 L312.6 253.6 L312.8 253.6 L313.0 253.7 L313.1 253.7 L313.3 253.7 L313.5 253.7 L313.7 253.7 L313.9 253.7 L314.1 253.8 L314.3 253.8 L314.5 253.8 L314.7 253.8 L314.9 253.8 L315.1 253.8 L315.3 253.8 L315.5 253.8 L315.7 253.9 L315.9 253.9 L316.2 253.9 L316.4 253.9 L316.6 253.9 L316.8 253.9 L317.1 253.9 L317.3 253.9 L317.5 253.9 L317.8 253.9 L318.0 253.9 L318.2 253.9 L318.5 253.9 L318.7 253.9 L319.0 253.9 L319.2 253.8 L319.5 253.8 L319.8 253.8 L320.0 253.7 L320.3 253.7 L320.5 253.6 L320.8 253.6 L321.1 253.5 L321.4 253.4 L321.6 253.3 L321.9 253.3 L322.2 253.2 L322.5 253.1 L322.8 253.0 L323.0 252.9 L323.3 252.8 L323.6 252.7 L323.9 252.6 L324.2 252.5 L324.5 252.4 L324.8 252.3 L325.1 252.2 L325.5 252.1 L325.8 252.0 L326.1 251.9 L326.4 251.7 L326.7 251.6 L327.0 251.4 L327.4 251.3 L327.7 251.1 L328.0 250.9 L328.4 250.8 L328.7 250.6 L329.0 250.5 L329.4 250.3 L329.7 250.2 L330.1 250.0 L330.4 249.8 L330.8 249.6 L331.1 249.4 L331.5 249.3 L331.8 249.1 L332.2 249.0 L332.6 249.0 L332.9 249.0 L333.3 248.9 L333.7 248.9 L334.0 248.9 L334.4 248.8 L334.8 248.8 L335.2 248.8 L335.6 248.8 L335.9 248.7 L336.3 248.7 L336.7 248.7 L337.1 248.7 L337.5 248.7 L337.9 248.6 L338.3 248.6 L338.7 248.6 L339.1 248.6 L339.5 248.6 L340.0 248.6 L340.4 248.6 L340.8 248.6 L341.2 248.6 L341.6 248.6 L342.1 248.6 L342.5 248.6 L342.9 248.6 L343.4 248.6 L343.8 248.6 L344.2 248.6 L344.7 248.6 L345.1 248.6 L345.6 248.6 L346.0 248.6 L346.5 248.6 L346.9 248.6 L347.4 248.6 L347.8 248.6 L348.3 248.6 L348.8 248.6 L349.2 248.6 L349.7 248.6 L350.2 248.6 L350.7 248.6 L351.1 248.6 L351.6 248.6 L352.1 248.6 L352.6 248.6 L353.1 248.6 L353.6 248.6 L354.1 248.6 L354.5 248.6 L355.0 248.6 L355.5 248.6 L356.1 248.6 L356.6 248.6 L357.1 248.6 L357.6 248.6 L358.1 248.6 L358.6 248.6 L359.1 248.6 L359.7 248.6 L360.2 248.6 L360.7 248.6 L361.2 248.6 L361.8 248.6 L362.3 248.6 L362.8 248.6 L363.4 248.6 L363.9 248.6 L364.5 248.6 L365.0 248.6 L365.6 248.6 L366.1 248.6 L366.7 248.6 L367.2 248.6 L367.8 248.6 L368.4 248.6 L368.9 248.6 L369.5 248.6 L370.1 248.6 L370.6 248.6 L371.2 248.6 L371.8 248.6 L372.4 248.6 L373.0 248.6 L373.5 248.6 L374.1 248.6 L374.7 248.6 L375.3 248.6 L375.9 248.6 L376.5 248.6 L377.1 248.6 L377.7 248.6 L378.3 248.6 L378.9 248.6 L379.6 248.6 L380.2 248.6 L380.8 248.6 L381.4 248.6 L382.0 248.6 L382.7 248.6 L383.3 248.6 L383.9 248.6 L384.5 248.6 L385.2 248.6 L385.8 248.6 L386.5 248.6 L387.1 248.6 L387.8 248.6 L388.4 248.6 L389.1 248.6 L389.7 248.6 L390.4 248.6 L391.0 248.6 L391.7 248.6 L392.4 248.6 L393.0 248.6 L393.7 248.6 L394.4 248.6 L395.0 248.6 L395.7 248.6 L396.4 248.6 L397.1 248.6 L397.8 248.6 L398.4 248.6 L399.1 248.6 L399.8 248.6 L400.5 248.6 L401.2 248.6 L401.9 248.6 L402.6 248.6 L403.3 248.6 L404.0 248.6 L404.8 248.6 L405.5 248.6 L406.2 248.6 L406.9 248.6 L407.6 248.6 L408.3 248.6 L409.1 248.6 L409.8 248.6 L410.5 248.6 L411.3 248.6 L412.0 248.6 L412.7 248.6 L413.5 248.6 L414.2 248.6 L415.0 248.6 L415.7 248.6 L416.5 248.6 L417.2 248.6 L418.0 248.6 L418.8 248.6 L419.5 248.6 L420.3 248.6 L421.1 248.6 L421.8 248.6 L422.6 248.6 L423.4 248.6 L424.2 248.6 L424.9 248.6 L425.7 248.6 L426.5 248.6 L427.3 248.6 L428.1 248.6 L428.9 248.6 L429.7 248.6 L430.5 248.6 L431.3 248.6 L432.1 248.6 L432.9 248.6 L433.7 248.6 L434.5 248.6 L435.3 248.6 L436.1 248.6 L437.0 248.6 L437.8 248.6 L438.6 248.6 L439.4 248.6 L440.3 248.6 L441.1 248.6 L441.9 248.6 L442.8 248.7 L443.6 248.7 L444.5 248.7 L445.3 248.7 L446.2 248.7 L447.0 248.7 L447.9 248.7 L448.7 248.7 L449.6 248.7 L450.4 248.7 L451.3 248.7 L452.2 248.7 L453.0 248.7 L453.9 248.7 L454.8 248.7 L455.7 248.7 L456.5 248.7 L457.4 248.7 L458.3 248.7 L459.2 248.7 L460.1 248.7 L461.0 248.7 L461.9 248.7 L462.8 248.7 L463.7 248.7 L464.6 248.7 L465.5 248.7 L466.4 248.7 L467.3 248.7 L468.2 248.7 L469.1 248.7 L470.0 248.7 L471.0 248.7 L471.9 248.7 L472.8 248.7 L473.7 248.7 L474.7 248.7 L475.6 248.7 L476.5 248.7 L477.5 248.7 L478.4 248.7 L479.4 248.7 L480.3 248.7 L481.3 248.7 L482.2 248.8 L483.2 248.8 L484.1 248.8 L485.1 248.8 L486.0 248.8 L487.0 248.8 L488.0 248.8 L488.9 248.8 L489.9 248.8 L490.9 248.8 L491.9 248.8 L492.9 248.8 L493.8 248.8 L494.8 248.8 L495.8 248.8 L496.8 248.8 L497.8 248.8 L498.8 248.8 L499.8 248.8 L500.8 248.8 L501.8 248.8 L502.8 248.8 L503.8 248.8 L504.8 248.8 L505.8 248.8 L506.9 248.8 L507.9 248.9 L508.9 248.9 L509.9 248.9 L510.9 248.9 L512.0 248.9 L513.0 248.9 L514.0 248.9 L515.1 248.9 L516.1 248.9 L517.2 248.9 L518.2 248.9 L519.3 248.9 L520.3 248.9 L521.4 248.9 L522.4 248.9 L523.5 248.9 L524.5 248.9 L525.6 248.9 L526.7 249.0 L527.7 249.0 L528.8 249.0 L529.9 249.0 L531.0 249.0 L532.0 249.0 L533.1 249.0 L534.2 249.0" fill="none" stroke="#7E2F8E" stroke-width="3.35" stroke-linejoin="round" stroke-dasharray="14.32 3.58 7.16 3.58" />
<line x1="306.80" y1="227.30" x2="306.80" y2="231.00" stroke="#D95319" stroke-width="3.4"/>
<line x1="305.30" y1="249.00" x2="534.20" y2="249.00" stroke="#000" stroke-width="4.0"/>
<line x1="307.30" y1="228.50" x2="307.30" y2="274.40" stroke="#000" stroke-width="4.6"/>
</g>
<rect x="328.90" y="286.90" width="205.30" height="43.70" fill="#fff" stroke="#4a4a4a" stroke-width="0.8"/>
<path d="M332.60 295.00 L367.50 295.00" fill="none" stroke="#0072BD" stroke-width="3.40" stroke-linejoin="round" />
<text transform="translate(370.70 298.90)" text-anchor="start" font-size="12.00" textLength="8.60" lengthAdjust="spacingAndGlyphs" stroke="#1a1a1a" stroke-width="0.2" >PI</text>
<path d="M332.60 309.00 L367.50 309.00" fill="none" stroke="#D95319" stroke-width="3.35" stroke-linejoin="round" stroke-dasharray="14.17 14.17" />
<text transform="translate(370.70 312.60)" text-anchor="start" font-size="12.00" textLength="22.30" lengthAdjust="spacingAndGlyphs" stroke="#1a1a1a" stroke-width="0.2" >FOPI</text>
<path d="M332.60 322.80 L367.50 322.80" fill="none" stroke="#EDB120" stroke-width="3.35" stroke-linejoin="round" stroke-dasharray="3.37 3.72" />
<text transform="translate(370.70 326.60)" text-anchor="start" font-size="12.00" textLength="15.00" lengthAdjust="spacingAndGlyphs" stroke="#1a1a1a" stroke-width="0.2" >FPI</text>
<path d="M401.40 295.00 L436.30 295.00" fill="none" stroke="#7E2F8E" stroke-width="3.35" stroke-linejoin="round" stroke-dasharray="14.17 3.54 7.08 3.54" />
<text transform="translate(439.80 298.90)" text-anchor="start" font-size="12.00" textLength="28.60" lengthAdjust="spacingAndGlyphs" stroke="#1a1a1a" stroke-width="0.2" >FFOPI</text>
<path d="M401.40 309.00 L436.30 309.00" fill="none" stroke="#000000" stroke-width="4.10" stroke-linejoin="round" />
<text transform="translate(439.80 312.60)" text-anchor="start" font-size="12.00" textLength="90.00" lengthAdjust="spacingAndGlyphs" stroke="#1a1a1a" stroke-width="0.2" >VIC based on FFOPI</text>
<text transform="translate(304.40 348.30)" text-anchor="start" font-size="12.00" textLength="4.80" lengthAdjust="spacingAndGlyphs" stroke="#1a1a1a" stroke-width="0.2" >0</text>
<text transform="translate(349.88 348.30)" text-anchor="start" font-size="12.00" textLength="4.80" lengthAdjust="spacingAndGlyphs" stroke="#1a1a1a" stroke-width="0.2" >2</text>
<text transform="translate(395.36 348.30)" text-anchor="start" font-size="12.00" textLength="4.80" lengthAdjust="spacingAndGlyphs" stroke="#1a1a1a" stroke-width="0.2" >4</text>
<text transform="translate(440.84 348.30)" text-anchor="start" font-size="12.00" textLength="4.80" lengthAdjust="spacingAndGlyphs" stroke="#1a1a1a" stroke-width="0.2" >6</text>
<text transform="translate(486.32 348.30)" text-anchor="start" font-size="12.00" textLength="4.80" lengthAdjust="spacingAndGlyphs" stroke="#1a1a1a" stroke-width="0.2" >8</text>
<text transform="translate(529.40 348.30)" text-anchor="start" font-size="12.00" textLength="9.60" lengthAdjust="spacingAndGlyphs" stroke="#1a1a1a" stroke-width="0.2" >10</text>
<text transform="translate(293.03 334.80)" text-anchor="start" font-size="12.00" textLength="7.97" lengthAdjust="spacingAndGlyphs" stroke="#1a1a1a" stroke-width="0.2" >-2</text>
<text transform="translate(293.03 293.90)" text-anchor="start" font-size="12.00" textLength="7.97" lengthAdjust="spacingAndGlyphs" stroke="#1a1a1a" stroke-width="0.2" >-1</text>
<text transform="translate(296.20 253.00)" text-anchor="start" font-size="12.00" textLength="4.80" lengthAdjust="spacingAndGlyphs" stroke="#1a1a1a" stroke-width="0.2" >0</text>
<text transform="translate(296.20 212.10)" text-anchor="start" font-size="12.00" textLength="4.80" lengthAdjust="spacingAndGlyphs" stroke="#1a1a1a" stroke-width="0.2" >1</text>
<text transform="translate(386.00 357.40)" text-anchor="start" font-size="12.00" textLength="73.40" lengthAdjust="spacingAndGlyphs" stroke="#1a1a1a" stroke-width="0.05" >Time (Seconds)</text>
<text transform="translate(289.30 300.00) rotate(-90)" text-anchor="start" font-size="12.50" textLength="58.00" lengthAdjust="spacingAndGlyphs" stroke="#1a1a1a" stroke-width="0.2" >ΔV2 (P.U)</text>
<text transform="translate(307.90 204.50)" text-anchor="start" font-size="12.50" textLength="19.80" lengthAdjust="spacingAndGlyphs" stroke="#1a1a1a" stroke-width="0.2" >×10</text>
<text transform="translate(328.30 198.70)" text-anchor="start" font-size="10.50" textLength="7.60" lengthAdjust="spacingAndGlyphs" stroke="#1a1a1a" stroke-width="0.2" >-4</text>
<text x="266.9" y="186.5" font-size="9.8" fill="#222" textLength="11.3" lengthAdjust="spacingAndGlyphs">(<tspan font-weight="bold">a</tspan>)</text>
<text x="266.2" y="375.4" font-size="9.8" fill="#222" textLength="12.6" lengthAdjust="spacingAndGlyphs">(<tspan font-weight="bold">b</tspan>)</text>
</g></svg>
</body></html>
